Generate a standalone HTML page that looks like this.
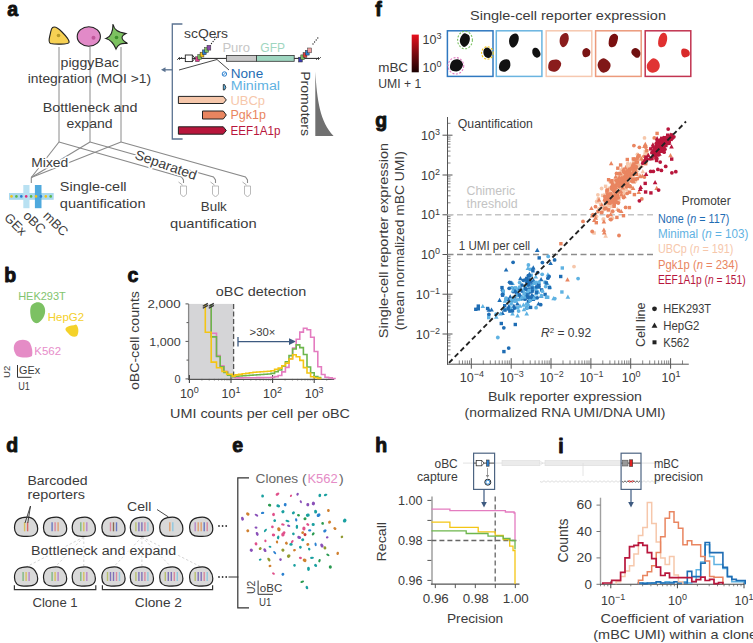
<!DOCTYPE html>
<html><head><meta charset="utf-8"><style>
html,body{margin:0;padding:0;background:#fff;width:753px;height:643px;overflow:hidden}
svg{display:block}
text{font-family:"Liberation Sans", sans-serif}
</style></head><body>
<svg width="753" height="643" viewBox="0 0 753 643">
<rect width="753" height="643" fill="#fff"/>
<text x="7.3" y="16.0" font-size="19.5" font-weight="bold" fill="#111" stroke="#111" stroke-width="0.9" stroke-linejoin="round">a</text>
<line x1="59.0" y1="47.0" x2="59.0" y2="142.0" stroke="#8a8a8a" stroke-width="1.0" stroke-linecap="butt"/>
<line x1="90.0" y1="47.0" x2="90.0" y2="142.0" stroke="#8a8a8a" stroke-width="1.0" stroke-linecap="butt"/>
<line x1="121.0" y1="47.0" x2="121.0" y2="142.0" stroke="#8a8a8a" stroke-width="1.0" stroke-linecap="butt"/>
<line x1="59.0" y1="142.0" x2="31.3" y2="177.5" stroke="#8a8a8a" stroke-width="1.1" stroke-linecap="butt"/>
<line x1="90.0" y1="142.0" x2="31.3" y2="177.5" stroke="#8a8a8a" stroke-width="1.1" stroke-linecap="butt"/>
<line x1="121.0" y1="142.0" x2="31.3" y2="177.5" stroke="#8a8a8a" stroke-width="1.1" stroke-linecap="butt"/>
<line x1="31.3" y1="177.5" x2="31.3" y2="183.0" stroke="#8a8a8a" stroke-width="1.1" stroke-linecap="butt"/>
<path d="M59,142 L181.5,177 L183.5,180 L183.5,183" fill="none" stroke="#8a8a8a" stroke-width="1.1" />
<path d="M90,142 L213.5,177 L215.5,180 L215.5,183" fill="none" stroke="#8a8a8a" stroke-width="1.1" />
<path d="M121,142 L245.5,177 L247.5,180 L247.5,183" fill="none" stroke="#8a8a8a" stroke-width="1.1" />
<path d="M180.5,186 L186.5,186 L186.5,194 Q183.5,199 180.5,194 Z" fill="#fff" stroke="#aaa" stroke-width="0.8" />
<line x1="178.5" y1="182.0" x2="182.5" y2="185.0" stroke="#999" stroke-width="0.8" stroke-linecap="butt"/>
<path d="M212.5,186 L218.5,186 L218.5,194 Q215.5,199 212.5,194 Z" fill="#fff" stroke="#aaa" stroke-width="0.8" />
<line x1="210.5" y1="182.0" x2="214.5" y2="185.0" stroke="#999" stroke-width="0.8" stroke-linecap="butt"/>
<path d="M244.5,186 L250.5,186 L250.5,194 Q247.5,199 244.5,194 Z" fill="#fff" stroke="#aaa" stroke-width="0.8" />
<line x1="242.5" y1="182.0" x2="246.5" y2="185.0" stroke="#999" stroke-width="0.8" stroke-linecap="butt"/>
<path d="M52.6,27.5 C55,26 58,28 62,32 C66,36 70,40 69,42.5 C68,44.5 55,44.5 50.5,43.5 C48,42.5 49,39 50,35 C51,31 51,28.5 52.6,27.5 Z" fill="#f7d154" stroke="#222" stroke-width="1.1" />
<circle cx="58.5" cy="35.5" r="1.80" fill="#b89a2a" stroke="none" stroke-width="1" />
<ellipse cx="88.8" cy="36.5" rx="11.60" ry="9.80" fill="#e28ac8" stroke="#222" stroke-width="1.1" />
<circle cx="93.5" cy="37.8" r="2.00" fill="#c0569a" stroke="none" stroke-width="1" />
<path d="M113,24 C114,30 118,32 126,33.5 C121,36 120,39 127.5,43.5 C121,43 118,44 116,49 C114,44 111,40 106,38.5 C111,37 113,33 113,24 Z" fill="#7cc160" stroke="#222" stroke-width="1.1" />
<circle cx="116.5" cy="37.5" r="1.80" fill="#3f8f2c" stroke="none" stroke-width="1" />
<text x="60.5" y="67.1" font-size="13" fill="#3b3b3b" textLength="58.4" lengthAdjust="spacingAndGlyphs">piggyBac</text>
<text x="27.8" y="82.5" font-size="13" fill="#3b3b3b" textLength="123.2" lengthAdjust="spacingAndGlyphs">integration (MOI &gt;1)</text>
<text x="42.7" y="112.0" font-size="13" fill="#3b3b3b" textLength="94.8" lengthAdjust="spacingAndGlyphs">Bottleneck and</text>
<text x="66.5" y="128.0" font-size="13" fill="#3b3b3b" textLength="46.1" lengthAdjust="spacingAndGlyphs">expand</text>
<text x="31.3" y="167.2" font-size="13" fill="#3b3b3b" textLength="37.0" lengthAdjust="spacingAndGlyphs" stroke="#fff" stroke-width="3" paint-order="stroke" stroke-linejoin="round">Mixed</text>
<text x="59.8" y="191.4" font-size="13" fill="#3b3b3b" textLength="66.8" lengthAdjust="spacingAndGlyphs">Single-cell</text>
<text x="59.8" y="207.6" font-size="13" fill="#3b3b3b" textLength="85.7" lengthAdjust="spacingAndGlyphs">quantification</text>
<text x="200.8" y="211.4" font-size="13" fill="#3b3b3b" textLength="26.0" lengthAdjust="spacingAndGlyphs">Bulk</text>
<text x="170.0" y="227.6" font-size="13" fill="#3b3b3b" textLength="86.6" lengthAdjust="spacingAndGlyphs">quantification</text>
<text x="134.0" y="158.5" font-size="13.5" fill="#3b3b3b" textLength="64.5" lengthAdjust="spacingAndGlyphs" transform="rotate(19.5 134.0 158.5)" stroke="#fff" stroke-width="3" paint-order="stroke" stroke-linejoin="round">Separated</text>
<rect x="9.0" y="193.0" width="44.7" height="6.8" fill="#a9d9ef" stroke="none" stroke-width="1" />
<rect x="23.3" y="185.0" width="6.2" height="23.2" fill="#b9e1f2" stroke="none" stroke-width="1" />
<rect x="34.9" y="185.0" width="6.6" height="23.2" fill="#4fa9dd" stroke="none" stroke-width="1" />
<circle cx="11.5" cy="196.4" r="1.30" fill="#f2c318" stroke="none" stroke-width="1" />
<circle cx="16.4" cy="196.4" r="1.30" fill="#5cb84a" stroke="none" stroke-width="1" />
<circle cx="21.3" cy="196.4" r="1.30" fill="#2a7fd0" stroke="none" stroke-width="1" />
<circle cx="26.2" cy="196.4" r="1.30" fill="#e0307a" stroke="none" stroke-width="1" />
<circle cx="31.1" cy="196.4" r="1.30" fill="#5cb84a" stroke="none" stroke-width="1" />
<circle cx="36.0" cy="196.4" r="1.30" fill="#f2c318" stroke="none" stroke-width="1" />
<circle cx="40.9" cy="196.4" r="1.30" fill="#2a7fd0" stroke="none" stroke-width="1" />
<circle cx="45.8" cy="196.4" r="1.30" fill="#f2c318" stroke="none" stroke-width="1" />
<circle cx="50.7" cy="196.4" r="1.30" fill="#5cb84a" stroke="none" stroke-width="1" />
<text x="3.5" y="218.5" font-size="13" fill="#3b3b3b" transform="rotate(45 3.5 218.5)">GEx</text>
<text x="22.5" y="216.5" font-size="13" fill="#3b3b3b" transform="rotate(45 22.5 216.5)">oBC</text>
<text x="42.5" y="216.5" font-size="13" fill="#3b3b3b" transform="rotate(45 42.5 216.5)">mBC</text>
<path d="M182.4,24 L172.3,24 L172.3,139 L182.6,139" fill="none" stroke="#5b7391" stroke-width="1.3" />
<line x1="172.3" y1="69.8" x2="163.0" y2="69.8" stroke="#5b7391" stroke-width="1.3" stroke-linecap="butt"/>
<path d="M161,69.8 L165.5,67.3 L165.5,72.3 Z" fill="#5b7391" stroke="none" stroke-width="1" />
<text x="184.0" y="38.3" font-size="12.5" fill="#3b3b3b" textLength="44.0" lengthAdjust="spacingAndGlyphs">scQers</text>
<line x1="178.0" y1="58.4" x2="319.0" y2="58.4" stroke="#222" stroke-width="1" stroke-linecap="butt"/>
<rect x="185.3" y="55.0" width="7.0" height="6.6" fill="#fff" stroke="#222" stroke-width="0.9" />
<path d="M192.3,55 L195,58.3 L192.3,61.6" fill="none" stroke="#222" stroke-width="0.9" />
<rect x="195.5" y="56.8" width="3.8" height="4.8" fill="#e03a8c" stroke="#333" stroke-width="0.5" />
<rect x="197.8" y="54.5" width="3.8" height="4.8" fill="#7cc160" stroke="#333" stroke-width="0.5" />
<rect x="200.1" y="52.2" width="3.8" height="4.8" fill="#f2c318" stroke="#333" stroke-width="0.5" />
<rect x="202.4" y="49.9" width="3.8" height="4.8" fill="#2a7fd0" stroke="#333" stroke-width="0.5" />
<rect x="204.7" y="47.6" width="3.8" height="4.8" fill="#7cc160" stroke="#333" stroke-width="0.5" />
<rect x="207.0" y="45.3" width="3.8" height="4.8" fill="#8a4aa8" stroke="#333" stroke-width="0.5" />
<circle cx="211.5" cy="43.5" r="0.65" fill="#222" stroke="none" stroke-width="1" />
<circle cx="213.1" cy="41.5" r="0.65" fill="#222" stroke="none" stroke-width="1" />
<circle cx="214.7" cy="39.5" r="0.65" fill="#222" stroke="none" stroke-width="1" />
<circle cx="216.3" cy="37.5" r="0.65" fill="#222" stroke="none" stroke-width="1" />
<rect x="298.5" y="57.2" width="3.8" height="4.8" fill="#3a3ab0" stroke="#333" stroke-width="0.5" />
<rect x="300.8" y="54.9" width="3.8" height="4.8" fill="#7cc160" stroke="#333" stroke-width="0.5" />
<rect x="303.1" y="52.6" width="3.8" height="4.8" fill="#e03a3a" stroke="#333" stroke-width="0.5" />
<rect x="305.4" y="50.3" width="3.8" height="4.8" fill="#2a7fd0" stroke="#333" stroke-width="0.5" />
<rect x="307.7" y="48.0" width="3.8" height="4.8" fill="#f0a0a0" stroke="#333" stroke-width="0.5" />
<circle cx="313.0" cy="44.0" r="0.65" fill="#222" stroke="none" stroke-width="1" />
<circle cx="314.6" cy="42.0" r="0.65" fill="#222" stroke="none" stroke-width="1" />
<circle cx="316.2" cy="40.0" r="0.65" fill="#222" stroke="none" stroke-width="1" />
<circle cx="317.8" cy="38.0" r="0.65" fill="#222" stroke="none" stroke-width="1" />
<path d="M177,60 L180,57 M179,60 L182,57" fill="none" stroke="#222" stroke-width="0.7" />
<path d="M316,60 L319,57 M318,60 L321,57" fill="none" stroke="#222" stroke-width="0.7" />
<rect x="226.4" y="55.4" width="30.1" height="5.9" fill="#c9c9c9" stroke="#333" stroke-width="0.8" />
<rect x="256.5" y="55.4" width="37.7" height="5.9" fill="#9ed6c0" stroke="#333" stroke-width="0.8" />
<text x="222.4" y="52.2" font-size="12.5" fill="#c6c6c6" textLength="27.6" lengthAdjust="spacingAndGlyphs">Puro</text>
<text x="260.3" y="52.2" font-size="12.5" fill="#9fd6c0" textLength="24.7" lengthAdjust="spacingAndGlyphs">GFP</text>
<line x1="179.0" y1="70.0" x2="217.0" y2="59.5" stroke="#333" stroke-width="0.9" stroke-linecap="butt"/>
<line x1="217.0" y1="59.5" x2="229.0" y2="70.0" stroke="#333" stroke-width="0.9" stroke-linecap="butt"/>
<circle cx="224.4" cy="74.0" r="2.20" fill="#fff" stroke="#2a7fd0" stroke-width="1" />
<line x1="222.9" y1="75.5" x2="225.9" y2="72.5" stroke="#2a7fd0" stroke-width="0.9" stroke-linecap="butt"/>
<path d="M223.3,84.5 L224.5,84.5 Q227.3,87.3 224.5,90 L223.3,90 Z" fill="#5fb2e2" stroke="#222" stroke-width="0.8" />
<path d="M178.4,96.4 L223.3,96.4 L226.3,99.95 L223.3,103.5 L178.4,103.5 Z" fill="#f6c7ab" stroke="#222" stroke-width="1" />
<path d="M202.5,111 L223.3,111 L226.3,115.0 L223.3,119 L202.5,119 Z" fill="#e98560" stroke="#222" stroke-width="1" />
<path d="M178.4,126.8 L223.3,126.8 L226.3,130.5 L223.3,134.2 L178.4,134.2 Z" fill="#b8163c" stroke="#222" stroke-width="1" />
<text x="230.8" y="78.4" font-size="12.5" fill="#1f6db4" textLength="32.4" lengthAdjust="spacingAndGlyphs">None</text>
<text x="230.8" y="90.0" font-size="12.5" fill="#5fb2e2" textLength="49.2" lengthAdjust="spacingAndGlyphs">Minimal</text>
<text x="230.5" y="104.5" font-size="12.5" fill="#f6c7ab" textLength="34.5" lengthAdjust="spacingAndGlyphs">UBCp</text>
<text x="230.5" y="119.0" font-size="12.5" fill="#e98560" textLength="35.5" lengthAdjust="spacingAndGlyphs">Pgk1p</text>
<text x="230.5" y="134.6" font-size="12.5" fill="#b8163c" textLength="49.9" lengthAdjust="spacingAndGlyphs">EEF1A1p</text>
<text x="300.5" y="71.2" font-size="13" fill="#3b3b3b" textLength="64.9" lengthAdjust="spacingAndGlyphs" transform="rotate(90 300.5 71.2)">Promoters</text>
<path d="M315.3,71.8 C317,100 320,122 333.6,136 L315.3,136 Z" fill="#707070" stroke="none" stroke-width="1" />
<text x="4.3" y="282.0" font-size="19.5" font-weight="bold" fill="#111" stroke="#111" stroke-width="0.9" stroke-linejoin="round">b</text>
<path d="M33,304 C38,300 44,303 45,309 C46,315 42,321 38,323 C34,324 31,320 30.5,315 C30,310 30,306 33,304 Z" fill="#7cc163" stroke="none" stroke-width="1" />
<path d="M67,327 C70,325 73,326 76,324.5 C79,327 79,333 77,336 C74,338 70,336 68,333 C66,331 64,329 67,327 Z" fill="#f4d22a" stroke="none" stroke-width="1" />
<path d="M16,342 C20,339 27,339 30,343 C32,347 33,352 32,356 C28,358 22,358 17,356 C14,353 12,346 16,342 Z" fill="#e58cc6" stroke="none" stroke-width="1" />
<text x="18.2" y="299.5" font-size="11" fill="#82c46e" textLength="47.6" lengthAdjust="spacingAndGlyphs">HEK293T</text>
<text x="47.8" y="321.2" font-size="11" fill="#f4cf2a" textLength="36.2" lengthAdjust="spacingAndGlyphs">HepG2</text>
<text x="34.3" y="354.5" font-size="11" fill="#e78dca" textLength="26.8" lengthAdjust="spacingAndGlyphs">K562</text>
<text x="10.3" y="378.0" font-size="9.5" fill="#3b3b3b" textLength="12.2" lengthAdjust="spacingAndGlyphs" transform="rotate(-90 10.3 378.0)">U2</text>
<line x1="17.5" y1="365.0" x2="17.5" y2="377.3" stroke="#333" stroke-width="1" stroke-linecap="butt"/>
<line x1="17.5" y1="377.3" x2="31.5" y2="377.3" stroke="#333" stroke-width="1" stroke-linecap="butt"/>
<text x="19.1" y="374.0" font-size="10.5" fill="#3b3b3b" textLength="21.0" lengthAdjust="spacingAndGlyphs">GEx</text>
<text x="18.2" y="390.0" font-size="10.5" fill="#3b3b3b" textLength="11.7" lengthAdjust="spacingAndGlyphs">U1</text>
<text x="127.6" y="282.0" font-size="19.5" font-weight="bold" fill="#111" stroke="#111" stroke-width="0.9" stroke-linejoin="round">c</text>
<rect x="188.5" y="303.9" width="45.0" height="75.0" fill="#d5d5d7" stroke="none" stroke-width="1" />
<line x1="233.6" y1="303.9" x2="233.6" y2="379.0" stroke="#555" stroke-width="1.3" stroke-dasharray="5,2.5" stroke-linecap="butt"/>
<line x1="188.6" y1="303.9" x2="188.6" y2="379.8" stroke="#888" stroke-width="1.3" stroke-linecap="butt"/>
<line x1="188.0" y1="379.4" x2="334.2" y2="379.4" stroke="#555" stroke-width="1.1" stroke-linecap="butt"/>
<line x1="185.5" y1="378.9" x2="188.5" y2="378.9" stroke="#555" stroke-width="1" stroke-linecap="butt"/>
<line x1="186.5" y1="360.1" x2="188.5" y2="360.1" stroke="#555" stroke-width="1" stroke-linecap="butt"/>
<line x1="185.5" y1="341.4" x2="188.5" y2="341.4" stroke="#555" stroke-width="1" stroke-linecap="butt"/>
<line x1="186.5" y1="322.6" x2="188.5" y2="322.6" stroke="#555" stroke-width="1" stroke-linecap="butt"/>
<line x1="185.5" y1="303.9" x2="188.5" y2="303.9" stroke="#555" stroke-width="1" stroke-linecap="butt"/>
<line x1="189.4" y1="375.0" x2="189.4" y2="383.0" stroke="#444" stroke-width="1.1" stroke-linecap="butt"/>
<line x1="201.9" y1="378.9" x2="201.9" y2="380.5" stroke="#555" stroke-width="0.7" stroke-linecap="butt"/>
<line x1="209.2" y1="378.9" x2="209.2" y2="380.5" stroke="#555" stroke-width="0.7" stroke-linecap="butt"/>
<line x1="214.4" y1="378.9" x2="214.4" y2="380.5" stroke="#555" stroke-width="0.7" stroke-linecap="butt"/>
<line x1="218.5" y1="378.9" x2="218.5" y2="380.5" stroke="#555" stroke-width="0.7" stroke-linecap="butt"/>
<line x1="221.8" y1="378.9" x2="221.8" y2="380.5" stroke="#555" stroke-width="0.7" stroke-linecap="butt"/>
<line x1="224.6" y1="378.9" x2="224.6" y2="380.5" stroke="#555" stroke-width="0.7" stroke-linecap="butt"/>
<line x1="227.0" y1="378.9" x2="227.0" y2="380.5" stroke="#555" stroke-width="0.7" stroke-linecap="butt"/>
<line x1="229.1" y1="378.9" x2="229.1" y2="380.5" stroke="#555" stroke-width="0.7" stroke-linecap="butt"/>
<line x1="231.0" y1="375.0" x2="231.0" y2="383.0" stroke="#444" stroke-width="1.1" stroke-linecap="butt"/>
<line x1="243.5" y1="378.9" x2="243.5" y2="380.5" stroke="#555" stroke-width="0.7" stroke-linecap="butt"/>
<line x1="250.8" y1="378.9" x2="250.8" y2="380.5" stroke="#555" stroke-width="0.7" stroke-linecap="butt"/>
<line x1="256.0" y1="378.9" x2="256.0" y2="380.5" stroke="#555" stroke-width="0.7" stroke-linecap="butt"/>
<line x1="260.1" y1="378.9" x2="260.1" y2="380.5" stroke="#555" stroke-width="0.7" stroke-linecap="butt"/>
<line x1="263.4" y1="378.9" x2="263.4" y2="380.5" stroke="#555" stroke-width="0.7" stroke-linecap="butt"/>
<line x1="266.2" y1="378.9" x2="266.2" y2="380.5" stroke="#555" stroke-width="0.7" stroke-linecap="butt"/>
<line x1="268.6" y1="378.9" x2="268.6" y2="380.5" stroke="#555" stroke-width="0.7" stroke-linecap="butt"/>
<line x1="270.7" y1="378.9" x2="270.7" y2="380.5" stroke="#555" stroke-width="0.7" stroke-linecap="butt"/>
<line x1="272.6" y1="375.0" x2="272.6" y2="383.0" stroke="#444" stroke-width="1.1" stroke-linecap="butt"/>
<line x1="285.1" y1="378.9" x2="285.1" y2="380.5" stroke="#555" stroke-width="0.7" stroke-linecap="butt"/>
<line x1="292.4" y1="378.9" x2="292.4" y2="380.5" stroke="#555" stroke-width="0.7" stroke-linecap="butt"/>
<line x1="297.6" y1="378.9" x2="297.6" y2="380.5" stroke="#555" stroke-width="0.7" stroke-linecap="butt"/>
<line x1="301.7" y1="378.9" x2="301.7" y2="380.5" stroke="#555" stroke-width="0.7" stroke-linecap="butt"/>
<line x1="305.0" y1="378.9" x2="305.0" y2="380.5" stroke="#555" stroke-width="0.7" stroke-linecap="butt"/>
<line x1="307.8" y1="378.9" x2="307.8" y2="380.5" stroke="#555" stroke-width="0.7" stroke-linecap="butt"/>
<line x1="310.2" y1="378.9" x2="310.2" y2="380.5" stroke="#555" stroke-width="0.7" stroke-linecap="butt"/>
<line x1="312.3" y1="378.9" x2="312.3" y2="380.5" stroke="#555" stroke-width="0.7" stroke-linecap="butt"/>
<line x1="314.2" y1="375.0" x2="314.2" y2="383.0" stroke="#444" stroke-width="1.1" stroke-linecap="butt"/>
<line x1="326.7" y1="378.9" x2="326.7" y2="380.5" stroke="#555" stroke-width="0.7" stroke-linecap="butt"/>
<text x="147.4" y="308.4" font-size="11" fill="#3b3b3b" textLength="33.2" lengthAdjust="spacingAndGlyphs">2,000</text>
<text x="149.3" y="346.0" font-size="11" fill="#3b3b3b" textLength="31.3" lengthAdjust="spacingAndGlyphs">1,000</text>
<text x="174.5" y="383.2" font-size="11" fill="#3b3b3b" textLength="6.1" lengthAdjust="spacingAndGlyphs">0</text>
<text x="179.9" y="398.0" font-size="12.5" fill="#3b3b3b">10<tspan font-size="9" dy="-4.8">0</tspan></text>
<text x="221.5" y="398.0" font-size="12.5" fill="#3b3b3b">10<tspan font-size="9" dy="-4.8">1</tspan></text>
<text x="263.1" y="398.0" font-size="12.5" fill="#3b3b3b">10<tspan font-size="9" dy="-4.8">2</tspan></text>
<text x="304.7" y="398.0" font-size="12.5" fill="#3b3b3b">10<tspan font-size="9" dy="-4.8">3</tspan></text>
<text x="170.0" y="418.0" font-size="13" fill="#3b3b3b" textLength="180.0" lengthAdjust="spacingAndGlyphs">UMI counts per cell per oBC</text>
<text x="139.0" y="390.1" font-size="13" fill="#3b3b3b" textLength="99.0" lengthAdjust="spacingAndGlyphs" transform="rotate(-90 139.0 390.1)">oBC-cell counts</text>
<text x="215.8" y="295.9" font-size="12.5" fill="#3b3b3b" textLength="90.4" lengthAdjust="spacingAndGlyphs">oBC detection</text>
<text x="249.6" y="336.0" font-size="11.5" fill="#3b3b3b" textLength="25.8" lengthAdjust="spacingAndGlyphs">&gt;30×</text>
<line x1="238.0" y1="341.6" x2="292.0" y2="341.6" stroke="#3d5a80" stroke-width="1.3" stroke-linecap="butt"/>
<line x1="238.0" y1="337.0" x2="238.0" y2="346.5" stroke="#3d5a80" stroke-width="1.3" stroke-linecap="butt"/>
<path d="M296,341.6 L289,338.3 L289,344.9 Z" fill="#3d5a80" stroke="none" stroke-width="1" />
<path d="M211.2,303.9 L211.2,333.2 L216.5,333.2 L216.5,355.6 L220.2,355.6 L220.2,365.9 L223.9,365.9 L223.9,371.5 L227.6,371.5 L227.6,374.8 L231.5,374.8 L231.5,376.6 L235.0,376.6 L235.0,377.9 L238.6,377.9 L238.6,377.9 L242.2,377.9 L242.2,377.8 L245.8,377.8 L245.8,377.8 L249.4,377.8 L249.4,377.7 L253.0,377.7 L253.0,377.7 L256.6,377.7 L256.6,377.6 L260.2,377.6 L260.2,377.6 L263.8,377.6 L263.8,377.5 L267.4,377.5 L267.4,377.5 L271.0,377.5 L271.0,377.4 L274.6,377.4 L274.6,376.6 L278.2,376.6 L278.2,375.5 L281.8,375.5 L281.8,371.9 L285.4,371.9 L285.4,367.4 L289.0,367.4 L289.0,358.8 L292.6,358.8 L292.6,348.0 L296.2,348.0 L296.2,339.3 L299.8,339.3 L299.8,332.1 L303.4,332.1 L303.4,328.2 L307.0,328.2 L307.0,329.8 L310.6,329.8 L310.6,337.2 L314.2,337.2 L314.2,351.5 L317.8,351.5 L317.8,366.8 L321.4,366.8 L321.4,374.5 L325.0,374.5 L325.0,377.2 L328.6,377.2 L328.6,377.9 L332.2,377.9 L332.2,378.5 L335.8,378.5" fill="none" stroke="#e47cc0" stroke-width="1.6" />
<path d="M211.2,303.9 L211.2,336.9 L216.5,336.9 L216.5,356.5 L220.2,356.5 L220.2,366.8 L223.9,366.8 L223.9,372.4 L227.6,372.4 L227.6,375.2 L231.5,375.2 L231.5,376.6 L235.0,376.6 L235.0,376.3 L238.6,376.3 L238.6,376.0 L242.2,376.0 L242.2,375.7 L245.8,375.7 L245.8,375.5 L249.4,375.5 L249.4,375.2 L253.0,375.2 L253.0,375.0 L256.6,375.0 L256.6,374.8 L260.2,374.8 L260.2,374.5 L263.8,374.5 L263.8,374.3 L267.4,374.3 L267.4,374.0 L271.0,374.0 L271.0,373.4 L274.6,373.4 L274.6,371.7 L278.2,371.7 L278.2,370.0 L281.8,370.0 L281.8,366.3 L285.4,366.3 L285.4,361.8 L289.0,361.8 L289.0,355.6 L292.6,355.6 L292.6,349.0 L296.2,349.0 L296.2,344.9 L299.8,344.9 L299.8,347.6 L303.4,347.6 L303.4,354.5 L307.0,354.5 L307.0,367.0 L310.6,367.0 L310.6,372.8 L314.2,372.8 L314.2,376.6 L317.8,376.6 L317.8,377.6 L321.4,377.6" fill="none" stroke="#6db64c" stroke-width="1.6" />
<path d="M205.3,303.9 L205.3,332.3 L211.2,332.3 L211.2,362.1 L216.5,362.1 L216.5,367.7 L222.0,367.7 L222.0,371.5 L226.7,371.5 L226.7,374.3 L232.3,374.3 L232.3,376.1 L235.0,376.1 L235.0,374.9 L238.6,374.9 L238.6,374.4 L242.2,374.4 L242.2,373.8 L245.8,373.8 L245.8,373.2 L249.4,373.2 L249.4,372.7 L253.0,372.7 L253.0,372.3 L256.6,372.3 L256.6,372.0 L260.2,372.0 L260.2,371.8 L263.8,371.8 L263.8,371.5 L267.4,371.5 L267.4,371.3 L271.0,371.3 L271.0,370.7 L274.6,370.7 L274.6,369.4 L278.2,369.4 L278.2,368.1 L281.8,368.1 L281.8,365.8 L285.4,365.8 L285.4,363.1 L289.0,363.1 L289.0,359.0 L292.6,359.0 L292.6,354.8 L296.2,354.8 L296.2,356.7 L299.8,356.7 L299.8,360.4 L303.4,360.4 L303.4,367.6 L307.0,367.6 L307.0,373.0 L310.6,373.0 L310.6,376.7 L314.2,376.7 L314.2,377.8 L317.8,377.8 L317.8,378.4 L321.4,378.4" fill="none" stroke="#f4c514" stroke-width="1.6" />
<line x1="202.8" y1="306.2" x2="207.8" y2="303.4" stroke="#333" stroke-width="1.3" stroke-linecap="butt"/>
<line x1="202.8" y1="308.2" x2="207.8" y2="305.4" stroke="#333" stroke-width="1.3" stroke-linecap="butt"/>
<line x1="208.8" y1="306.2" x2="213.8" y2="303.4" stroke="#333" stroke-width="1.3" stroke-linecap="butt"/>
<line x1="208.8" y1="308.2" x2="213.8" y2="305.4" stroke="#333" stroke-width="1.3" stroke-linecap="butt"/>
<text x="6.3" y="452.0" font-size="19.5" font-weight="bold" fill="#111" stroke="#111" stroke-width="0.9" stroke-linejoin="round">d</text>
<line x1="83.8" y1="537.0" x2="26.1" y2="567.0" stroke="#d0d0d0" stroke-width="0.9" stroke-dasharray="2.5,2" stroke-linecap="butt"/>
<line x1="83.8" y1="537.0" x2="55.1" y2="567.0" stroke="#d0d0d0" stroke-width="0.9" stroke-dasharray="2.5,2" stroke-linecap="butt"/>
<line x1="83.8" y1="537.0" x2="83.8" y2="567.0" stroke="#d0d0d0" stroke-width="0.9" stroke-dasharray="2.5,2" stroke-linecap="butt"/>
<line x1="141.9" y1="537.0" x2="113.5" y2="567.0" stroke="#d0d0d0" stroke-width="0.9" stroke-dasharray="2.5,2" stroke-linecap="butt"/>
<line x1="141.9" y1="537.0" x2="141.9" y2="567.0" stroke="#d0d0d0" stroke-width="0.9" stroke-dasharray="2.5,2" stroke-linecap="butt"/>
<line x1="141.9" y1="537.0" x2="171.3" y2="567.0" stroke="#d0d0d0" stroke-width="0.9" stroke-dasharray="2.5,2" stroke-linecap="butt"/>
<line x1="141.9" y1="537.0" x2="201.2" y2="567.0" stroke="#d0d0d0" stroke-width="0.9" stroke-dasharray="2.5,2" stroke-linecap="butt"/>
<path d="M14.500000000000002,527.8 C14.500000000000002,518.1999999999999 21.46,517.1999999999999 27.26,517.1999999999999 C34.22,517.1999999999999 37.7,523.92 37.7,528.8 C37.7,536.4 30.740000000000002,536.4 23.78,536.4 C16.82,536.4 14.500000000000002,532.56 14.500000000000002,527.8 Z" fill="#d9d9d9" stroke="#222" stroke-width="1.2" />
<line x1="24.6" y1="522.3" x2="24.6" y2="531.3" stroke="#d8c060" stroke-width="1.4" stroke-linecap="butt"/>
<line x1="27.6" y1="522.3" x2="27.6" y2="531.3" stroke="#d86868" stroke-width="1.4" stroke-linecap="butt"/>
<path d="M43.5,527.8 C43.5,518.1999999999999 50.46,517.1999999999999 56.26,517.1999999999999 C63.22,517.1999999999999 66.7,523.92 66.7,528.8 C66.7,536.4 59.74,536.4 52.78,536.4 C45.82,536.4 43.5,532.56 43.5,527.8 Z" fill="#d9d9d9" stroke="#222" stroke-width="1.2" />
<line x1="52.1" y1="522.3" x2="52.1" y2="531.3" stroke="#6878c0" stroke-width="1.4" stroke-linecap="butt"/>
<line x1="55.1" y1="522.3" x2="55.1" y2="531.3" stroke="#d888a0" stroke-width="1.4" stroke-linecap="butt"/>
<line x1="58.1" y1="522.3" x2="58.1" y2="531.3" stroke="#e0a070" stroke-width="1.4" stroke-linecap="butt"/>
<path d="M72.2,527.8 C72.2,518.1999999999999 79.16,517.1999999999999 84.96,517.1999999999999 C91.92,517.1999999999999 95.39999999999999,523.92 95.39999999999999,528.8 C95.39999999999999,536.4 88.44,536.4 81.48,536.4 C74.52,536.4 72.2,532.56 72.2,527.8 Z" fill="#d9d9d9" stroke="#222" stroke-width="1.2" />
<line x1="80.8" y1="522.3" x2="80.8" y2="531.3" stroke="#80b880" stroke-width="1.4" stroke-linecap="butt"/>
<line x1="83.8" y1="522.3" x2="83.8" y2="531.3" stroke="#d8c060" stroke-width="1.4" stroke-linecap="butt"/>
<line x1="86.8" y1="522.3" x2="86.8" y2="531.3" stroke="#b888c8" stroke-width="1.4" stroke-linecap="butt"/>
<path d="M101.9,527.8 C101.9,518.1999999999999 108.86,517.1999999999999 114.66,517.1999999999999 C121.62,517.1999999999999 125.1,523.92 125.1,528.8 C125.1,536.4 118.14,536.4 111.18,536.4 C104.22,536.4 101.9,532.56 101.9,527.8 Z" fill="#d9d9d9" stroke="#222" stroke-width="1.2" />
<line x1="110.5" y1="522.3" x2="110.5" y2="531.3" stroke="#d888a0" stroke-width="1.4" stroke-linecap="butt"/>
<line x1="113.5" y1="522.3" x2="113.5" y2="531.3" stroke="#8a6a50" stroke-width="1.4" stroke-linecap="butt"/>
<line x1="116.5" y1="522.3" x2="116.5" y2="531.3" stroke="#6878c0" stroke-width="1.4" stroke-linecap="butt"/>
<path d="M130.3,527.8 C130.3,518.1999999999999 137.26000000000002,517.1999999999999 143.06,517.1999999999999 C150.02,517.1999999999999 153.5,523.92 153.5,528.8 C153.5,536.4 146.54,536.4 139.58,536.4 C132.62,536.4 130.3,532.56 130.3,527.8 Z" fill="#d9d9d9" stroke="#222" stroke-width="1.2" />
<line x1="135.9" y1="522.3" x2="135.9" y2="531.3" stroke="#b8c070" stroke-width="1.4" stroke-linecap="butt"/>
<line x1="138.9" y1="522.3" x2="138.9" y2="531.3" stroke="#8070b8" stroke-width="1.4" stroke-linecap="butt"/>
<line x1="141.9" y1="522.3" x2="141.9" y2="531.3" stroke="#8070b8" stroke-width="1.4" stroke-linecap="butt"/>
<line x1="144.9" y1="522.3" x2="144.9" y2="531.3" stroke="#d888a0" stroke-width="1.4" stroke-linecap="butt"/>
<line x1="147.9" y1="522.3" x2="147.9" y2="531.3" stroke="#90c8e0" stroke-width="1.4" stroke-linecap="butt"/>
<path d="M159.70000000000002,527.8 C159.70000000000002,518.1999999999999 166.66000000000003,517.1999999999999 172.46,517.1999999999999 C179.42000000000002,517.1999999999999 182.9,523.92 182.9,528.8 C182.9,536.4 175.94,536.4 168.98000000000002,536.4 C162.02,536.4 159.70000000000002,532.56 159.70000000000002,527.8 Z" fill="#d9d9d9" stroke="#222" stroke-width="1.2" />
<line x1="169.8" y1="522.3" x2="169.8" y2="531.3" stroke="#e0a070" stroke-width="1.4" stroke-linecap="butt"/>
<line x1="172.8" y1="522.3" x2="172.8" y2="531.3" stroke="#90c8e0" stroke-width="1.4" stroke-linecap="butt"/>
<path d="M189.6,527.8 C189.6,518.1999999999999 196.56,517.1999999999999 202.35999999999999,517.1999999999999 C209.32,517.1999999999999 212.79999999999998,523.92 212.79999999999998,528.8 C212.79999999999998,536.4 205.83999999999997,536.4 198.88,536.4 C191.92,536.4 189.6,532.56 189.6,527.8 Z" fill="#d9d9d9" stroke="#222" stroke-width="1.2" />
<line x1="195.2" y1="522.3" x2="195.2" y2="531.3" stroke="#b888c8" stroke-width="1.4" stroke-linecap="butt"/>
<line x1="198.2" y1="522.3" x2="198.2" y2="531.3" stroke="#e0a070" stroke-width="1.4" stroke-linecap="butt"/>
<line x1="201.2" y1="522.3" x2="201.2" y2="531.3" stroke="#e0a070" stroke-width="1.4" stroke-linecap="butt"/>
<line x1="204.2" y1="522.3" x2="204.2" y2="531.3" stroke="#6878c0" stroke-width="1.4" stroke-linecap="butt"/>
<line x1="207.2" y1="522.3" x2="207.2" y2="531.3" stroke="#d888a0" stroke-width="1.4" stroke-linecap="butt"/>
<path d="M14.500000000000002,577.5 C14.500000000000002,567.9 21.46,566.9 27.26,566.9 C34.22,566.9 37.7,573.62 37.7,578.5 C37.7,586.1 30.740000000000002,586.1 23.78,586.1 C16.82,586.1 14.500000000000002,582.26 14.500000000000002,577.5 Z" fill="#d9d9d9" stroke="#222" stroke-width="1.2" />
<line x1="23.1" y1="572.0" x2="23.1" y2="581.0" stroke="#80b880" stroke-width="1.4" stroke-linecap="butt"/>
<line x1="26.1" y1="572.0" x2="26.1" y2="581.0" stroke="#d8c060" stroke-width="1.4" stroke-linecap="butt"/>
<line x1="29.1" y1="572.0" x2="29.1" y2="581.0" stroke="#b888c8" stroke-width="1.4" stroke-linecap="butt"/>
<path d="M43.5,577.5 C43.5,567.9 50.46,566.9 56.26,566.9 C63.22,566.9 66.7,573.62 66.7,578.5 C66.7,586.1 59.74,586.1 52.78,586.1 C45.82,586.1 43.5,582.26 43.5,577.5 Z" fill="#d9d9d9" stroke="#222" stroke-width="1.2" />
<line x1="52.1" y1="572.0" x2="52.1" y2="581.0" stroke="#80b880" stroke-width="1.4" stroke-linecap="butt"/>
<line x1="55.1" y1="572.0" x2="55.1" y2="581.0" stroke="#d8c060" stroke-width="1.4" stroke-linecap="butt"/>
<line x1="58.1" y1="572.0" x2="58.1" y2="581.0" stroke="#b888c8" stroke-width="1.4" stroke-linecap="butt"/>
<path d="M72.2,577.5 C72.2,567.9 79.16,566.9 84.96,566.9 C91.92,566.9 95.39999999999999,573.62 95.39999999999999,578.5 C95.39999999999999,586.1 88.44,586.1 81.48,586.1 C74.52,586.1 72.2,582.26 72.2,577.5 Z" fill="#d9d9d9" stroke="#222" stroke-width="1.2" />
<line x1="80.8" y1="572.0" x2="80.8" y2="581.0" stroke="#80b880" stroke-width="1.4" stroke-linecap="butt"/>
<line x1="83.8" y1="572.0" x2="83.8" y2="581.0" stroke="#d8c060" stroke-width="1.4" stroke-linecap="butt"/>
<line x1="86.8" y1="572.0" x2="86.8" y2="581.0" stroke="#b888c8" stroke-width="1.4" stroke-linecap="butt"/>
<path d="M101.9,577.5 C101.9,567.9 108.86,566.9 114.66,566.9 C121.62,566.9 125.1,573.62 125.1,578.5 C125.1,586.1 118.14,586.1 111.18,586.1 C104.22,586.1 101.9,582.26 101.9,577.5 Z" fill="#d9d9d9" stroke="#222" stroke-width="1.2" />
<line x1="107.5" y1="572.0" x2="107.5" y2="581.0" stroke="#b8c070" stroke-width="1.4" stroke-linecap="butt"/>
<line x1="110.5" y1="572.0" x2="110.5" y2="581.0" stroke="#8070b8" stroke-width="1.4" stroke-linecap="butt"/>
<line x1="113.5" y1="572.0" x2="113.5" y2="581.0" stroke="#8070b8" stroke-width="1.4" stroke-linecap="butt"/>
<line x1="116.5" y1="572.0" x2="116.5" y2="581.0" stroke="#d888a0" stroke-width="1.4" stroke-linecap="butt"/>
<line x1="119.5" y1="572.0" x2="119.5" y2="581.0" stroke="#90c8e0" stroke-width="1.4" stroke-linecap="butt"/>
<path d="M130.3,577.5 C130.3,567.9 137.26000000000002,566.9 143.06,566.9 C150.02,566.9 153.5,573.62 153.5,578.5 C153.5,586.1 146.54,586.1 139.58,586.1 C132.62,586.1 130.3,582.26 130.3,577.5 Z" fill="#d9d9d9" stroke="#222" stroke-width="1.2" />
<line x1="135.9" y1="572.0" x2="135.9" y2="581.0" stroke="#b8c070" stroke-width="1.4" stroke-linecap="butt"/>
<line x1="138.9" y1="572.0" x2="138.9" y2="581.0" stroke="#8070b8" stroke-width="1.4" stroke-linecap="butt"/>
<line x1="141.9" y1="572.0" x2="141.9" y2="581.0" stroke="#8070b8" stroke-width="1.4" stroke-linecap="butt"/>
<line x1="144.9" y1="572.0" x2="144.9" y2="581.0" stroke="#d888a0" stroke-width="1.4" stroke-linecap="butt"/>
<line x1="147.9" y1="572.0" x2="147.9" y2="581.0" stroke="#90c8e0" stroke-width="1.4" stroke-linecap="butt"/>
<path d="M159.70000000000002,577.5 C159.70000000000002,567.9 166.66000000000003,566.9 172.46,566.9 C179.42000000000002,566.9 182.9,573.62 182.9,578.5 C182.9,586.1 175.94,586.1 168.98000000000002,586.1 C162.02,586.1 159.70000000000002,582.26 159.70000000000002,577.5 Z" fill="#d9d9d9" stroke="#222" stroke-width="1.2" />
<line x1="165.3" y1="572.0" x2="165.3" y2="581.0" stroke="#b8c070" stroke-width="1.4" stroke-linecap="butt"/>
<line x1="168.3" y1="572.0" x2="168.3" y2="581.0" stroke="#8070b8" stroke-width="1.4" stroke-linecap="butt"/>
<line x1="171.3" y1="572.0" x2="171.3" y2="581.0" stroke="#8070b8" stroke-width="1.4" stroke-linecap="butt"/>
<line x1="174.3" y1="572.0" x2="174.3" y2="581.0" stroke="#d888a0" stroke-width="1.4" stroke-linecap="butt"/>
<line x1="177.3" y1="572.0" x2="177.3" y2="581.0" stroke="#90c8e0" stroke-width="1.4" stroke-linecap="butt"/>
<path d="M189.6,577.5 C189.6,567.9 196.56,566.9 202.35999999999999,566.9 C209.32,566.9 212.79999999999998,573.62 212.79999999999998,578.5 C212.79999999999998,586.1 205.83999999999997,586.1 198.88,586.1 C191.92,586.1 189.6,582.26 189.6,577.5 Z" fill="#d9d9d9" stroke="#222" stroke-width="1.2" />
<line x1="195.2" y1="572.0" x2="195.2" y2="581.0" stroke="#b8c070" stroke-width="1.4" stroke-linecap="butt"/>
<line x1="198.2" y1="572.0" x2="198.2" y2="581.0" stroke="#8070b8" stroke-width="1.4" stroke-linecap="butt"/>
<line x1="201.2" y1="572.0" x2="201.2" y2="581.0" stroke="#8070b8" stroke-width="1.4" stroke-linecap="butt"/>
<line x1="204.2" y1="572.0" x2="204.2" y2="581.0" stroke="#d888a0" stroke-width="1.4" stroke-linecap="butt"/>
<line x1="207.2" y1="572.0" x2="207.2" y2="581.0" stroke="#90c8e0" stroke-width="1.4" stroke-linecap="butt"/>
<circle cx="219.0" cy="526.0" r="0.90" fill="#333" stroke="none" stroke-width="1" />
<circle cx="222.6" cy="526.0" r="0.90" fill="#333" stroke="none" stroke-width="1" />
<circle cx="226.2" cy="526.0" r="0.90" fill="#333" stroke="none" stroke-width="1" />
<circle cx="219.0" cy="577.0" r="0.90" fill="#333" stroke="none" stroke-width="1" />
<circle cx="222.6" cy="577.0" r="0.90" fill="#333" stroke="none" stroke-width="1" />
<circle cx="226.2" cy="577.0" r="0.90" fill="#333" stroke="none" stroke-width="1" />
<line x1="228.5" y1="577.0" x2="238.4" y2="577.0" stroke="#333" stroke-width="1" stroke-linecap="butt"/>
<text x="27.4" y="485.4" font-size="12.5" fill="#3b3b3b" textLength="60.2" lengthAdjust="spacingAndGlyphs">Barcoded</text>
<text x="27.4" y="498.6" font-size="12.5" fill="#3b3b3b" textLength="57.7" lengthAdjust="spacingAndGlyphs">reporters</text>
<line x1="30.5" y1="506.0" x2="25.0" y2="523.0" stroke="#333" stroke-width="0.9" stroke-linecap="butt"/>
<line x1="30.5" y1="506.0" x2="27.8" y2="523.0" stroke="#333" stroke-width="0.9" stroke-linecap="butt"/>
<text x="127.1" y="511.0" font-size="12.5" fill="#3b3b3b" textLength="24.3" lengthAdjust="spacingAndGlyphs">Cell</text>
<line x1="157.0" y1="509.5" x2="168.5" y2="517.0" stroke="#333" stroke-width="0.9" stroke-linecap="butt"/>
<text x="31.1" y="555.3" font-size="12.5" fill="#3b3b3b" textLength="145.1" lengthAdjust="spacingAndGlyphs" stroke="#fff" stroke-width="3" paint-order="stroke" stroke-linejoin="round">Bottleneck and expand</text>
<path d="M14.4,585.2 L14.4,589.6 L95.8,589.6 L95.8,585.2" fill="none" stroke="#333" stroke-width="1.2" />
<path d="M102.4,585.2 L102.4,589.6 L212.6,589.6 L212.6,585.2" fill="none" stroke="#333" stroke-width="1.2" />
<text x="32.4" y="606.9" font-size="12.5" fill="#3b3b3b" textLength="45.3" lengthAdjust="spacingAndGlyphs">Clone 1</text>
<text x="134.8" y="606.6" font-size="12.5" fill="#3b3b3b" textLength="47.2" lengthAdjust="spacingAndGlyphs">Clone 2</text>
<text x="232.3" y="452.0" font-size="19.5" font-weight="bold" fill="#111" stroke="#111" stroke-width="0.9" stroke-linejoin="round">e</text>
<path d="M249,477.8 L237.8,477.8 L237.8,607.9 L249,607.9" fill="none" stroke="#333" stroke-width="1.2" />
<text x="255.5" y="483.2" font-size="12.5" fill="#666" textLength="51.0" lengthAdjust="spacingAndGlyphs">Clones (</text>
<text x="307.4" y="483.2" font-size="12.5" fill="#e58cc6" textLength="30.3" lengthAdjust="spacingAndGlyphs">K562</text>
<text x="338.9" y="483.2" font-size="12.5" fill="#666" textLength="4.7" lengthAdjust="spacingAndGlyphs">)</text>
<ellipse cx="262.6" cy="496.1" rx="1.49" ry="1.38" fill="#1aa0a0" stroke="none" stroke-width="1" transform="rotate(94 262.6 496.1)"/>
<ellipse cx="277.5" cy="494.2" rx="2.03" ry="1.33" fill="#e0508a" stroke="none" stroke-width="1" transform="rotate(148 277.5 494.2)"/>
<ellipse cx="291.0" cy="495.8" rx="1.35" ry="1.01" fill="#e0508a" stroke="none" stroke-width="1" transform="rotate(120 291.0 495.8)"/>
<ellipse cx="297.6" cy="494.2" rx="1.51" ry="1.16" fill="#8a50b8" stroke="none" stroke-width="1" transform="rotate(120 297.6 494.2)"/>
<ellipse cx="319.8" cy="495.4" rx="1.73" ry="1.38" fill="#1aa0a0" stroke="none" stroke-width="1" transform="rotate(101 319.8 495.4)"/>
<ellipse cx="325.6" cy="494.9" rx="1.81" ry="1.11" fill="#1aa0a0" stroke="none" stroke-width="1" transform="rotate(162 325.6 494.9)"/>
<ellipse cx="269.6" cy="505.2" rx="1.42" ry="1.65" fill="#2a9a50" stroke="none" stroke-width="1" transform="rotate(99 269.6 505.2)"/>
<ellipse cx="278.2" cy="505.9" rx="1.89" ry="1.47" fill="#1aa0a0" stroke="none" stroke-width="1" transform="rotate(16 278.2 505.9)"/>
<ellipse cx="285.2" cy="504.7" rx="1.43" ry="1.67" fill="#2a80d0" stroke="none" stroke-width="1" transform="rotate(10 285.2 504.7)"/>
<ellipse cx="300.8" cy="501.7" rx="1.54" ry="1.02" fill="#8a50b8" stroke="none" stroke-width="1" transform="rotate(68 300.8 501.7)"/>
<ellipse cx="307.8" cy="504.7" rx="1.68" ry="1.50" fill="#8a50b8" stroke="none" stroke-width="1" transform="rotate(99 307.8 504.7)"/>
<ellipse cx="313.4" cy="503.5" rx="1.87" ry="1.64" fill="#8a50b8" stroke="none" stroke-width="1" transform="rotate(101 313.4 503.5)"/>
<ellipse cx="247.8" cy="514.0" rx="1.88" ry="1.40" fill="#d08030" stroke="none" stroke-width="1" transform="rotate(34 247.8 514.0)"/>
<ellipse cx="256.5" cy="515.2" rx="2.00" ry="1.07" fill="#8a50b8" stroke="none" stroke-width="1" transform="rotate(34 256.5 515.2)"/>
<ellipse cx="262.6" cy="512.9" rx="1.70" ry="1.18" fill="#2a80d0" stroke="none" stroke-width="1" transform="rotate(172 262.6 512.9)"/>
<ellipse cx="273.5" cy="514.5" rx="1.65" ry="1.44" fill="#e0508a" stroke="none" stroke-width="1" transform="rotate(77 273.5 514.5)"/>
<ellipse cx="282.9" cy="511.7" rx="1.64" ry="1.58" fill="#1aa0a0" stroke="none" stroke-width="1" transform="rotate(146 282.9 511.7)"/>
<ellipse cx="293.4" cy="512.9" rx="1.58" ry="1.41" fill="#1aa0a0" stroke="none" stroke-width="1" transform="rotate(149 293.4 512.9)"/>
<ellipse cx="298.5" cy="515.2" rx="1.49" ry="1.24" fill="#2a9a50" stroke="none" stroke-width="1" transform="rotate(7 298.5 515.2)"/>
<ellipse cx="307.8" cy="515.2" rx="1.99" ry="1.69" fill="#1aa0a0" stroke="none" stroke-width="1" transform="rotate(171 307.8 515.2)"/>
<ellipse cx="315.6" cy="511.7" rx="1.86" ry="1.49" fill="#1aa0a0" stroke="none" stroke-width="1" transform="rotate(83 315.6 511.7)"/>
<ellipse cx="318.6" cy="515.2" rx="2.07" ry="1.63" fill="#2a80d0" stroke="none" stroke-width="1" transform="rotate(145 318.6 515.2)"/>
<ellipse cx="328.4" cy="510.5" rx="1.38" ry="1.46" fill="#d08030" stroke="none" stroke-width="1" transform="rotate(162 328.4 510.5)"/>
<ellipse cx="242.5" cy="518.7" rx="1.97" ry="1.40" fill="#8a50b8" stroke="none" stroke-width="1" transform="rotate(72 242.5 518.7)"/>
<ellipse cx="274.7" cy="520.6" rx="1.40" ry="1.34" fill="#1aa0a0" stroke="none" stroke-width="1" transform="rotate(163 274.7 520.6)"/>
<ellipse cx="287.5" cy="521.0" rx="2.09" ry="1.06" fill="#1aa0a0" stroke="none" stroke-width="1" transform="rotate(17 287.5 521.0)"/>
<ellipse cx="296.2" cy="519.9" rx="1.63" ry="1.11" fill="#2a80d0" stroke="none" stroke-width="1" transform="rotate(75 296.2 519.9)"/>
<ellipse cx="307.8" cy="524.5" rx="1.64" ry="1.29" fill="#e0508a" stroke="none" stroke-width="1" transform="rotate(30 307.8 524.5)"/>
<ellipse cx="322.6" cy="523.4" rx="1.34" ry="1.43" fill="#2a9a50" stroke="none" stroke-width="1" transform="rotate(11 322.6 523.4)"/>
<ellipse cx="329.6" cy="522.2" rx="1.60" ry="1.41" fill="#d08030" stroke="none" stroke-width="1" transform="rotate(141 329.6 522.2)"/>
<ellipse cx="344.7" cy="520.6" rx="2.00" ry="1.69" fill="#1aa0a0" stroke="none" stroke-width="1" transform="rotate(129 344.7 520.6)"/>
<ellipse cx="256.0" cy="527.6" rx="1.49" ry="1.03" fill="#8a50b8" stroke="none" stroke-width="1" transform="rotate(1 256.0 527.6)"/>
<ellipse cx="272.4" cy="526.9" rx="1.36" ry="1.42" fill="#e0508a" stroke="none" stroke-width="1" transform="rotate(8 272.4 526.9)"/>
<ellipse cx="278.9" cy="529.2" rx="2.06" ry="1.68" fill="#d08030" stroke="none" stroke-width="1" transform="rotate(74 278.9 529.2)"/>
<ellipse cx="282.9" cy="524.5" rx="1.79" ry="1.11" fill="#e0508a" stroke="none" stroke-width="1" transform="rotate(10 282.9 524.5)"/>
<ellipse cx="296.9" cy="526.9" rx="2.08" ry="1.24" fill="#1aa0a0" stroke="none" stroke-width="1" transform="rotate(92 296.9 526.9)"/>
<ellipse cx="303.9" cy="528.5" rx="2.07" ry="1.63" fill="#e0508a" stroke="none" stroke-width="1" transform="rotate(96 303.9 528.5)"/>
<ellipse cx="313.2" cy="524.5" rx="1.60" ry="1.61" fill="#1aa0a0" stroke="none" stroke-width="1" transform="rotate(98 313.2 524.5)"/>
<ellipse cx="324.9" cy="530.8" rx="1.82" ry="1.42" fill="#2a80d0" stroke="none" stroke-width="1" transform="rotate(143 324.9 530.8)"/>
<ellipse cx="334.9" cy="528.5" rx="1.38" ry="1.68" fill="#d08030" stroke="none" stroke-width="1" transform="rotate(129 334.9 528.5)"/>
<ellipse cx="247.8" cy="530.8" rx="1.52" ry="1.44" fill="#d08030" stroke="none" stroke-width="1" transform="rotate(60 247.8 530.8)"/>
<ellipse cx="257.2" cy="533.9" rx="2.05" ry="1.31" fill="#8a50b8" stroke="none" stroke-width="1" transform="rotate(66 257.2 533.9)"/>
<ellipse cx="273.5" cy="535.0" rx="1.72" ry="1.38" fill="#e0508a" stroke="none" stroke-width="1" transform="rotate(2 273.5 535.0)"/>
<ellipse cx="282.9" cy="534.6" rx="1.93" ry="1.69" fill="#e0508a" stroke="none" stroke-width="1" transform="rotate(80 282.9 534.6)"/>
<ellipse cx="293.4" cy="533.9" rx="1.32" ry="1.43" fill="#1aa0a0" stroke="none" stroke-width="1" transform="rotate(161 293.4 533.9)"/>
<ellipse cx="302.7" cy="532.7" rx="1.41" ry="1.44" fill="#d08030" stroke="none" stroke-width="1" transform="rotate(85 302.7 532.7)"/>
<ellipse cx="305.0" cy="534.6" rx="1.67" ry="1.48" fill="#d03a3a" stroke="none" stroke-width="1" transform="rotate(90 305.0 534.6)"/>
<ellipse cx="313.2" cy="533.9" rx="1.79" ry="1.20" fill="#2a9a50" stroke="none" stroke-width="1" transform="rotate(125 313.2 533.9)"/>
<ellipse cx="327.2" cy="537.4" rx="1.32" ry="1.04" fill="#8a50b8" stroke="none" stroke-width="1" transform="rotate(173 327.2 537.4)"/>
<ellipse cx="341.9" cy="536.9" rx="1.32" ry="1.26" fill="#909a30" stroke="none" stroke-width="1" transform="rotate(160 341.9 536.9)"/>
<ellipse cx="256.0" cy="543.9" rx="1.67" ry="1.41" fill="#e0508a" stroke="none" stroke-width="1" transform="rotate(81 256.0 543.9)"/>
<ellipse cx="265.4" cy="540.9" rx="1.44" ry="1.13" fill="#e0508a" stroke="none" stroke-width="1" transform="rotate(94 265.4 540.9)"/>
<ellipse cx="278.2" cy="537.4" rx="1.98" ry="1.18" fill="#1aa0a0" stroke="none" stroke-width="1" transform="rotate(96 278.2 537.4)"/>
<ellipse cx="286.4" cy="543.2" rx="1.38" ry="1.57" fill="#d08030" stroke="none" stroke-width="1" transform="rotate(145 286.4 543.2)"/>
<ellipse cx="292.2" cy="541.6" rx="1.85" ry="1.09" fill="#e0508a" stroke="none" stroke-width="1" transform="rotate(128 292.2 541.6)"/>
<ellipse cx="302.7" cy="539.7" rx="1.48" ry="1.56" fill="#1aa0a0" stroke="none" stroke-width="1" transform="rotate(61 302.7 539.7)"/>
<ellipse cx="307.8" cy="544.4" rx="1.56" ry="1.47" fill="#d08030" stroke="none" stroke-width="1" transform="rotate(166 307.8 544.4)"/>
<ellipse cx="315.6" cy="544.4" rx="1.86" ry="1.07" fill="#2a80d0" stroke="none" stroke-width="1" transform="rotate(82 315.6 544.4)"/>
<ellipse cx="321.9" cy="545.6" rx="2.06" ry="1.47" fill="#8a50b8" stroke="none" stroke-width="1" transform="rotate(57 321.9 545.6)"/>
<ellipse cx="251.3" cy="550.2" rx="1.65" ry="1.60" fill="#8a50b8" stroke="none" stroke-width="1" transform="rotate(43 251.3 550.2)"/>
<ellipse cx="260.2" cy="548.6" rx="1.36" ry="1.52" fill="#909a30" stroke="none" stroke-width="1" transform="rotate(55 260.2 548.6)"/>
<ellipse cx="264.9" cy="550.2" rx="2.01" ry="1.32" fill="#8a50b8" stroke="none" stroke-width="1" transform="rotate(57 264.9 550.2)"/>
<ellipse cx="274.7" cy="552.6" rx="1.93" ry="1.02" fill="#2a80d0" stroke="none" stroke-width="1" transform="rotate(48 274.7 552.6)"/>
<ellipse cx="282.9" cy="550.2" rx="1.55" ry="1.59" fill="#909a30" stroke="none" stroke-width="1" transform="rotate(147 282.9 550.2)"/>
<ellipse cx="294.5" cy="550.2" rx="1.45" ry="1.20" fill="#d08030" stroke="none" stroke-width="1" transform="rotate(164 294.5 550.2)"/>
<ellipse cx="300.4" cy="547.2" rx="1.37" ry="1.43" fill="#1aa0a0" stroke="none" stroke-width="1" transform="rotate(150 300.4 547.2)"/>
<ellipse cx="309.2" cy="549.1" rx="1.40" ry="1.20" fill="#1aa0a0" stroke="none" stroke-width="1" transform="rotate(69 309.2 549.1)"/>
<ellipse cx="324.9" cy="547.9" rx="1.67" ry="1.44" fill="#909a30" stroke="none" stroke-width="1" transform="rotate(74 324.9 547.9)"/>
<ellipse cx="337.7" cy="553.3" rx="1.64" ry="1.29" fill="#d08030" stroke="none" stroke-width="1" transform="rotate(105 337.7 553.3)"/>
<ellipse cx="260.2" cy="559.6" rx="1.42" ry="1.00" fill="#1aa0a0" stroke="none" stroke-width="1" transform="rotate(159 260.2 559.6)"/>
<ellipse cx="268.9" cy="559.6" rx="2.09" ry="1.30" fill="#909a30" stroke="none" stroke-width="1" transform="rotate(56 268.9 559.6)"/>
<ellipse cx="280.5" cy="559.6" rx="1.33" ry="1.32" fill="#8a50b8" stroke="none" stroke-width="1" transform="rotate(169 280.5 559.6)"/>
<ellipse cx="288.7" cy="556.1" rx="1.90" ry="1.67" fill="#909a30" stroke="none" stroke-width="1" transform="rotate(139 288.7 556.1)"/>
<ellipse cx="300.4" cy="557.9" rx="1.57" ry="1.16" fill="#e0508a" stroke="none" stroke-width="1" transform="rotate(17 300.4 557.9)"/>
<ellipse cx="304.6" cy="560.3" rx="1.99" ry="1.68" fill="#d08030" stroke="none" stroke-width="1" transform="rotate(30 304.6 560.3)"/>
<ellipse cx="312.0" cy="557.9" rx="1.95" ry="1.03" fill="#1aa0a0" stroke="none" stroke-width="1" transform="rotate(177 312.0 557.9)"/>
<ellipse cx="319.5" cy="560.7" rx="1.71" ry="1.14" fill="#2a9a50" stroke="none" stroke-width="1" transform="rotate(110 319.5 560.7)"/>
<ellipse cx="327.9" cy="554.9" rx="1.76" ry="1.01" fill="#2a9a50" stroke="none" stroke-width="1" transform="rotate(30 327.9 554.9)"/>
<ellipse cx="270.0" cy="565.9" rx="1.44" ry="1.21" fill="#d08030" stroke="none" stroke-width="1" transform="rotate(169 270.0 565.9)"/>
<ellipse cx="294.5" cy="565.4" rx="1.32" ry="1.38" fill="#1aa0a0" stroke="none" stroke-width="1" transform="rotate(13 294.5 565.4)"/>
<ellipse cx="308.5" cy="568.9" rx="2.05" ry="1.43" fill="#1aa0a0" stroke="none" stroke-width="1" transform="rotate(87 308.5 568.9)"/>
<ellipse cx="315.6" cy="565.4" rx="1.40" ry="1.68" fill="#1aa0a0" stroke="none" stroke-width="1" transform="rotate(138 315.6 565.4)"/>
<ellipse cx="330.3" cy="567.0" rx="1.68" ry="1.55" fill="#2a9a50" stroke="none" stroke-width="1" transform="rotate(90 330.3 567.0)"/>
<ellipse cx="273.5" cy="573.6" rx="1.48" ry="1.09" fill="#e0508a" stroke="none" stroke-width="1" transform="rotate(30 273.5 573.6)"/>
<ellipse cx="282.9" cy="574.3" rx="1.44" ry="1.55" fill="#2a80d0" stroke="none" stroke-width="1" transform="rotate(32 282.9 574.3)"/>
<ellipse cx="302.2" cy="581.7" rx="1.96" ry="1.01" fill="#2a9a50" stroke="none" stroke-width="1" transform="rotate(160 302.2 581.7)"/>
<ellipse cx="306.9" cy="587.6" rx="1.76" ry="1.28" fill="#1aa0a0" stroke="none" stroke-width="1" transform="rotate(69 306.9 587.6)"/>
<ellipse cx="284.0" cy="532.7" rx="1.50" ry="1.43" fill="#e0508a" stroke="none" stroke-width="1" transform="rotate(133 284.0 532.7)"/>
<ellipse cx="291.0" cy="544.4" rx="1.64" ry="1.33" fill="#1aa0a0" stroke="none" stroke-width="1" transform="rotate(0 291.0 544.4)"/>
<ellipse cx="299.2" cy="537.4" rx="1.99" ry="1.54" fill="#8a50b8" stroke="none" stroke-width="1" transform="rotate(11 299.2 537.4)"/>
<ellipse cx="270.0" cy="546.7" rx="1.40" ry="1.05" fill="#1aa0a0" stroke="none" stroke-width="1" transform="rotate(8 270.0 546.7)"/>
<ellipse cx="265.4" cy="530.4" rx="1.98" ry="1.06" fill="#1aa0a0" stroke="none" stroke-width="1" transform="rotate(128 265.4 530.4)"/>
<ellipse cx="288.7" cy="525.7" rx="1.69" ry="1.11" fill="#8a50b8" stroke="none" stroke-width="1" transform="rotate(18 288.7 525.7)"/>
<ellipse cx="305.0" cy="518.7" rx="1.58" ry="1.45" fill="#2a9a50" stroke="none" stroke-width="1" transform="rotate(150 305.0 518.7)"/>
<ellipse cx="277.0" cy="542.0" rx="1.54" ry="1.19" fill="#d08030" stroke="none" stroke-width="1" transform="rotate(84 277.0 542.0)"/>
<ellipse cx="309.7" cy="530.4" rx="1.64" ry="1.09" fill="#2a80d0" stroke="none" stroke-width="1" transform="rotate(0 309.7 530.4)"/>
<text x="254.8" y="594.0" font-size="10" fill="#3b3b3b" textLength="13.2" lengthAdjust="spacingAndGlyphs" transform="rotate(-90 254.8 594.0)">U2</text>
<line x1="258.1" y1="580.5" x2="258.1" y2="594.3" stroke="#333" stroke-width="1" stroke-linecap="butt"/>
<line x1="258.1" y1="594.3" x2="273.0" y2="594.3" stroke="#333" stroke-width="1" stroke-linecap="butt"/>
<text x="259.8" y="592.4" font-size="10.5" fill="#3b3b3b" textLength="22.5" lengthAdjust="spacingAndGlyphs">oBC</text>
<text x="259.0" y="606.3" font-size="10.5" fill="#3b3b3b" textLength="12.4" lengthAdjust="spacingAndGlyphs">U1</text>
<text x="375.3" y="16.0" font-size="19.5" font-weight="bold" fill="#111" stroke="#111" stroke-width="0.9" stroke-linejoin="round">f</text>
<text x="470.0" y="19.5" font-size="13" fill="#3b3b3b" textLength="196.0" lengthAdjust="spacingAndGlyphs">Single-cell reporter expression</text>
<defs><linearGradient id="cb" x1="0" y1="1" x2="0" y2="0"><stop offset="0" stop-color="#1a0000"/><stop offset="0.5" stop-color="#7a0a10"/><stop offset="1" stop-color="#e8101e"/></linearGradient></defs>
<rect x="411.7" y="34.6" width="7.1" height="37.7" fill="url(#cb)" stroke="none" stroke-width="1" />
<text x="422.5" y="43.8" font-size="12.5" fill="#3b3b3b">10<tspan font-size="9" dy="-4.8">3</tspan></text>
<text x="422.5" y="71.6" font-size="12.5" fill="#3b3b3b">10<tspan font-size="9" dy="-4.8">0</tspan></text>
<text x="378.2" y="72.3" font-size="12.5" fill="#3b3b3b" textLength="29.9" lengthAdjust="spacingAndGlyphs">mBC</text>
<text x="378.2" y="88.1" font-size="12.5" fill="#3b3b3b" textLength="43.0" lengthAdjust="spacingAndGlyphs">UMI + 1</text>
<rect x="447.4" y="30.8" width="45.6" height="45.6" fill="#fff" stroke="#2e78c0" stroke-width="1.5" />
<path d="M469.9,38.8 Q469.9,41.3 468.6,43.4 Q467.4,45.5 465.6,46.5 Q463.9,47.5 462.6,46.3 Q461.3,45.1 460.3,43.2 Q459.3,41.4 460.1,38.7 Q460.8,36.0 462.5,34.4 Q464.2,32.8 465.8,33.4 Q467.4,33.9 468.7,35.1 Q469.9,36.3 469.9,38.8 Z" fill="#111" stroke="none" stroke-width="1" />
<path d="M489.8,48.7 Q491.8,50.3 492.0,52.7 Q492.2,55.2 490.8,56.7 Q489.3,58.3 487.0,57.8 Q484.8,57.4 483.9,55.1 Q483.1,52.8 483.4,50.7 Q483.8,48.6 485.8,47.8 Q487.8,47.1 489.8,48.7 Z" fill="#111" stroke="none" stroke-width="1" />
<path d="M462.7,65.9 Q462.0,68.4 460.2,70.0 Q458.4,71.5 456.3,71.4 Q454.3,71.4 452.2,70.7 Q450.0,70.0 449.9,67.6 Q449.8,65.2 450.7,63.2 Q451.6,61.1 453.6,60.0 Q455.5,58.9 457.8,59.2 Q460.1,59.5 461.7,61.4 Q463.4,63.3 462.7,65.9 Z" fill="#111" stroke="none" stroke-width="1" />
<ellipse cx="465.0" cy="40.0" rx="7.40" ry="8.80" fill="none" stroke="#7cc163" stroke-width="1.1" stroke-dasharray="2,1.5"/>
<ellipse cx="487.4" cy="53.0" rx="5.80" ry="6.20" fill="none" stroke="#f4c514" stroke-width="1.1" stroke-dasharray="2,1.5"/>
<ellipse cx="455.9" cy="65.8" rx="7.80" ry="8.20" fill="none" stroke="#e07cc0" stroke-width="1.1" stroke-dasharray="2,1.5"/>
<rect x="496.3" y="30.8" width="45.6" height="45.6" fill="#fff" stroke="#6ab4e0" stroke-width="1.5" />
<path d="M518.8,38.7 Q518.6,41.3 517.5,43.5 Q516.4,45.7 514.5,47.0 Q512.7,48.2 511.3,46.9 Q509.9,45.5 509.3,43.4 Q508.7,41.3 509.3,38.7 Q510.0,36.2 511.6,35.0 Q513.2,33.8 514.9,33.5 Q516.6,33.1 517.8,34.7 Q519.0,36.2 518.8,38.7 Z" fill="#111" stroke="none" stroke-width="1" />
<path d="M538.2,49.0 Q539.8,50.8 540.4,53.0 Q541.1,55.2 539.6,56.6 Q538.1,58.1 536.1,57.5 Q534.0,56.8 533.0,54.8 Q532.0,52.8 532.3,50.6 Q532.5,48.4 534.6,47.8 Q536.6,47.3 538.2,49.0 Z" fill="#111" stroke="none" stroke-width="1" />
<path d="M510.3,65.9 Q509.9,68.0 508.5,69.6 Q507.2,71.1 505.1,71.7 Q503.0,72.2 500.9,71.1 Q498.9,70.0 498.9,67.6 Q498.9,65.2 499.8,63.3 Q500.7,61.3 502.6,60.3 Q504.4,59.2 506.8,59.3 Q509.1,59.3 509.9,61.6 Q510.6,63.8 510.3,65.9 Z" fill="#111" stroke="none" stroke-width="1" />
<rect x="546.2" y="30.8" width="45.6" height="45.6" fill="#fff" stroke="#f6c8b0" stroke-width="1.5" />
<path d="M568.8,38.7 Q568.5,41.3 567.4,43.6 Q566.3,45.9 564.5,46.8 Q562.7,47.7 561.4,46.3 Q560.2,45.0 559.8,43.0 Q559.4,41.1 559.8,38.8 Q560.1,36.5 561.6,35.1 Q563.1,33.6 565.0,33.1 Q566.8,32.5 567.9,34.3 Q569.0,36.2 568.8,38.7 Z" fill="#8a1c1c" stroke="none" stroke-width="1" />
<path d="M588.6,48.9 Q590.7,50.2 590.4,52.5 Q590.2,54.8 589.0,56.0 Q587.7,57.1 585.6,57.3 Q583.5,57.5 582.7,55.1 Q582.0,52.8 582.5,51.0 Q583.1,49.2 584.8,48.4 Q586.5,47.5 588.6,48.9 Z" fill="#7a1414" stroke="none" stroke-width="1" />
<path d="M560.9,65.7 Q559.9,68.0 558.5,69.7 Q557.1,71.3 555.0,71.7 Q552.9,72.0 550.7,71.1 Q548.4,70.3 548.2,67.7 Q548.0,65.2 548.9,62.8 Q549.8,60.4 552.0,60.0 Q554.3,59.5 556.5,59.6 Q558.7,59.7 560.3,61.6 Q561.9,63.4 560.9,65.7 Z" fill="#8a1c1c" stroke="none" stroke-width="1" />
<rect x="595.6" y="30.8" width="45.6" height="45.6" fill="#fff" stroke="#ec9a7c" stroke-width="1.5" />
<path d="M618.0,38.6 Q617.6,41.2 616.7,43.5 Q615.8,45.9 613.9,46.8 Q612.1,47.7 610.4,46.9 Q608.7,46.2 608.6,43.7 Q608.6,41.1 609.1,38.9 Q609.7,36.6 611.1,35.3 Q612.6,33.9 614.1,33.8 Q615.7,33.7 617.1,34.9 Q618.5,36.1 618.0,38.6 Z" fill="#7a1010" stroke="none" stroke-width="1" />
<path d="M638.0,49.0 Q640.0,50.3 640.4,52.8 Q640.8,55.4 639.2,56.9 Q637.6,58.5 635.6,57.4 Q633.6,56.3 632.2,54.6 Q630.8,52.8 631.5,50.8 Q632.2,48.8 634.1,48.3 Q635.9,47.7 638.0,49.0 Z" fill="#701010" stroke="none" stroke-width="1" />
<path d="M610.6,66.0 Q610.2,68.5 608.6,70.3 Q606.9,72.1 604.5,72.6 Q602.0,73.1 600.4,71.3 Q598.9,69.5 598.0,67.3 Q597.1,65.1 598.0,62.7 Q598.9,60.2 601.3,59.0 Q603.6,57.7 605.7,59.0 Q607.7,60.3 609.3,61.9 Q610.9,63.5 610.6,66.0 Z" fill="#801818" stroke="none" stroke-width="1" />
<rect x="645.2" y="30.8" width="45.6" height="45.6" fill="#fff" stroke="#c23450" stroke-width="1.5" />
<path d="M667.2,38.9 Q667.0,41.1 666.2,43.5 Q665.4,45.9 663.5,46.8 Q661.7,47.6 659.9,47.0 Q658.2,46.3 658.1,43.7 Q658.0,41.2 658.6,38.9 Q659.3,36.6 660.6,34.6 Q662.0,32.6 663.8,32.7 Q665.7,32.8 666.5,34.7 Q667.4,36.6 667.2,38.9 Z" fill="#e03030" stroke="none" stroke-width="1" />
<path d="M687.4,49.4 Q689.4,50.4 689.8,52.8 Q690.2,55.3 688.5,56.3 Q686.8,57.4 684.6,57.4 Q682.5,57.5 681.7,55.1 Q681.0,52.8 681.2,50.7 Q681.5,48.5 683.5,48.5 Q685.5,48.4 687.4,49.4 Z" fill="#d82a2a" stroke="none" stroke-width="1" />
<path d="M659.8,66.1 Q659.8,68.4 658.1,70.2 Q656.5,72.0 654.0,72.6 Q651.6,73.1 649.5,71.7 Q647.4,70.3 646.8,67.7 Q646.2,65.1 647.7,63.0 Q649.3,61.0 651.2,59.3 Q653.2,57.7 655.4,58.8 Q657.6,59.9 658.7,61.8 Q659.8,63.7 659.8,66.1 Z" fill="#e03434" stroke="none" stroke-width="1" />
<text x="375.3" y="127.0" font-size="19.5" font-weight="bold" fill="#111" stroke="#111" stroke-width="0.9" stroke-linejoin="round">g</text>
<line x1="447.5" y1="117.0" x2="447.5" y2="364.7" stroke="#555" stroke-width="1" stroke-linecap="butt"/>
<line x1="447.0" y1="364.2" x2="688.8" y2="364.2" stroke="#555" stroke-width="1" stroke-linecap="butt"/>
<line x1="442.5" y1="334.0" x2="452.5" y2="334.0" stroke="#555" stroke-width="1" stroke-linecap="butt"/>
<line x1="447.5" y1="322.0" x2="450.5" y2="322.0" stroke="#555" stroke-width="0.7" stroke-linecap="butt"/>
<line x1="447.5" y1="315.0" x2="450.5" y2="315.0" stroke="#555" stroke-width="0.7" stroke-linecap="butt"/>
<line x1="447.5" y1="310.1" x2="450.5" y2="310.1" stroke="#555" stroke-width="0.7" stroke-linecap="butt"/>
<line x1="447.5" y1="306.2" x2="450.5" y2="306.2" stroke="#555" stroke-width="0.7" stroke-linecap="butt"/>
<line x1="447.5" y1="303.1" x2="450.5" y2="303.1" stroke="#555" stroke-width="0.7" stroke-linecap="butt"/>
<line x1="447.5" y1="300.4" x2="450.5" y2="300.4" stroke="#555" stroke-width="0.7" stroke-linecap="butt"/>
<line x1="447.5" y1="298.1" x2="450.5" y2="298.1" stroke="#555" stroke-width="0.7" stroke-linecap="butt"/>
<line x1="447.5" y1="296.1" x2="450.5" y2="296.1" stroke="#555" stroke-width="0.7" stroke-linecap="butt"/>
<line x1="442.5" y1="294.2" x2="452.5" y2="294.2" stroke="#555" stroke-width="1" stroke-linecap="butt"/>
<line x1="447.5" y1="282.3" x2="450.5" y2="282.3" stroke="#555" stroke-width="0.7" stroke-linecap="butt"/>
<line x1="447.5" y1="275.3" x2="450.5" y2="275.3" stroke="#555" stroke-width="0.7" stroke-linecap="butt"/>
<line x1="447.5" y1="270.3" x2="450.5" y2="270.3" stroke="#555" stroke-width="0.7" stroke-linecap="butt"/>
<line x1="447.5" y1="266.5" x2="450.5" y2="266.5" stroke="#555" stroke-width="0.7" stroke-linecap="butt"/>
<line x1="447.5" y1="263.3" x2="450.5" y2="263.3" stroke="#555" stroke-width="0.7" stroke-linecap="butt"/>
<line x1="447.5" y1="260.7" x2="450.5" y2="260.7" stroke="#555" stroke-width="0.7" stroke-linecap="butt"/>
<line x1="447.5" y1="258.4" x2="450.5" y2="258.4" stroke="#555" stroke-width="0.7" stroke-linecap="butt"/>
<line x1="447.5" y1="256.3" x2="450.5" y2="256.3" stroke="#555" stroke-width="0.7" stroke-linecap="butt"/>
<line x1="442.5" y1="254.5" x2="452.5" y2="254.5" stroke="#555" stroke-width="1" stroke-linecap="butt"/>
<line x1="447.5" y1="242.5" x2="450.5" y2="242.5" stroke="#555" stroke-width="0.7" stroke-linecap="butt"/>
<line x1="447.5" y1="235.5" x2="450.5" y2="235.5" stroke="#555" stroke-width="0.7" stroke-linecap="butt"/>
<line x1="447.5" y1="230.6" x2="450.5" y2="230.6" stroke="#555" stroke-width="0.7" stroke-linecap="butt"/>
<line x1="447.5" y1="226.7" x2="450.5" y2="226.7" stroke="#555" stroke-width="0.7" stroke-linecap="butt"/>
<line x1="447.5" y1="223.6" x2="450.5" y2="223.6" stroke="#555" stroke-width="0.7" stroke-linecap="butt"/>
<line x1="447.5" y1="220.9" x2="450.5" y2="220.9" stroke="#555" stroke-width="0.7" stroke-linecap="butt"/>
<line x1="447.5" y1="218.6" x2="450.5" y2="218.6" stroke="#555" stroke-width="0.7" stroke-linecap="butt"/>
<line x1="447.5" y1="216.6" x2="450.5" y2="216.6" stroke="#555" stroke-width="0.7" stroke-linecap="butt"/>
<line x1="442.5" y1="214.8" x2="452.5" y2="214.8" stroke="#555" stroke-width="1" stroke-linecap="butt"/>
<line x1="447.5" y1="202.8" x2="450.5" y2="202.8" stroke="#555" stroke-width="0.7" stroke-linecap="butt"/>
<line x1="447.5" y1="195.8" x2="450.5" y2="195.8" stroke="#555" stroke-width="0.7" stroke-linecap="butt"/>
<line x1="447.5" y1="190.8" x2="450.5" y2="190.8" stroke="#555" stroke-width="0.7" stroke-linecap="butt"/>
<line x1="447.5" y1="187.0" x2="450.5" y2="187.0" stroke="#555" stroke-width="0.7" stroke-linecap="butt"/>
<line x1="447.5" y1="183.8" x2="450.5" y2="183.8" stroke="#555" stroke-width="0.7" stroke-linecap="butt"/>
<line x1="447.5" y1="181.2" x2="450.5" y2="181.2" stroke="#555" stroke-width="0.7" stroke-linecap="butt"/>
<line x1="447.5" y1="178.9" x2="450.5" y2="178.9" stroke="#555" stroke-width="0.7" stroke-linecap="butt"/>
<line x1="447.5" y1="176.8" x2="450.5" y2="176.8" stroke="#555" stroke-width="0.7" stroke-linecap="butt"/>
<line x1="442.5" y1="175.0" x2="452.5" y2="175.0" stroke="#555" stroke-width="1" stroke-linecap="butt"/>
<line x1="447.5" y1="163.0" x2="450.5" y2="163.0" stroke="#555" stroke-width="0.7" stroke-linecap="butt"/>
<line x1="447.5" y1="156.0" x2="450.5" y2="156.0" stroke="#555" stroke-width="0.7" stroke-linecap="butt"/>
<line x1="447.5" y1="151.1" x2="450.5" y2="151.1" stroke="#555" stroke-width="0.7" stroke-linecap="butt"/>
<line x1="447.5" y1="147.2" x2="450.5" y2="147.2" stroke="#555" stroke-width="0.7" stroke-linecap="butt"/>
<line x1="447.5" y1="144.1" x2="450.5" y2="144.1" stroke="#555" stroke-width="0.7" stroke-linecap="butt"/>
<line x1="447.5" y1="141.4" x2="450.5" y2="141.4" stroke="#555" stroke-width="0.7" stroke-linecap="butt"/>
<line x1="447.5" y1="139.1" x2="450.5" y2="139.1" stroke="#555" stroke-width="0.7" stroke-linecap="butt"/>
<line x1="447.5" y1="137.1" x2="450.5" y2="137.1" stroke="#555" stroke-width="0.7" stroke-linecap="butt"/>
<line x1="442.5" y1="135.2" x2="452.5" y2="135.2" stroke="#555" stroke-width="1" stroke-linecap="butt"/>
<line x1="447.5" y1="123.3" x2="450.5" y2="123.3" stroke="#555" stroke-width="0.7" stroke-linecap="butt"/>
<line x1="447.5" y1="354.8" x2="450.5" y2="354.8" stroke="#555" stroke-width="0.7" stroke-linecap="butt"/>
<line x1="447.5" y1="349.8" x2="450.5" y2="349.8" stroke="#555" stroke-width="0.7" stroke-linecap="butt"/>
<line x1="447.5" y1="346.0" x2="450.5" y2="346.0" stroke="#555" stroke-width="0.7" stroke-linecap="butt"/>
<line x1="447.5" y1="342.8" x2="450.5" y2="342.8" stroke="#555" stroke-width="0.7" stroke-linecap="butt"/>
<line x1="447.5" y1="340.2" x2="450.5" y2="340.2" stroke="#555" stroke-width="0.7" stroke-linecap="butt"/>
<line x1="447.5" y1="337.9" x2="450.5" y2="337.9" stroke="#555" stroke-width="0.7" stroke-linecap="butt"/>
<line x1="447.5" y1="335.8" x2="450.5" y2="335.8" stroke="#555" stroke-width="0.7" stroke-linecap="butt"/>
<line x1="471.3" y1="358.2" x2="471.3" y2="368.7" stroke="#555" stroke-width="1" stroke-linecap="butt"/>
<line x1="483.3" y1="360.4" x2="483.3" y2="364.2" stroke="#555" stroke-width="0.7" stroke-linecap="butt"/>
<line x1="490.3" y1="360.4" x2="490.3" y2="364.2" stroke="#555" stroke-width="0.7" stroke-linecap="butt"/>
<line x1="495.3" y1="360.4" x2="495.3" y2="364.2" stroke="#555" stroke-width="0.7" stroke-linecap="butt"/>
<line x1="499.2" y1="360.4" x2="499.2" y2="364.2" stroke="#555" stroke-width="0.7" stroke-linecap="butt"/>
<line x1="502.3" y1="360.4" x2="502.3" y2="364.2" stroke="#555" stroke-width="0.7" stroke-linecap="butt"/>
<line x1="505.0" y1="360.4" x2="505.0" y2="364.2" stroke="#555" stroke-width="0.7" stroke-linecap="butt"/>
<line x1="507.3" y1="360.4" x2="507.3" y2="364.2" stroke="#555" stroke-width="0.7" stroke-linecap="butt"/>
<line x1="509.3" y1="360.4" x2="509.3" y2="364.2" stroke="#555" stroke-width="0.7" stroke-linecap="butt"/>
<line x1="511.2" y1="358.2" x2="511.2" y2="368.7" stroke="#555" stroke-width="1" stroke-linecap="butt"/>
<line x1="523.1" y1="360.4" x2="523.1" y2="364.2" stroke="#555" stroke-width="0.7" stroke-linecap="butt"/>
<line x1="530.2" y1="360.4" x2="530.2" y2="364.2" stroke="#555" stroke-width="0.7" stroke-linecap="butt"/>
<line x1="535.1" y1="360.4" x2="535.1" y2="364.2" stroke="#555" stroke-width="0.7" stroke-linecap="butt"/>
<line x1="539.0" y1="360.4" x2="539.0" y2="364.2" stroke="#555" stroke-width="0.7" stroke-linecap="butt"/>
<line x1="542.2" y1="360.4" x2="542.2" y2="364.2" stroke="#555" stroke-width="0.7" stroke-linecap="butt"/>
<line x1="544.8" y1="360.4" x2="544.8" y2="364.2" stroke="#555" stroke-width="0.7" stroke-linecap="butt"/>
<line x1="547.1" y1="360.4" x2="547.1" y2="364.2" stroke="#555" stroke-width="0.7" stroke-linecap="butt"/>
<line x1="549.2" y1="360.4" x2="549.2" y2="364.2" stroke="#555" stroke-width="0.7" stroke-linecap="butt"/>
<line x1="551.0" y1="358.2" x2="551.0" y2="368.7" stroke="#555" stroke-width="1" stroke-linecap="butt"/>
<line x1="563.0" y1="360.4" x2="563.0" y2="364.2" stroke="#555" stroke-width="0.7" stroke-linecap="butt"/>
<line x1="570.0" y1="360.4" x2="570.0" y2="364.2" stroke="#555" stroke-width="0.7" stroke-linecap="butt"/>
<line x1="575.0" y1="360.4" x2="575.0" y2="364.2" stroke="#555" stroke-width="0.7" stroke-linecap="butt"/>
<line x1="578.9" y1="360.4" x2="578.9" y2="364.2" stroke="#555" stroke-width="0.7" stroke-linecap="butt"/>
<line x1="582.0" y1="360.4" x2="582.0" y2="364.2" stroke="#555" stroke-width="0.7" stroke-linecap="butt"/>
<line x1="584.7" y1="360.4" x2="584.7" y2="364.2" stroke="#555" stroke-width="0.7" stroke-linecap="butt"/>
<line x1="587.0" y1="360.4" x2="587.0" y2="364.2" stroke="#555" stroke-width="0.7" stroke-linecap="butt"/>
<line x1="589.0" y1="360.4" x2="589.0" y2="364.2" stroke="#555" stroke-width="0.7" stroke-linecap="butt"/>
<line x1="590.9" y1="358.2" x2="590.9" y2="368.7" stroke="#555" stroke-width="1" stroke-linecap="butt"/>
<line x1="602.8" y1="360.4" x2="602.8" y2="364.2" stroke="#555" stroke-width="0.7" stroke-linecap="butt"/>
<line x1="609.9" y1="360.4" x2="609.9" y2="364.2" stroke="#555" stroke-width="0.7" stroke-linecap="butt"/>
<line x1="614.8" y1="360.4" x2="614.8" y2="364.2" stroke="#555" stroke-width="0.7" stroke-linecap="butt"/>
<line x1="618.7" y1="360.4" x2="618.7" y2="364.2" stroke="#555" stroke-width="0.7" stroke-linecap="butt"/>
<line x1="621.9" y1="360.4" x2="621.9" y2="364.2" stroke="#555" stroke-width="0.7" stroke-linecap="butt"/>
<line x1="624.5" y1="360.4" x2="624.5" y2="364.2" stroke="#555" stroke-width="0.7" stroke-linecap="butt"/>
<line x1="626.8" y1="360.4" x2="626.8" y2="364.2" stroke="#555" stroke-width="0.7" stroke-linecap="butt"/>
<line x1="628.9" y1="360.4" x2="628.9" y2="364.2" stroke="#555" stroke-width="0.7" stroke-linecap="butt"/>
<line x1="630.7" y1="358.2" x2="630.7" y2="368.7" stroke="#555" stroke-width="1" stroke-linecap="butt"/>
<line x1="642.7" y1="360.4" x2="642.7" y2="364.2" stroke="#555" stroke-width="0.7" stroke-linecap="butt"/>
<line x1="649.7" y1="360.4" x2="649.7" y2="364.2" stroke="#555" stroke-width="0.7" stroke-linecap="butt"/>
<line x1="654.7" y1="360.4" x2="654.7" y2="364.2" stroke="#555" stroke-width="0.7" stroke-linecap="butt"/>
<line x1="658.6" y1="360.4" x2="658.6" y2="364.2" stroke="#555" stroke-width="0.7" stroke-linecap="butt"/>
<line x1="661.7" y1="360.4" x2="661.7" y2="364.2" stroke="#555" stroke-width="0.7" stroke-linecap="butt"/>
<line x1="664.4" y1="360.4" x2="664.4" y2="364.2" stroke="#555" stroke-width="0.7" stroke-linecap="butt"/>
<line x1="666.7" y1="360.4" x2="666.7" y2="364.2" stroke="#555" stroke-width="0.7" stroke-linecap="butt"/>
<line x1="668.7" y1="360.4" x2="668.7" y2="364.2" stroke="#555" stroke-width="0.7" stroke-linecap="butt"/>
<line x1="670.6" y1="358.2" x2="670.6" y2="368.7" stroke="#555" stroke-width="1" stroke-linecap="butt"/>
<line x1="682.5" y1="360.4" x2="682.5" y2="364.2" stroke="#555" stroke-width="0.7" stroke-linecap="butt"/>
<line x1="459.3" y1="360.4" x2="459.3" y2="364.2" stroke="#555" stroke-width="0.7" stroke-linecap="butt"/>
<line x1="462.5" y1="360.4" x2="462.5" y2="364.2" stroke="#555" stroke-width="0.7" stroke-linecap="butt"/>
<line x1="465.1" y1="360.4" x2="465.1" y2="364.2" stroke="#555" stroke-width="0.7" stroke-linecap="butt"/>
<line x1="467.4" y1="360.4" x2="467.4" y2="364.2" stroke="#555" stroke-width="0.7" stroke-linecap="butt"/>
<line x1="469.5" y1="360.4" x2="469.5" y2="364.2" stroke="#555" stroke-width="0.7" stroke-linecap="butt"/>
<text x="440.0" y="338.6" font-size="12.5" fill="#3b3b3b" text-anchor="end">10<tspan font-size="9" dy="-4.8">−2</tspan></text>
<text x="440.0" y="298.9" font-size="12.5" fill="#3b3b3b" text-anchor="end">10<tspan font-size="9" dy="-4.8">−1</tspan></text>
<text x="440.0" y="259.1" font-size="12.5" fill="#3b3b3b" text-anchor="end">10<tspan font-size="9" dy="-4.8">0</tspan></text>
<text x="440.0" y="219.3" font-size="12.5" fill="#3b3b3b" text-anchor="end">10<tspan font-size="9" dy="-4.8">1</tspan></text>
<text x="440.0" y="179.6" font-size="12.5" fill="#3b3b3b" text-anchor="end">10<tspan font-size="9" dy="-4.8">2</tspan></text>
<text x="440.0" y="139.8" font-size="12.5" fill="#3b3b3b" text-anchor="end">10<tspan font-size="9" dy="-4.8">3</tspan></text>
<text x="459.8" y="382.2" font-size="12.5" fill="#3b3b3b">10<tspan font-size="9" dy="-4.8">−4</tspan></text>
<text x="499.7" y="382.2" font-size="12.5" fill="#3b3b3b">10<tspan font-size="9" dy="-4.8">−3</tspan></text>
<text x="539.5" y="382.2" font-size="12.5" fill="#3b3b3b">10<tspan font-size="9" dy="-4.8">−2</tspan></text>
<text x="579.4" y="382.2" font-size="12.5" fill="#3b3b3b">10<tspan font-size="9" dy="-4.8">−1</tspan></text>
<text x="621.7" y="382.2" font-size="12.5" fill="#3b3b3b">10<tspan font-size="9" dy="-4.8">0</tspan></text>
<text x="661.6" y="382.2" font-size="12.5" fill="#3b3b3b">10<tspan font-size="9" dy="-4.8">1</tspan></text>
<text x="487.9" y="401.3" font-size="13.5" fill="#3b3b3b" textLength="154.1" lengthAdjust="spacingAndGlyphs">Bulk reporter expression</text>
<text x="464.6" y="417.2" font-size="13.5" fill="#3b3b3b" textLength="200.9" lengthAdjust="spacingAndGlyphs">(normalized RNA UMI/DNA UMI)</text>
<text x="388.5" y="338.2" font-size="13" fill="#3b3b3b" textLength="195.2" lengthAdjust="spacingAndGlyphs" transform="rotate(-90 388.5 338.2)">Single-cell reporter expression</text>
<text x="404.0" y="330.3" font-size="13" fill="#3b3b3b" textLength="179.1" lengthAdjust="spacingAndGlyphs" transform="rotate(-90 404.0 330.3)">(mean normalized mBC UMI)</text>
<line x1="447.5" y1="214.8" x2="656.0" y2="214.8" stroke="#c4c4c4" stroke-width="1.5" stroke-dasharray="6,3.5" stroke-linecap="butt"/>
<line x1="447.5" y1="254.6" x2="656.0" y2="254.6" stroke="#8c8c8c" stroke-width="1.5" stroke-dasharray="6,3.5" stroke-linecap="butt"/>
<text x="466.6" y="194.6" font-size="12" fill="#c3c3c3" textLength="48.5" lengthAdjust="spacingAndGlyphs">Chimeric</text>
<text x="466.6" y="208.0" font-size="12" fill="#c3c3c3" textLength="51.0" lengthAdjust="spacingAndGlyphs">threshold</text>
<text x="458.8" y="249.7" font-size="12" fill="#3b3b3b" textLength="71.3" lengthAdjust="spacingAndGlyphs">1 UMI per cell</text>
<text x="457.8" y="128.0" font-size="12.5" fill="#3b3b3b" textLength="75.0" lengthAdjust="spacingAndGlyphs">Quantification</text>
<rect x="476.6" y="304.4" width="3.4" height="3.4" fill="#1f6db4" stroke="none" stroke-width="1" />
<circle cx="538.5" cy="283.4" r="1.90" fill="#5fb2e2" stroke="none" stroke-width="1" />
<circle cx="518.6" cy="311.1" r="1.90" fill="#5fb2e2" stroke="none" stroke-width="1" />
<path d="M520.0,296.6 L522.3,300.8 L517.7,300.8 Z" fill="#5fb2e2" stroke="none" stroke-width="1" />
<path d="M526.1,301.5 L528.4,305.7 L523.8,305.7 Z" fill="#5fb2e2" stroke="none" stroke-width="1" />
<circle cx="520.5" cy="298.2" r="1.90" fill="#1f6db4" stroke="none" stroke-width="1" />
<rect x="508.2" y="299.2" width="3.4" height="3.4" fill="#5fb2e2" stroke="none" stroke-width="1" />
<circle cx="526.8" cy="282.3" r="1.90" fill="#1f6db4" stroke="none" stroke-width="1" />
<circle cx="536.1" cy="307.7" r="1.90" fill="#5fb2e2" stroke="none" stroke-width="1" />
<path d="M541.2,293.5 L543.5,297.7 L538.9,297.7 Z" fill="#1f6db4" stroke="none" stroke-width="1" />
<path d="M512.5,311.3 L514.8,315.5 L510.2,315.5 Z" fill="#5fb2e2" stroke="none" stroke-width="1" />
<path d="M520.5,296.1 L522.8,300.3 L518.2,300.3 Z" fill="#5fb2e2" stroke="none" stroke-width="1" />
<path d="M529.1,287.9 L531.4,292.1 L526.8,292.1 Z" fill="#5fb2e2" stroke="none" stroke-width="1" />
<path d="M512.6,280.9 L514.9,285.1 L510.3,285.1 Z" fill="#5fb2e2" stroke="none" stroke-width="1" />
<circle cx="512.1" cy="301.1" r="1.90" fill="#5fb2e2" stroke="none" stroke-width="1" />
<path d="M514.6,287.6 L516.9,291.8 L512.3,291.8 Z" fill="#5fb2e2" stroke="none" stroke-width="1" />
<path d="M528.6,288.6 L530.9,292.8 L526.3,292.8 Z" fill="#1f6db4" stroke="none" stroke-width="1" />
<circle cx="521.0" cy="296.8" r="1.90" fill="#1f6db4" stroke="none" stroke-width="1" />
<rect x="521.2" y="296.9" width="3.4" height="3.4" fill="#1f6db4" stroke="none" stroke-width="1" />
<circle cx="523.4" cy="280.3" r="1.90" fill="#1f6db4" stroke="none" stroke-width="1" />
<rect x="485.9" y="306.8" width="3.4" height="3.4" fill="#1f6db4" stroke="none" stroke-width="1" />
<rect x="543.4" y="292.7" width="3.4" height="3.4" fill="#1f6db4" stroke="none" stroke-width="1" />
<path d="M553.6,296.0 L555.9,300.2 L551.3,300.2 Z" fill="#5fb2e2" stroke="none" stroke-width="1" />
<circle cx="522.6" cy="291.3" r="1.90" fill="#5fb2e2" stroke="none" stroke-width="1" />
<circle cx="513.7" cy="288.7" r="1.90" fill="#1f6db4" stroke="none" stroke-width="1" />
<rect x="524.4" y="292.3" width="3.4" height="3.4" fill="#1f6db4" stroke="none" stroke-width="1" />
<path d="M538.6,284.7 L540.9,288.9 L536.3,288.9 Z" fill="#5fb2e2" stroke="none" stroke-width="1" />
<rect x="500.3" y="285.9" width="3.4" height="3.4" fill="#1f6db4" stroke="none" stroke-width="1" />
<path d="M502.5,310.7 L504.8,314.9 L500.2,314.9 Z" fill="#1f6db4" stroke="none" stroke-width="1" />
<rect x="476.6" y="307.1" width="3.4" height="3.4" fill="#1f6db4" stroke="none" stroke-width="1" />
<path d="M482.8,303.9 L485.1,308.1 L480.5,308.1 Z" fill="#5fb2e2" stroke="none" stroke-width="1" />
<path d="M529.5,287.6 L531.8,291.8 L527.2,291.8 Z" fill="#5fb2e2" stroke="none" stroke-width="1" />
<rect x="503.3" y="307.9" width="3.4" height="3.4" fill="#5fb2e2" stroke="none" stroke-width="1" />
<path d="M531.9,282.6 L534.2,286.8 L529.6,286.8 Z" fill="#5fb2e2" stroke="none" stroke-width="1" />
<circle cx="502.6" cy="290.3" r="1.90" fill="#1f6db4" stroke="none" stroke-width="1" />
<path d="M527.3,301.0 L529.6,305.2 L525.0,305.2 Z" fill="#5fb2e2" stroke="none" stroke-width="1" />
<circle cx="529.7" cy="298.0" r="1.90" fill="#1f6db4" stroke="none" stroke-width="1" />
<circle cx="547.9" cy="278.2" r="1.90" fill="#1f6db4" stroke="none" stroke-width="1" />
<rect x="528.6" y="267.6" width="3.4" height="3.4" fill="#5fb2e2" stroke="none" stroke-width="1" />
<path d="M550.6,260.9 L552.9,265.1 L548.3,265.1 Z" fill="#1f6db4" stroke="none" stroke-width="1" />
<circle cx="508.7" cy="348.1" r="1.90" fill="#1f6db4" stroke="none" stroke-width="1" />
<rect x="516.0" y="306.1" width="3.4" height="3.4" fill="#5fb2e2" stroke="none" stroke-width="1" />
<path d="M526.7,311.2 L529.0,315.4 L524.4,315.4 Z" fill="#5fb2e2" stroke="none" stroke-width="1" />
<circle cx="496.0" cy="314.2" r="1.90" fill="#5fb2e2" stroke="none" stroke-width="1" />
<circle cx="507.8" cy="299.5" r="1.90" fill="#1f6db4" stroke="none" stroke-width="1" />
<circle cx="535.0" cy="298.1" r="1.90" fill="#5fb2e2" stroke="none" stroke-width="1" />
<rect x="500.9" y="293.5" width="3.4" height="3.4" fill="#1f6db4" stroke="none" stroke-width="1" />
<rect x="560.6" y="266.3" width="3.4" height="3.4" fill="#5fb2e2" stroke="none" stroke-width="1" />
<rect x="527.5" y="290.3" width="3.4" height="3.4" fill="#1f6db4" stroke="none" stroke-width="1" />
<rect x="526.6" y="289.7" width="3.4" height="3.4" fill="#1f6db4" stroke="none" stroke-width="1" />
<rect x="520.3" y="295.6" width="3.4" height="3.4" fill="#5fb2e2" stroke="none" stroke-width="1" />
<circle cx="514.5" cy="308.1" r="1.90" fill="#1f6db4" stroke="none" stroke-width="1" />
<path d="M533.0,296.9 L535.4,301.1 L530.7,301.1 Z" fill="#1f6db4" stroke="none" stroke-width="1" />
<circle cx="528.4" cy="265.0" r="1.90" fill="#5fb2e2" stroke="none" stroke-width="1" />
<path d="M517.6,313.2 L519.9,317.4 L515.3,317.4 Z" fill="#5fb2e2" stroke="none" stroke-width="1" />
<path d="M523.4,302.5 L525.7,306.7 L521.1,306.7 Z" fill="#5fb2e2" stroke="none" stroke-width="1" />
<path d="M508.9,303.8 L511.2,308.0 L506.6,308.0 Z" fill="#1f6db4" stroke="none" stroke-width="1" />
<rect x="502.2" y="349.9" width="3.4" height="3.4" fill="#1f6db4" stroke="none" stroke-width="1" />
<circle cx="513.1" cy="262.3" r="1.90" fill="#1f6db4" stroke="none" stroke-width="1" />
<circle cx="503.8" cy="327.8" r="1.90" fill="#1f6db4" stroke="none" stroke-width="1" />
<path d="M529.8,297.6 L532.1,301.8 L527.5,301.8 Z" fill="#5fb2e2" stroke="none" stroke-width="1" />
<rect x="560.2" y="290.3" width="3.4" height="3.4" fill="#5fb2e2" stroke="none" stroke-width="1" />
<circle cx="526.9" cy="307.9" r="1.90" fill="#1f6db4" stroke="none" stroke-width="1" />
<rect x="512.2" y="290.0" width="3.4" height="3.4" fill="#1f6db4" stroke="none" stroke-width="1" />
<path d="M531.3,295.5 L533.6,299.7 L529.0,299.7 Z" fill="#1f6db4" stroke="none" stroke-width="1" />
<circle cx="519.6" cy="282.6" r="1.90" fill="#5fb2e2" stroke="none" stroke-width="1" />
<rect x="525.1" y="276.7" width="3.4" height="3.4" fill="#1f6db4" stroke="none" stroke-width="1" />
<circle cx="537.2" cy="297.8" r="1.90" fill="#1f6db4" stroke="none" stroke-width="1" />
<path d="M517.5,287.3 L519.9,291.5 L515.2,291.5 Z" fill="#5fb2e2" stroke="none" stroke-width="1" />
<circle cx="528.7" cy="280.5" r="1.90" fill="#1f6db4" stroke="none" stroke-width="1" />
<rect x="520.6" y="289.2" width="3.4" height="3.4" fill="#1f6db4" stroke="none" stroke-width="1" />
<circle cx="528.9" cy="301.2" r="1.90" fill="#5fb2e2" stroke="none" stroke-width="1" />
<path d="M537.3,247.8 L539.6,252.0 L534.9,252.0 Z" fill="#1f6db4" stroke="none" stroke-width="1" />
<path d="M524.0,307.0 L526.3,311.2 L521.7,311.2 Z" fill="#5fb2e2" stroke="none" stroke-width="1" />
<circle cx="488.9" cy="314.4" r="1.90" fill="#1f6db4" stroke="none" stroke-width="1" />
<circle cx="578.1" cy="278.6" r="1.90" fill="#5fb2e2" stroke="none" stroke-width="1" />
<rect x="526.2" y="291.8" width="3.4" height="3.4" fill="#1f6db4" stroke="none" stroke-width="1" />
<rect x="531.2" y="269.1" width="3.4" height="3.4" fill="#1f6db4" stroke="none" stroke-width="1" />
<path d="M533.4,277.9 L535.8,282.1 L531.1,282.1 Z" fill="#1f6db4" stroke="none" stroke-width="1" />
<circle cx="509.6" cy="282.3" r="1.90" fill="#1f6db4" stroke="none" stroke-width="1" />
<path d="M528.3,279.6 L530.6,283.8 L526.0,283.8 Z" fill="#1f6db4" stroke="none" stroke-width="1" />
<path d="M541.1,277.0 L543.4,281.2 L538.8,281.2 Z" fill="#1f6db4" stroke="none" stroke-width="1" />
<rect x="526.1" y="294.3" width="3.4" height="3.4" fill="#5fb2e2" stroke="none" stroke-width="1" />
<rect x="546.0" y="295.6" width="3.4" height="3.4" fill="#5fb2e2" stroke="none" stroke-width="1" />
<rect x="543.3" y="280.4" width="3.4" height="3.4" fill="#5fb2e2" stroke="none" stroke-width="1" />
<circle cx="532.4" cy="290.3" r="1.90" fill="#1f6db4" stroke="none" stroke-width="1" />
<path d="M526.1,294.8 L528.5,299.0 L523.8,299.0 Z" fill="#5fb2e2" stroke="none" stroke-width="1" />
<circle cx="539.0" cy="286.6" r="1.90" fill="#1f6db4" stroke="none" stroke-width="1" />
<circle cx="497.8" cy="337.5" r="1.90" fill="#5fb2e2" stroke="none" stroke-width="1" />
<circle cx="542.2" cy="274.3" r="1.90" fill="#5fb2e2" stroke="none" stroke-width="1" />
<rect x="499.6" y="321.8" width="3.4" height="3.4" fill="#1f6db4" stroke="none" stroke-width="1" />
<path d="M547.9,272.3 L550.3,276.5 L545.6,276.5 Z" fill="#5fb2e2" stroke="none" stroke-width="1" />
<path d="M513.9,303.6 L516.2,307.8 L511.6,307.8 Z" fill="#1f6db4" stroke="none" stroke-width="1" />
<rect x="529.5" y="273.6" width="3.4" height="3.4" fill="#5fb2e2" stroke="none" stroke-width="1" />
<path d="M491.5,307.4 L493.9,311.6 L489.2,311.6 Z" fill="#1f6db4" stroke="none" stroke-width="1" />
<path d="M517.8,297.1 L520.1,301.3 L515.5,301.3 Z" fill="#5fb2e2" stroke="none" stroke-width="1" />
<circle cx="545.7" cy="286.6" r="1.90" fill="#5fb2e2" stroke="none" stroke-width="1" />
<path d="M510.9,305.6 L513.3,309.8 L508.6,309.8 Z" fill="#5fb2e2" stroke="none" stroke-width="1" />
<path d="M524.8,283.5 L527.1,287.7 L522.5,287.7 Z" fill="#5fb2e2" stroke="none" stroke-width="1" />
<rect x="503.0" y="304.0" width="3.4" height="3.4" fill="#1f6db4" stroke="none" stroke-width="1" />
<path d="M525.9,294.7 L528.2,298.9 L523.6,298.9 Z" fill="#1f6db4" stroke="none" stroke-width="1" />
<path d="M513.6,288.6 L515.9,292.8 L511.2,292.8 Z" fill="#1f6db4" stroke="none" stroke-width="1" />
<circle cx="511.9" cy="287.7" r="1.90" fill="#5fb2e2" stroke="none" stroke-width="1" />
<rect x="534.8" y="290.0" width="3.4" height="3.4" fill="#5fb2e2" stroke="none" stroke-width="1" />
<rect x="533.6" y="280.7" width="3.4" height="3.4" fill="#5fb2e2" stroke="none" stroke-width="1" />
<rect x="521.6" y="288.5" width="3.4" height="3.4" fill="#5fb2e2" stroke="none" stroke-width="1" />
<rect x="527.8" y="274.1" width="3.4" height="3.4" fill="#1f6db4" stroke="none" stroke-width="1" />
<path d="M547.3,281.1 L549.6,285.3 L545.0,285.3 Z" fill="#5fb2e2" stroke="none" stroke-width="1" />
<circle cx="520.0" cy="288.9" r="1.90" fill="#1f6db4" stroke="none" stroke-width="1" />
<path d="M505.0,298.6 L507.3,302.8 L502.7,302.8 Z" fill="#5fb2e2" stroke="none" stroke-width="1" />
<circle cx="537.4" cy="283.4" r="1.90" fill="#5fb2e2" stroke="none" stroke-width="1" />
<circle cx="527.4" cy="285.3" r="1.90" fill="#5fb2e2" stroke="none" stroke-width="1" />
<circle cx="528.7" cy="284.4" r="1.90" fill="#1f6db4" stroke="none" stroke-width="1" />
<path d="M531.9,288.5 L534.2,292.7 L529.6,292.7 Z" fill="#1f6db4" stroke="none" stroke-width="1" />
<path d="M535.8,274.4 L538.1,278.6 L533.5,278.6 Z" fill="#5fb2e2" stroke="none" stroke-width="1" />
<path d="M533.8,285.3 L536.1,289.5 L531.5,289.5 Z" fill="#5fb2e2" stroke="none" stroke-width="1" />
<circle cx="516.9" cy="293.3" r="1.90" fill="#1f6db4" stroke="none" stroke-width="1" />
<rect x="526.7" y="278.9" width="3.4" height="3.4" fill="#1f6db4" stroke="none" stroke-width="1" />
<path d="M538.1,289.5 L540.4,293.7 L535.8,293.7 Z" fill="#5fb2e2" stroke="none" stroke-width="1" />
<circle cx="506.1" cy="298.2" r="1.90" fill="#5fb2e2" stroke="none" stroke-width="1" />
<rect x="544.5" y="281.2" width="3.4" height="3.4" fill="#1f6db4" stroke="none" stroke-width="1" />
<path d="M531.9,292.5 L534.2,296.7 L529.6,296.7 Z" fill="#1f6db4" stroke="none" stroke-width="1" />
<path d="M520.9,287.6 L523.2,291.8 L518.6,291.8 Z" fill="#1f6db4" stroke="none" stroke-width="1" />
<circle cx="548.2" cy="256.4" r="1.90" fill="#5fb2e2" stroke="none" stroke-width="1" />
<path d="M530.2,276.7 L532.5,280.9 L527.9,280.9 Z" fill="#5fb2e2" stroke="none" stroke-width="1" />
<rect x="513.1" y="297.1" width="3.4" height="3.4" fill="#1f6db4" stroke="none" stroke-width="1" />
<circle cx="538.8" cy="284.5" r="1.90" fill="#1f6db4" stroke="none" stroke-width="1" />
<path d="M529.2,277.1 L531.5,281.3 L526.9,281.3 Z" fill="#1f6db4" stroke="none" stroke-width="1" />
<circle cx="528.5" cy="301.1" r="1.90" fill="#1f6db4" stroke="none" stroke-width="1" />
<path d="M549.9,284.6 L552.2,288.8 L547.6,288.8 Z" fill="#5fb2e2" stroke="none" stroke-width="1" />
<rect x="525.6" y="289.8" width="3.4" height="3.4" fill="#5fb2e2" stroke="none" stroke-width="1" />
<circle cx="525.0" cy="299.2" r="1.90" fill="#1f6db4" stroke="none" stroke-width="1" />
<path d="M538.6,301.4 L540.9,305.6 L536.2,305.6 Z" fill="#1f6db4" stroke="none" stroke-width="1" />
<rect x="525.2" y="306.1" width="3.4" height="3.4" fill="#5fb2e2" stroke="none" stroke-width="1" />
<rect x="534.2" y="286.7" width="3.4" height="3.4" fill="#5fb2e2" stroke="none" stroke-width="1" />
<rect x="525.2" y="294.1" width="3.4" height="3.4" fill="#1f6db4" stroke="none" stroke-width="1" />
<path d="M510.2,294.3 L512.6,298.5 L507.9,298.5 Z" fill="#1f6db4" stroke="none" stroke-width="1" />
<circle cx="528.3" cy="275.7" r="1.90" fill="#1f6db4" stroke="none" stroke-width="1" />
<rect x="511.0" y="297.8" width="3.4" height="3.4" fill="#1f6db4" stroke="none" stroke-width="1" />
<path d="M533.4,294.3 L535.7,298.5 L531.1,298.5 Z" fill="#1f6db4" stroke="none" stroke-width="1" />
<circle cx="509.9" cy="310.1" r="1.90" fill="#5fb2e2" stroke="none" stroke-width="1" />
<rect x="544.8" y="295.6" width="3.4" height="3.4" fill="#5fb2e2" stroke="none" stroke-width="1" />
<rect x="528.9" y="305.7" width="3.4" height="3.4" fill="#1f6db4" stroke="none" stroke-width="1" />
<rect x="539.8" y="294.2" width="3.4" height="3.4" fill="#5fb2e2" stroke="none" stroke-width="1" />
<rect x="518.1" y="286.5" width="3.4" height="3.4" fill="#1f6db4" stroke="none" stroke-width="1" />
<path d="M500.4,311.4 L502.7,315.6 L498.1,315.6 Z" fill="#5fb2e2" stroke="none" stroke-width="1" />
<path d="M496.3,314.5 L498.6,318.7 L494.0,318.7 Z" fill="#5fb2e2" stroke="none" stroke-width="1" />
<rect x="510.9" y="297.5" width="3.4" height="3.4" fill="#5fb2e2" stroke="none" stroke-width="1" />
<path d="M527.1,286.9 L529.4,291.1 L524.8,291.1 Z" fill="#1f6db4" stroke="none" stroke-width="1" />
<rect x="513.6" y="322.8" width="3.4" height="3.4" fill="#1f6db4" stroke="none" stroke-width="1" />
<path d="M503.7,306.5 L506.0,310.7 L501.4,310.7 Z" fill="#5fb2e2" stroke="none" stroke-width="1" />
<path d="M499.6,297.8 L501.9,302.0 L497.3,302.0 Z" fill="#1f6db4" stroke="none" stroke-width="1" />
<path d="M529.4,271.7 L531.7,275.9 L527.1,275.9 Z" fill="#1f6db4" stroke="none" stroke-width="1" />
<path d="M511.3,280.6 L513.6,284.8 L509.0,284.8 Z" fill="#1f6db4" stroke="none" stroke-width="1" />
<path d="M536.2,291.2 L538.5,295.4 L533.9,295.4 Z" fill="#5fb2e2" stroke="none" stroke-width="1" />
<path d="M533.9,295.8 L536.2,300.0 L531.6,300.0 Z" fill="#5fb2e2" stroke="none" stroke-width="1" />
<circle cx="525.9" cy="279.5" r="1.90" fill="#1f6db4" stroke="none" stroke-width="1" />
<rect x="547.8" y="285.9" width="3.4" height="3.4" fill="#1f6db4" stroke="none" stroke-width="1" />
<path d="M567.9,294.5 L570.2,298.7 L565.5,298.7 Z" fill="#5fb2e2" stroke="none" stroke-width="1" />
<path d="M506.1,267.4 L508.4,271.6 L503.8,271.6 Z" fill="#1f6db4" stroke="none" stroke-width="1" />
<rect x="509.5" y="302.2" width="3.4" height="3.4" fill="#5fb2e2" stroke="none" stroke-width="1" />
<circle cx="505.9" cy="299.1" r="1.90" fill="#5fb2e2" stroke="none" stroke-width="1" />
<circle cx="554.6" cy="259.9" r="1.90" fill="#1f6db4" stroke="none" stroke-width="1" />
<circle cx="540.7" cy="304.7" r="1.90" fill="#1f6db4" stroke="none" stroke-width="1" />
<circle cx="542.4" cy="262.6" r="1.90" fill="#1f6db4" stroke="none" stroke-width="1" />
<circle cx="539.0" cy="282.1" r="1.90" fill="#5fb2e2" stroke="none" stroke-width="1" />
<circle cx="529.9" cy="290.1" r="1.90" fill="#1f6db4" stroke="none" stroke-width="1" />
<path d="M528.2,288.3 L530.5,292.5 L525.9,292.5 Z" fill="#5fb2e2" stroke="none" stroke-width="1" />
<path d="M517.4,301.2 L519.8,305.4 L515.1,305.4 Z" fill="#1f6db4" stroke="none" stroke-width="1" />
<rect x="534.8" y="290.7" width="3.4" height="3.4" fill="#1f6db4" stroke="none" stroke-width="1" />
<path d="M527.9,265.9 L530.2,270.1 L525.6,270.1 Z" fill="#5fb2e2" stroke="none" stroke-width="1" />
<circle cx="503.3" cy="291.1" r="1.90" fill="#5fb2e2" stroke="none" stroke-width="1" />
<path d="M524.7,294.5 L527.0,298.7 L522.3,298.7 Z" fill="#5fb2e2" stroke="none" stroke-width="1" />
<path d="M515.6,298.7 L517.9,302.9 L513.3,302.9 Z" fill="#5fb2e2" stroke="none" stroke-width="1" />
<path d="M530.8,279.5 L533.1,283.7 L528.5,283.7 Z" fill="#1f6db4" stroke="none" stroke-width="1" />
<path d="M512.9,288.1 L515.2,292.3 L510.6,292.3 Z" fill="#5fb2e2" stroke="none" stroke-width="1" />
<rect x="503.2" y="308.4" width="3.4" height="3.4" fill="#1f6db4" stroke="none" stroke-width="1" />
<circle cx="537.7" cy="272.6" r="1.90" fill="#1f6db4" stroke="none" stroke-width="1" />
<path d="M521.5,295.4 L523.8,299.6 L519.2,299.6 Z" fill="#5fb2e2" stroke="none" stroke-width="1" />
<path d="M515.4,288.6 L517.7,292.8 L513.1,292.8 Z" fill="#1f6db4" stroke="none" stroke-width="1" />
<path d="M533.5,280.6 L535.8,284.8 L531.2,284.8 Z" fill="#1f6db4" stroke="none" stroke-width="1" />
<circle cx="528.6" cy="284.9" r="1.90" fill="#1f6db4" stroke="none" stroke-width="1" />
<rect x="501.5" y="291.9" width="3.4" height="3.4" fill="#5fb2e2" stroke="none" stroke-width="1" />
<path d="M533.9,280.8 L536.2,285.0 L531.6,285.0 Z" fill="#5fb2e2" stroke="none" stroke-width="1" />
<circle cx="549.1" cy="276.5" r="1.90" fill="#1f6db4" stroke="none" stroke-width="1" />
<path d="M528.3,301.8 L530.6,306.0 L526.0,306.0 Z" fill="#5fb2e2" stroke="none" stroke-width="1" />
<circle cx="530.0" cy="300.6" r="1.90" fill="#5fb2e2" stroke="none" stroke-width="1" />
<rect x="539.9" y="288.2" width="3.4" height="3.4" fill="#1f6db4" stroke="none" stroke-width="1" />
<circle cx="525.4" cy="288.6" r="1.90" fill="#1f6db4" stroke="none" stroke-width="1" />
<path d="M516.9,292.8 L519.2,297.0 L514.6,297.0 Z" fill="#5fb2e2" stroke="none" stroke-width="1" />
<rect x="510.8" y="309.1" width="3.4" height="3.4" fill="#1f6db4" stroke="none" stroke-width="1" />
<rect x="526.5" y="295.4" width="3.4" height="3.4" fill="#1f6db4" stroke="none" stroke-width="1" />
<path d="M513.1,294.9 L515.5,299.1 L510.8,299.1 Z" fill="#5fb2e2" stroke="none" stroke-width="1" />
<rect x="487.0" y="315.9" width="3.4" height="3.4" fill="#5fb2e2" stroke="none" stroke-width="1" />
<path d="M533.3,265.3 L535.6,269.5 L531.0,269.5 Z" fill="#1f6db4" stroke="none" stroke-width="1" />
<circle cx="532.1" cy="288.0" r="1.90" fill="#5fb2e2" stroke="none" stroke-width="1" />
<circle cx="522.0" cy="285.1" r="1.90" fill="#1f6db4" stroke="none" stroke-width="1" />
<path d="M520.0,303.5 L522.3,307.7 L517.7,307.7 Z" fill="#5fb2e2" stroke="none" stroke-width="1" />
<rect x="530.4" y="286.3" width="3.4" height="3.4" fill="#1f6db4" stroke="none" stroke-width="1" />
<path d="M529.0,286.2 L531.3,290.4 L526.7,290.4 Z" fill="#1f6db4" stroke="none" stroke-width="1" />
<rect x="529.2" y="289.7" width="3.4" height="3.4" fill="#1f6db4" stroke="none" stroke-width="1" />
<rect x="527.6" y="288.8" width="3.4" height="3.4" fill="#5fb2e2" stroke="none" stroke-width="1" />
<rect x="537.5" y="256.2" width="3.4" height="3.4" fill="#1f6db4" stroke="none" stroke-width="1" />
<rect x="513.8" y="286.1" width="3.4" height="3.4" fill="#5fb2e2" stroke="none" stroke-width="1" />
<circle cx="536.5" cy="286.9" r="1.90" fill="#1f6db4" stroke="none" stroke-width="1" />
<path d="M520.4,276.0 L522.7,280.2 L518.1,280.2 Z" fill="#1f6db4" stroke="none" stroke-width="1" />
<path d="M519.1,284.6 L521.4,288.8 L516.8,288.8 Z" fill="#5fb2e2" stroke="none" stroke-width="1" />
<circle cx="524.1" cy="293.9" r="1.90" fill="#5fb2e2" stroke="none" stroke-width="1" />
<rect x="508.2" y="309.4" width="3.4" height="3.4" fill="#1f6db4" stroke="none" stroke-width="1" />
<path d="M488.9,307.5 L491.2,311.7 L486.6,311.7 Z" fill="#1f6db4" stroke="none" stroke-width="1" />
<circle cx="509.2" cy="288.3" r="1.90" fill="#1f6db4" stroke="none" stroke-width="1" />
<path d="M515.3,297.5 L517.6,301.7 L513.0,301.7 Z" fill="#5fb2e2" stroke="none" stroke-width="1" />
<circle cx="519.5" cy="295.0" r="1.90" fill="#1f6db4" stroke="none" stroke-width="1" />
<rect x="506.5" y="307.2" width="3.4" height="3.4" fill="#1f6db4" stroke="none" stroke-width="1" />
<circle cx="542.4" cy="291.2" r="1.90" fill="#5fb2e2" stroke="none" stroke-width="1" />
<rect x="559.0" y="274.8" width="3.4" height="3.4" fill="#1f6db4" stroke="none" stroke-width="1" />
<circle cx="502.5" cy="294.5" r="1.90" fill="#1f6db4" stroke="none" stroke-width="1" />
<circle cx="554.8" cy="298.6" r="1.90" fill="#5fb2e2" stroke="none" stroke-width="1" />
<rect x="474.1" y="307.6" width="3.4" height="3.4" fill="#1f6db4" stroke="none" stroke-width="1" />
<path d="M614.5,192.8 L616.8,197.0 L612.2,197.0 Z" fill="#f6c7ab" stroke="none" stroke-width="1" />
<circle cx="637.5" cy="154.3" r="1.90" fill="#f6c7ab" stroke="none" stroke-width="1" />
<rect x="592.4" y="231.3" width="3.4" height="3.4" fill="#f6c7ab" stroke="none" stroke-width="1" />
<circle cx="636.0" cy="165.7" r="1.90" fill="#f6c7ab" stroke="none" stroke-width="1" />
<circle cx="631.0" cy="187.6" r="1.90" fill="#f6c7ab" stroke="none" stroke-width="1" />
<path d="M609.8,186.8 L612.1,191.0 L607.5,191.0 Z" fill="#f6c7ab" stroke="none" stroke-width="1" />
<rect x="616.8" y="189.4" width="3.4" height="3.4" fill="#f6c7ab" stroke="none" stroke-width="1" />
<path d="M627.1,181.2 L629.4,185.4 L624.8,185.4 Z" fill="#f6c7ab" stroke="none" stroke-width="1" />
<path d="M627.1,165.5 L629.4,169.7 L624.8,169.7 Z" fill="#f6c7ab" stroke="none" stroke-width="1" />
<circle cx="624.5" cy="172.5" r="1.90" fill="#f6c7ab" stroke="none" stroke-width="1" />
<path d="M651.4,156.0 L653.7,160.2 L649.1,160.2 Z" fill="#f6c7ab" stroke="none" stroke-width="1" />
<rect x="628.3" y="170.8" width="3.4" height="3.4" fill="#f6c7ab" stroke="none" stroke-width="1" />
<rect x="623.2" y="178.2" width="3.4" height="3.4" fill="#f6c7ab" stroke="none" stroke-width="1" />
<circle cx="609.2" cy="193.2" r="1.90" fill="#f6c7ab" stroke="none" stroke-width="1" />
<rect x="617.5" y="186.7" width="3.4" height="3.4" fill="#f6c7ab" stroke="none" stroke-width="1" />
<circle cx="603.3" cy="219.1" r="1.90" fill="#f6c7ab" stroke="none" stroke-width="1" />
<rect x="633.8" y="179.2" width="3.4" height="3.4" fill="#f6c7ab" stroke="none" stroke-width="1" />
<rect x="629.0" y="164.4" width="3.4" height="3.4" fill="#f6c7ab" stroke="none" stroke-width="1" />
<rect x="615.2" y="181.7" width="3.4" height="3.4" fill="#f6c7ab" stroke="none" stroke-width="1" />
<circle cx="627.4" cy="175.9" r="1.90" fill="#f6c7ab" stroke="none" stroke-width="1" />
<rect x="603.9" y="184.6" width="3.4" height="3.4" fill="#f6c7ab" stroke="none" stroke-width="1" />
<circle cx="611.5" cy="202.2" r="1.90" fill="#f6c7ab" stroke="none" stroke-width="1" />
<rect x="622.2" y="177.9" width="3.4" height="3.4" fill="#f6c7ab" stroke="none" stroke-width="1" />
<path d="M631.5,178.7 L633.8,182.9 L629.2,182.9 Z" fill="#f6c7ab" stroke="none" stroke-width="1" />
<circle cx="615.7" cy="193.0" r="1.90" fill="#f6c7ab" stroke="none" stroke-width="1" />
<path d="M633.9,169.4 L636.2,173.6 L631.6,173.6 Z" fill="#f6c7ab" stroke="none" stroke-width="1" />
<rect x="630.5" y="175.3" width="3.4" height="3.4" fill="#f6c7ab" stroke="none" stroke-width="1" />
<path d="M622.3,177.3 L624.6,181.5 L620.0,181.5 Z" fill="#f6c7ab" stroke="none" stroke-width="1" />
<path d="M611.5,196.1 L613.8,200.3 L609.1,200.3 Z" fill="#f6c7ab" stroke="none" stroke-width="1" />
<circle cx="611.9" cy="199.7" r="1.90" fill="#f6c7ab" stroke="none" stroke-width="1" />
<path d="M605.6,233.5 L608.0,237.7 L603.3,237.7 Z" fill="#f6c7ab" stroke="none" stroke-width="1" />
<rect x="622.7" y="173.9" width="3.4" height="3.4" fill="#f6c7ab" stroke="none" stroke-width="1" />
<circle cx="609.4" cy="191.9" r="1.90" fill="#f6c7ab" stroke="none" stroke-width="1" />
<path d="M614.6,192.7 L616.9,196.9 L612.3,196.9 Z" fill="#f6c7ab" stroke="none" stroke-width="1" />
<circle cx="609.0" cy="200.7" r="1.90" fill="#f6c7ab" stroke="none" stroke-width="1" />
<rect x="611.1" y="195.0" width="3.4" height="3.4" fill="#f6c7ab" stroke="none" stroke-width="1" />
<circle cx="612.3" cy="212.0" r="1.90" fill="#f6c7ab" stroke="none" stroke-width="1" />
<circle cx="612.5" cy="218.2" r="1.90" fill="#f6c7ab" stroke="none" stroke-width="1" />
<circle cx="607.2" cy="199.4" r="1.90" fill="#f6c7ab" stroke="none" stroke-width="1" />
<circle cx="631.2" cy="177.3" r="1.90" fill="#f6c7ab" stroke="none" stroke-width="1" />
<rect x="598.9" y="202.4" width="3.4" height="3.4" fill="#f6c7ab" stroke="none" stroke-width="1" />
<path d="M604.6,203.5 L606.9,207.7 L602.3,207.7 Z" fill="#f6c7ab" stroke="none" stroke-width="1" />
<path d="M630.7,161.4 L633.0,165.6 L628.4,165.6 Z" fill="#f6c7ab" stroke="none" stroke-width="1" />
<path d="M615.1,191.7 L617.4,195.9 L612.8,195.9 Z" fill="#f6c7ab" stroke="none" stroke-width="1" />
<path d="M615.5,195.5 L617.8,199.7 L613.2,199.7 Z" fill="#f6c7ab" stroke="none" stroke-width="1" />
<circle cx="624.3" cy="186.0" r="1.90" fill="#f6c7ab" stroke="none" stroke-width="1" />
<rect x="606.2" y="195.9" width="3.4" height="3.4" fill="#f6c7ab" stroke="none" stroke-width="1" />
<path d="M634.2,158.7 L636.5,162.9 L631.9,162.9 Z" fill="#f6c7ab" stroke="none" stroke-width="1" />
<circle cx="606.7" cy="208.3" r="1.90" fill="#f6c7ab" stroke="none" stroke-width="1" />
<path d="M624.8,170.6 L627.1,174.8 L622.5,174.8 Z" fill="#f6c7ab" stroke="none" stroke-width="1" />
<circle cx="629.9" cy="170.4" r="1.90" fill="#f6c7ab" stroke="none" stroke-width="1" />
<rect x="617.2" y="176.2" width="3.4" height="3.4" fill="#f6c7ab" stroke="none" stroke-width="1" />
<path d="M624.7,190.7 L627.0,194.9 L622.3,194.9 Z" fill="#f6c7ab" stroke="none" stroke-width="1" />
<path d="M637.0,167.9 L639.4,172.1 L634.7,172.1 Z" fill="#f6c7ab" stroke="none" stroke-width="1" />
<path d="M642.8,169.1 L645.1,173.3 L640.5,173.3 Z" fill="#f6c7ab" stroke="none" stroke-width="1" />
<rect x="618.8" y="193.0" width="3.4" height="3.4" fill="#f6c7ab" stroke="none" stroke-width="1" />
<rect x="607.2" y="192.6" width="3.4" height="3.4" fill="#f6c7ab" stroke="none" stroke-width="1" />
<circle cx="612.9" cy="186.3" r="1.90" fill="#f6c7ab" stroke="none" stroke-width="1" />
<path d="M618.5,183.3 L620.8,187.5 L616.2,187.5 Z" fill="#f6c7ab" stroke="none" stroke-width="1" />
<path d="M618.4,195.9 L620.7,200.1 L616.1,200.1 Z" fill="#f6c7ab" stroke="none" stroke-width="1" />
<path d="M639.7,172.8 L642.0,177.0 L637.4,177.0 Z" fill="#f6c7ab" stroke="none" stroke-width="1" />
<path d="M621.6,166.9 L623.9,171.1 L619.3,171.1 Z" fill="#f6c7ab" stroke="none" stroke-width="1" />
<path d="M615.1,198.1 L617.4,202.3 L612.7,202.3 Z" fill="#f6c7ab" stroke="none" stroke-width="1" />
<rect x="601.9" y="217.7" width="3.4" height="3.4" fill="#f6c7ab" stroke="none" stroke-width="1" />
<path d="M638.8,165.7 L641.1,169.9 L636.5,169.9 Z" fill="#f6c7ab" stroke="none" stroke-width="1" />
<path d="M613.3,193.1 L615.6,197.3 L611.0,197.3 Z" fill="#f6c7ab" stroke="none" stroke-width="1" />
<circle cx="574.0" cy="266.6" r="1.90" fill="#f6c7ab" stroke="none" stroke-width="1" />
<circle cx="631.6" cy="167.2" r="1.90" fill="#f6c7ab" stroke="none" stroke-width="1" />
<circle cx="612.6" cy="187.6" r="1.90" fill="#f6c7ab" stroke="none" stroke-width="1" />
<path d="M645.3,150.0 L647.7,154.2 L643.0,154.2 Z" fill="#f6c7ab" stroke="none" stroke-width="1" />
<path d="M632.7,161.1 L635.0,165.3 L630.4,165.3 Z" fill="#f6c7ab" stroke="none" stroke-width="1" />
<path d="M647.1,151.1 L649.4,155.3 L644.8,155.3 Z" fill="#f6c7ab" stroke="none" stroke-width="1" />
<circle cx="634.1" cy="160.8" r="1.90" fill="#f6c7ab" stroke="none" stroke-width="1" />
<circle cx="627.7" cy="163.7" r="1.90" fill="#f6c7ab" stroke="none" stroke-width="1" />
<path d="M628.5,161.1 L630.8,165.3 L626.2,165.3 Z" fill="#f6c7ab" stroke="none" stroke-width="1" />
<rect x="636.7" y="163.6" width="3.4" height="3.4" fill="#f6c7ab" stroke="none" stroke-width="1" />
<circle cx="625.7" cy="170.0" r="1.90" fill="#f6c7ab" stroke="none" stroke-width="1" />
<path d="M613.9,195.9 L616.2,200.1 L611.6,200.1 Z" fill="#f6c7ab" stroke="none" stroke-width="1" />
<rect x="632.4" y="178.1" width="3.4" height="3.4" fill="#f6c7ab" stroke="none" stroke-width="1" />
<circle cx="641.7" cy="166.2" r="1.90" fill="#f6c7ab" stroke="none" stroke-width="1" />
<circle cx="622.2" cy="177.7" r="1.90" fill="#f6c7ab" stroke="none" stroke-width="1" />
<path d="M617.9,174.3 L620.2,178.5 L615.6,178.5 Z" fill="#f6c7ab" stroke="none" stroke-width="1" />
<circle cx="623.4" cy="189.8" r="1.90" fill="#f6c7ab" stroke="none" stroke-width="1" />
<circle cx="612.6" cy="197.6" r="1.90" fill="#f6c7ab" stroke="none" stroke-width="1" />
<circle cx="615.2" cy="197.0" r="1.90" fill="#f6c7ab" stroke="none" stroke-width="1" />
<circle cx="615.4" cy="190.9" r="1.90" fill="#f6c7ab" stroke="none" stroke-width="1" />
<path d="M616.5,188.2 L618.8,192.4 L614.2,192.4 Z" fill="#f6c7ab" stroke="none" stroke-width="1" />
<circle cx="607.3" cy="202.3" r="1.90" fill="#f6c7ab" stroke="none" stroke-width="1" />
<path d="M615.6,176.4 L618.0,180.6 L613.3,180.6 Z" fill="#f6c7ab" stroke="none" stroke-width="1" />
<circle cx="620.0" cy="188.3" r="1.90" fill="#f6c7ab" stroke="none" stroke-width="1" />
<rect x="622.0" y="180.9" width="3.4" height="3.4" fill="#f6c7ab" stroke="none" stroke-width="1" />
<circle cx="598.4" cy="198.7" r="1.90" fill="#f6c7ab" stroke="none" stroke-width="1" />
<path d="M640.7,156.2 L643.0,160.4 L638.3,160.4 Z" fill="#f6c7ab" stroke="none" stroke-width="1" />
<rect x="606.5" y="208.8" width="3.4" height="3.4" fill="#f6c7ab" stroke="none" stroke-width="1" />
<rect x="627.1" y="184.7" width="3.4" height="3.4" fill="#f6c7ab" stroke="none" stroke-width="1" />
<circle cx="627.9" cy="179.3" r="1.90" fill="#f6c7ab" stroke="none" stroke-width="1" />
<rect x="629.0" y="167.8" width="3.4" height="3.4" fill="#f6c7ab" stroke="none" stroke-width="1" />
<circle cx="623.6" cy="195.7" r="1.90" fill="#f6c7ab" stroke="none" stroke-width="1" />
<rect x="617.7" y="176.0" width="3.4" height="3.4" fill="#f6c7ab" stroke="none" stroke-width="1" />
<rect x="615.2" y="188.2" width="3.4" height="3.4" fill="#f6c7ab" stroke="none" stroke-width="1" />
<path d="M633.5,166.5 L635.8,170.7 L631.2,170.7 Z" fill="#f6c7ab" stroke="none" stroke-width="1" />
<path d="M621.7,180.9 L624.0,185.1 L619.4,185.1 Z" fill="#f6c7ab" stroke="none" stroke-width="1" />
<circle cx="599.9" cy="208.8" r="1.90" fill="#f6c7ab" stroke="none" stroke-width="1" />
<rect x="643.6" y="149.8" width="3.4" height="3.4" fill="#f6c7ab" stroke="none" stroke-width="1" />
<circle cx="602.4" cy="211.6" r="1.90" fill="#f6c7ab" stroke="none" stroke-width="1" />
<rect x="617.2" y="183.9" width="3.4" height="3.4" fill="#f6c7ab" stroke="none" stroke-width="1" />
<path d="M618.7,198.5 L621.0,202.7 L616.4,202.7 Z" fill="#f6c7ab" stroke="none" stroke-width="1" />
<path d="M640.4,154.2 L642.7,158.4 L638.1,158.4 Z" fill="#f6c7ab" stroke="none" stroke-width="1" />
<rect x="618.8" y="175.4" width="3.4" height="3.4" fill="#f6c7ab" stroke="none" stroke-width="1" />
<path d="M621.4,185.1 L623.7,189.3 L619.1,189.3 Z" fill="#f6c7ab" stroke="none" stroke-width="1" />
<circle cx="614.0" cy="204.2" r="1.90" fill="#f6c7ab" stroke="none" stroke-width="1" />
<circle cx="598.8" cy="208.9" r="1.90" fill="#f6c7ab" stroke="none" stroke-width="1" />
<circle cx="619.8" cy="195.9" r="1.90" fill="#f6c7ab" stroke="none" stroke-width="1" />
<path d="M621.9,166.0 L624.2,170.2 L619.6,170.2 Z" fill="#f6c7ab" stroke="none" stroke-width="1" />
<circle cx="606.8" cy="203.9" r="1.90" fill="#f6c7ab" stroke="none" stroke-width="1" />
<rect x="610.0" y="204.8" width="3.4" height="3.4" fill="#f6c7ab" stroke="none" stroke-width="1" />
<circle cx="621.6" cy="179.1" r="1.90" fill="#f6c7ab" stroke="none" stroke-width="1" />
<path d="M615.6,187.2 L617.9,191.4 L613.3,191.4 Z" fill="#f6c7ab" stroke="none" stroke-width="1" />
<circle cx="601.6" cy="188.5" r="1.90" fill="#f6c7ab" stroke="none" stroke-width="1" />
<rect x="627.7" y="166.1" width="3.4" height="3.4" fill="#f6c7ab" stroke="none" stroke-width="1" />
<rect x="607.8" y="186.6" width="3.4" height="3.4" fill="#f6c7ab" stroke="none" stroke-width="1" />
<circle cx="627.4" cy="180.5" r="1.90" fill="#f6c7ab" stroke="none" stroke-width="1" />
<path d="M604.0,192.6 L606.3,196.8 L601.7,196.8 Z" fill="#f6c7ab" stroke="none" stroke-width="1" />
<path d="M620.8,169.7 L623.1,173.9 L618.5,173.9 Z" fill="#f6c7ab" stroke="none" stroke-width="1" />
<path d="M622.9,175.8 L625.2,180.0 L620.6,180.0 Z" fill="#f6c7ab" stroke="none" stroke-width="1" />
<circle cx="605.8" cy="200.6" r="1.90" fill="#f6c7ab" stroke="none" stroke-width="1" />
<circle cx="626.0" cy="183.9" r="1.90" fill="#f6c7ab" stroke="none" stroke-width="1" />
<rect x="628.5" y="171.9" width="3.4" height="3.4" fill="#f6c7ab" stroke="none" stroke-width="1" />
<path d="M628.4,174.2 L630.7,178.4 L626.1,178.4 Z" fill="#f6c7ab" stroke="none" stroke-width="1" />
<circle cx="603.5" cy="209.1" r="1.90" fill="#f6c7ab" stroke="none" stroke-width="1" />
<path d="M615.6,185.5 L617.9,189.7 L613.3,189.7 Z" fill="#f6c7ab" stroke="none" stroke-width="1" />
<circle cx="626.5" cy="175.1" r="1.90" fill="#f6c7ab" stroke="none" stroke-width="1" />
<circle cx="631.5" cy="173.0" r="1.90" fill="#f6c7ab" stroke="none" stroke-width="1" />
<rect x="626.3" y="181.9" width="3.4" height="3.4" fill="#f6c7ab" stroke="none" stroke-width="1" />
<path d="M615.1,195.0 L617.4,199.2 L612.8,199.2 Z" fill="#f6c7ab" stroke="none" stroke-width="1" />
<circle cx="627.4" cy="177.3" r="1.90" fill="#f6c7ab" stroke="none" stroke-width="1" />
<rect x="622.0" y="173.2" width="3.4" height="3.4" fill="#f6c7ab" stroke="none" stroke-width="1" />
<rect x="631.8" y="161.1" width="3.4" height="3.4" fill="#f6c7ab" stroke="none" stroke-width="1" />
<path d="M608.5,194.4 L610.8,198.6 L606.2,198.6 Z" fill="#f6c7ab" stroke="none" stroke-width="1" />
<rect x="605.0" y="201.1" width="3.4" height="3.4" fill="#f6c7ab" stroke="none" stroke-width="1" />
<path d="M626.4,181.0 L628.7,185.2 L624.1,185.2 Z" fill="#f6c7ab" stroke="none" stroke-width="1" />
<rect x="613.3" y="193.0" width="3.4" height="3.4" fill="#f6c7ab" stroke="none" stroke-width="1" />
<rect x="607.4" y="203.9" width="3.4" height="3.4" fill="#f6c7ab" stroke="none" stroke-width="1" />
<circle cx="614.7" cy="181.6" r="1.90" fill="#f6c7ab" stroke="none" stroke-width="1" />
<path d="M609.2,198.3 L611.5,202.5 L606.9,202.5 Z" fill="#f6c7ab" stroke="none" stroke-width="1" />
<path d="M627.8,170.4 L630.1,174.6 L625.5,174.6 Z" fill="#f6c7ab" stroke="none" stroke-width="1" />
<path d="M631.2,165.7 L633.5,169.9 L628.9,169.9 Z" fill="#f6c7ab" stroke="none" stroke-width="1" />
<path d="M616.1,176.8 L618.4,181.0 L613.7,181.0 Z" fill="#f6c7ab" stroke="none" stroke-width="1" />
<rect x="625.1" y="165.0" width="3.4" height="3.4" fill="#f6c7ab" stroke="none" stroke-width="1" />
<path d="M620.7,179.9 L623.0,184.1 L618.4,184.1 Z" fill="#f6c7ab" stroke="none" stroke-width="1" />
<rect x="623.5" y="187.2" width="3.4" height="3.4" fill="#f6c7ab" stroke="none" stroke-width="1" />
<circle cx="610.2" cy="181.7" r="1.90" fill="#f6c7ab" stroke="none" stroke-width="1" />
<circle cx="617.3" cy="187.4" r="1.90" fill="#f6c7ab" stroke="none" stroke-width="1" />
<rect x="600.9" y="193.7" width="3.4" height="3.4" fill="#f6c7ab" stroke="none" stroke-width="1" />
<path d="M615.4,195.0 L617.7,199.2 L613.1,199.2 Z" fill="#f6c7ab" stroke="none" stroke-width="1" />
<rect x="613.1" y="183.9" width="3.4" height="3.4" fill="#f6c7ab" stroke="none" stroke-width="1" />
<path d="M634.2,175.4 L636.5,179.6 L631.9,179.6 Z" fill="#f6c7ab" stroke="none" stroke-width="1" />
<circle cx="632.0" cy="175.4" r="1.90" fill="#f6c7ab" stroke="none" stroke-width="1" />
<path d="M622.7,191.5 L625.1,195.7 L620.4,195.7 Z" fill="#f6c7ab" stroke="none" stroke-width="1" />
<path d="M617.3,206.8 L619.6,211.0 L615.0,211.0 Z" fill="#f6c7ab" stroke="none" stroke-width="1" />
<circle cx="629.4" cy="181.2" r="1.90" fill="#f6c7ab" stroke="none" stroke-width="1" />
<path d="M626.8,187.4 L629.1,191.6 L624.4,191.6 Z" fill="#f6c7ab" stroke="none" stroke-width="1" />
<circle cx="597.9" cy="194.8" r="1.90" fill="#f6c7ab" stroke="none" stroke-width="1" />
<rect x="617.4" y="180.0" width="3.4" height="3.4" fill="#f6c7ab" stroke="none" stroke-width="1" />
<circle cx="636.3" cy="168.5" r="1.90" fill="#f6c7ab" stroke="none" stroke-width="1" />
<circle cx="596.6" cy="216.4" r="1.90" fill="#f6c7ab" stroke="none" stroke-width="1" />
<path d="M608.7,203.2 L611.0,207.4 L606.4,207.4 Z" fill="#f6c7ab" stroke="none" stroke-width="1" />
<rect x="621.6" y="190.5" width="3.4" height="3.4" fill="#f6c7ab" stroke="none" stroke-width="1" />
<circle cx="623.7" cy="175.1" r="1.90" fill="#f6c7ab" stroke="none" stroke-width="1" />
<path d="M623.7,183.9 L626.0,188.1 L621.4,188.1 Z" fill="#f6c7ab" stroke="none" stroke-width="1" />
<path d="M623.9,185.6 L626.3,189.8 L621.6,189.8 Z" fill="#f6c7ab" stroke="none" stroke-width="1" />
<circle cx="620.2" cy="195.6" r="1.90" fill="#f6c7ab" stroke="none" stroke-width="1" />
<rect x="605.7" y="189.6" width="3.4" height="3.4" fill="#f6c7ab" stroke="none" stroke-width="1" />
<circle cx="630.8" cy="187.1" r="1.90" fill="#f6c7ab" stroke="none" stroke-width="1" />
<rect x="626.9" y="179.6" width="3.4" height="3.4" fill="#f6c7ab" stroke="none" stroke-width="1" />
<path d="M622.4,190.0 L624.7,194.2 L620.1,194.2 Z" fill="#f6c7ab" stroke="none" stroke-width="1" />
<rect x="621.5" y="183.1" width="3.4" height="3.4" fill="#f6c7ab" stroke="none" stroke-width="1" />
<rect x="617.3" y="197.4" width="3.4" height="3.4" fill="#f6c7ab" stroke="none" stroke-width="1" />
<path d="M620.1,171.9 L622.4,176.1 L617.8,176.1 Z" fill="#f6c7ab" stroke="none" stroke-width="1" />
<circle cx="625.7" cy="184.3" r="1.90" fill="#f6c7ab" stroke="none" stroke-width="1" />
<rect x="606.5" y="201.0" width="3.4" height="3.4" fill="#f6c7ab" stroke="none" stroke-width="1" />
<circle cx="619.7" cy="192.8" r="1.90" fill="#f6c7ab" stroke="none" stroke-width="1" />
<circle cx="606.8" cy="193.2" r="1.90" fill="#f6c7ab" stroke="none" stroke-width="1" />
<circle cx="634.6" cy="171.9" r="1.90" fill="#f6c7ab" stroke="none" stroke-width="1" />
<rect x="617.5" y="179.7" width="3.4" height="3.4" fill="#f6c7ab" stroke="none" stroke-width="1" />
<circle cx="596.7" cy="201.5" r="1.90" fill="#f6c7ab" stroke="none" stroke-width="1" />
<circle cx="644.5" cy="137.9" r="1.90" fill="#f6c7ab" stroke="none" stroke-width="1" />
<circle cx="615.7" cy="179.3" r="1.90" fill="#f6c7ab" stroke="none" stroke-width="1" />
<path d="M597.5,199.4 L599.8,203.6 L595.2,203.6 Z" fill="#f6c7ab" stroke="none" stroke-width="1" />
<rect x="620.9" y="179.5" width="3.4" height="3.4" fill="#f6c7ab" stroke="none" stroke-width="1" />
<circle cx="617.7" cy="181.7" r="1.90" fill="#f6c7ab" stroke="none" stroke-width="1" />
<rect x="633.2" y="167.7" width="3.4" height="3.4" fill="#e98560" stroke="none" stroke-width="1" />
<circle cx="616.5" cy="173.4" r="1.90" fill="#e98560" stroke="none" stroke-width="1" />
<path d="M595.6,215.6 L598.0,219.8 L593.3,219.8 Z" fill="#e98560" stroke="none" stroke-width="1" />
<rect x="633.2" y="172.6" width="3.4" height="3.4" fill="#e98560" stroke="none" stroke-width="1" />
<path d="M612.4,193.8 L614.7,198.0 L610.1,198.0 Z" fill="#e98560" stroke="none" stroke-width="1" />
<path d="M624.1,169.1 L626.4,173.3 L621.7,173.3 Z" fill="#e98560" stroke="none" stroke-width="1" />
<path d="M603.9,219.3 L606.2,223.5 L601.6,223.5 Z" fill="#e98560" stroke="none" stroke-width="1" />
<circle cx="621.4" cy="184.2" r="1.90" fill="#e98560" stroke="none" stroke-width="1" />
<path d="M630.8,170.7 L633.1,174.9 L628.5,174.9 Z" fill="#e98560" stroke="none" stroke-width="1" />
<rect x="632.2" y="166.4" width="3.4" height="3.4" fill="#e98560" stroke="none" stroke-width="1" />
<rect x="635.8" y="160.3" width="3.4" height="3.4" fill="#e98560" stroke="none" stroke-width="1" />
<circle cx="621.8" cy="178.0" r="1.90" fill="#e98560" stroke="none" stroke-width="1" />
<rect x="634.5" y="165.7" width="3.4" height="3.4" fill="#e98560" stroke="none" stroke-width="1" />
<rect x="645.1" y="149.0" width="3.4" height="3.4" fill="#e98560" stroke="none" stroke-width="1" />
<rect x="624.0" y="174.9" width="3.4" height="3.4" fill="#e98560" stroke="none" stroke-width="1" />
<circle cx="606.3" cy="198.1" r="1.90" fill="#e98560" stroke="none" stroke-width="1" />
<path d="M633.5,164.6 L635.8,168.8 L631.2,168.8 Z" fill="#e98560" stroke="none" stroke-width="1" />
<path d="M630.5,183.9 L632.8,188.1 L628.2,188.1 Z" fill="#e98560" stroke="none" stroke-width="1" />
<circle cx="616.2" cy="180.3" r="1.90" fill="#e98560" stroke="none" stroke-width="1" />
<path d="M635.8,168.5 L638.1,172.7 L633.5,172.7 Z" fill="#e98560" stroke="none" stroke-width="1" />
<rect x="616.1" y="166.5" width="3.4" height="3.4" fill="#e98560" stroke="none" stroke-width="1" />
<rect x="627.6" y="167.6" width="3.4" height="3.4" fill="#e98560" stroke="none" stroke-width="1" />
<rect x="607.0" y="208.1" width="3.4" height="3.4" fill="#e98560" stroke="none" stroke-width="1" />
<rect x="594.6" y="221.0" width="3.4" height="3.4" fill="#e98560" stroke="none" stroke-width="1" />
<rect x="617.7" y="180.9" width="3.4" height="3.4" fill="#e98560" stroke="none" stroke-width="1" />
<path d="M621.4,192.0 L623.7,196.2 L619.1,196.2 Z" fill="#e98560" stroke="none" stroke-width="1" />
<circle cx="611.0" cy="219.6" r="1.90" fill="#e98560" stroke="none" stroke-width="1" />
<path d="M606.3,206.1 L608.6,210.3 L604.0,210.3 Z" fill="#e98560" stroke="none" stroke-width="1" />
<rect x="606.9" y="196.3" width="3.4" height="3.4" fill="#e98560" stroke="none" stroke-width="1" />
<circle cx="641.8" cy="198.9" r="1.90" fill="#e98560" stroke="none" stroke-width="1" />
<path d="M599.0,197.5 L601.3,201.7 L596.7,201.7 Z" fill="#e98560" stroke="none" stroke-width="1" />
<path d="M591.4,205.9 L593.7,210.1 L589.1,210.1 Z" fill="#e98560" stroke="none" stroke-width="1" />
<circle cx="627.2" cy="193.4" r="1.90" fill="#e98560" stroke="none" stroke-width="1" />
<circle cx="607.8" cy="216.0" r="1.90" fill="#e98560" stroke="none" stroke-width="1" />
<rect x="621.8" y="214.0" width="3.4" height="3.4" fill="#e98560" stroke="none" stroke-width="1" />
<circle cx="613.4" cy="198.2" r="1.90" fill="#e98560" stroke="none" stroke-width="1" />
<rect x="611.2" y="196.2" width="3.4" height="3.4" fill="#e98560" stroke="none" stroke-width="1" />
<circle cx="611.2" cy="201.8" r="1.90" fill="#e98560" stroke="none" stroke-width="1" />
<path d="M637.5,154.1 L639.8,158.3 L635.2,158.3 Z" fill="#e98560" stroke="none" stroke-width="1" />
<circle cx="615.0" cy="197.8" r="1.90" fill="#e98560" stroke="none" stroke-width="1" />
<circle cx="594.7" cy="214.9" r="1.90" fill="#e98560" stroke="none" stroke-width="1" />
<circle cx="607.7" cy="200.3" r="1.90" fill="#e98560" stroke="none" stroke-width="1" />
<path d="M567.5,277.3 L569.8,281.5 L565.2,281.5 Z" fill="#e98560" stroke="none" stroke-width="1" />
<circle cx="617.2" cy="182.9" r="1.90" fill="#e98560" stroke="none" stroke-width="1" />
<circle cx="618.6" cy="210.5" r="1.90" fill="#e98560" stroke="none" stroke-width="1" />
<circle cx="619.0" cy="235.5" r="1.90" fill="#e98560" stroke="none" stroke-width="1" />
<circle cx="632.2" cy="181.2" r="1.90" fill="#e98560" stroke="none" stroke-width="1" />
<circle cx="626.6" cy="186.8" r="1.90" fill="#e98560" stroke="none" stroke-width="1" />
<rect x="621.7" y="177.6" width="3.4" height="3.4" fill="#e98560" stroke="none" stroke-width="1" />
<path d="M627.0,182.9 L629.3,187.1 L624.7,187.1 Z" fill="#e98560" stroke="none" stroke-width="1" />
<circle cx="625.5" cy="172.9" r="1.90" fill="#e98560" stroke="none" stroke-width="1" />
<circle cx="633.0" cy="165.2" r="1.90" fill="#e98560" stroke="none" stroke-width="1" />
<rect x="644.0" y="162.0" width="3.4" height="3.4" fill="#e98560" stroke="none" stroke-width="1" />
<path d="M626.7,175.6 L629.0,179.8 L624.4,179.8 Z" fill="#e98560" stroke="none" stroke-width="1" />
<circle cx="627.1" cy="170.8" r="1.90" fill="#e98560" stroke="none" stroke-width="1" />
<path d="M625.2,180.2 L627.5,184.4 L622.9,184.4 Z" fill="#e98560" stroke="none" stroke-width="1" />
<path d="M641.5,156.3 L643.8,160.5 L639.1,160.5 Z" fill="#e98560" stroke="none" stroke-width="1" />
<rect x="655.4" y="131.7" width="3.4" height="3.4" fill="#e98560" stroke="none" stroke-width="1" />
<rect x="606.9" y="178.0" width="3.4" height="3.4" fill="#e98560" stroke="none" stroke-width="1" />
<path d="M604.3,230.3 L606.6,234.5 L601.9,234.5 Z" fill="#e98560" stroke="none" stroke-width="1" />
<rect x="612.4" y="204.6" width="3.4" height="3.4" fill="#e98560" stroke="none" stroke-width="1" />
<circle cx="605.8" cy="208.4" r="1.90" fill="#e98560" stroke="none" stroke-width="1" />
<path d="M634.4,163.6 L636.7,167.8 L632.0,167.8 Z" fill="#e98560" stroke="none" stroke-width="1" />
<path d="M645.3,141.8 L647.6,146.0 L643.0,146.0 Z" fill="#e98560" stroke="none" stroke-width="1" />
<circle cx="616.8" cy="202.3" r="1.90" fill="#e98560" stroke="none" stroke-width="1" />
<path d="M620.9,189.1 L623.2,193.3 L618.6,193.3 Z" fill="#e98560" stroke="none" stroke-width="1" />
<path d="M623.5,175.8 L625.8,180.0 L621.2,180.0 Z" fill="#e98560" stroke="none" stroke-width="1" />
<rect x="626.0" y="182.2" width="3.4" height="3.4" fill="#e98560" stroke="none" stroke-width="1" />
<path d="M626.1,173.3 L628.4,177.5 L623.8,177.5 Z" fill="#e98560" stroke="none" stroke-width="1" />
<path d="M623.6,168.2 L625.9,172.4 L621.2,172.4 Z" fill="#e98560" stroke="none" stroke-width="1" />
<circle cx="627.0" cy="178.2" r="1.90" fill="#e98560" stroke="none" stroke-width="1" />
<rect x="632.1" y="171.1" width="3.4" height="3.4" fill="#e98560" stroke="none" stroke-width="1" />
<path d="M625.4,165.4 L627.7,169.6 L623.1,169.6 Z" fill="#e98560" stroke="none" stroke-width="1" />
<path d="M619.2,175.1 L621.5,179.3 L616.9,179.3 Z" fill="#e98560" stroke="none" stroke-width="1" />
<circle cx="620.8" cy="185.3" r="1.90" fill="#e98560" stroke="none" stroke-width="1" />
<path d="M616.0,184.8 L618.3,189.0 L613.7,189.0 Z" fill="#e98560" stroke="none" stroke-width="1" />
<rect x="600.0" y="210.9" width="3.4" height="3.4" fill="#e98560" stroke="none" stroke-width="1" />
<circle cx="637.2" cy="158.8" r="1.90" fill="#e98560" stroke="none" stroke-width="1" />
<rect x="630.9" y="165.4" width="3.4" height="3.4" fill="#e98560" stroke="none" stroke-width="1" />
<circle cx="604.8" cy="208.7" r="1.90" fill="#e98560" stroke="none" stroke-width="1" />
<circle cx="610.4" cy="219.3" r="1.90" fill="#e98560" stroke="none" stroke-width="1" />
<rect x="609.0" y="192.2" width="3.4" height="3.4" fill="#e98560" stroke="none" stroke-width="1" />
<path d="M635.2,176.8 L637.6,181.0 L632.9,181.0 Z" fill="#e98560" stroke="none" stroke-width="1" />
<circle cx="613.2" cy="190.3" r="1.90" fill="#e98560" stroke="none" stroke-width="1" />
<path d="M626.8,175.0 L629.1,179.2 L624.5,179.2 Z" fill="#e98560" stroke="none" stroke-width="1" />
<rect x="627.9" y="190.5" width="3.4" height="3.4" fill="#e98560" stroke="none" stroke-width="1" />
<path d="M624.3,178.4 L626.6,182.6 L622.0,182.6 Z" fill="#e98560" stroke="none" stroke-width="1" />
<rect x="654.8" y="142.1" width="3.4" height="3.4" fill="#e98560" stroke="none" stroke-width="1" />
<rect x="612.5" y="203.0" width="3.4" height="3.4" fill="#e98560" stroke="none" stroke-width="1" />
<circle cx="629.9" cy="185.9" r="1.90" fill="#e98560" stroke="none" stroke-width="1" />
<path d="M614.9,186.4 L617.3,190.6 L612.6,190.6 Z" fill="#e98560" stroke="none" stroke-width="1" />
<path d="M670.5,153.1 L672.8,157.3 L668.2,157.3 Z" fill="#e98560" stroke="none" stroke-width="1" />
<circle cx="607.5" cy="193.8" r="1.90" fill="#e98560" stroke="none" stroke-width="1" />
<rect x="606.3" y="194.4" width="3.4" height="3.4" fill="#e98560" stroke="none" stroke-width="1" />
<path d="M623.4,167.1 L625.7,171.3 L621.1,171.3 Z" fill="#e98560" stroke="none" stroke-width="1" />
<path d="M615.7,174.2 L618.0,178.4 L613.4,178.4 Z" fill="#e98560" stroke="none" stroke-width="1" />
<circle cx="583.0" cy="221.4" r="1.90" fill="#e98560" stroke="none" stroke-width="1" />
<circle cx="608.3" cy="201.3" r="1.90" fill="#e98560" stroke="none" stroke-width="1" />
<rect x="627.7" y="205.9" width="3.4" height="3.4" fill="#e98560" stroke="none" stroke-width="1" />
<rect x="607.0" y="197.3" width="3.4" height="3.4" fill="#e98560" stroke="none" stroke-width="1" />
<circle cx="644.4" cy="177.0" r="1.90" fill="#e98560" stroke="none" stroke-width="1" />
<path d="M623.8,182.0 L626.1,186.2 L621.5,186.2 Z" fill="#e98560" stroke="none" stroke-width="1" />
<circle cx="635.9" cy="166.5" r="1.90" fill="#e98560" stroke="none" stroke-width="1" />
<circle cx="593.0" cy="214.6" r="1.90" fill="#e98560" stroke="none" stroke-width="1" />
<rect x="611.7" y="186.5" width="3.4" height="3.4" fill="#e98560" stroke="none" stroke-width="1" />
<path d="M644.4,143.8 L646.7,148.0 L642.1,148.0 Z" fill="#e98560" stroke="none" stroke-width="1" />
<circle cx="633.9" cy="145.6" r="1.90" fill="#e98560" stroke="none" stroke-width="1" />
<path d="M607.8,200.1 L610.1,204.3 L605.5,204.3 Z" fill="#e98560" stroke="none" stroke-width="1" />
<circle cx="614.6" cy="195.6" r="1.90" fill="#e98560" stroke="none" stroke-width="1" />
<path d="M612.5,184.7 L614.8,188.9 L610.2,188.9 Z" fill="#e98560" stroke="none" stroke-width="1" />
<path d="M603.9,227.5 L606.2,231.7 L601.5,231.7 Z" fill="#e98560" stroke="none" stroke-width="1" />
<rect x="622.6" y="181.0" width="3.4" height="3.4" fill="#e98560" stroke="none" stroke-width="1" />
<rect x="609.5" y="180.1" width="3.4" height="3.4" fill="#e98560" stroke="none" stroke-width="1" />
<circle cx="614.0" cy="186.8" r="1.90" fill="#e98560" stroke="none" stroke-width="1" />
<path d="M606.0,199.5 L608.3,203.7 L603.7,203.7 Z" fill="#e98560" stroke="none" stroke-width="1" />
<rect x="559.2" y="242.0" width="3.4" height="3.4" fill="#e98560" stroke="none" stroke-width="1" />
<rect x="614.1" y="183.5" width="3.4" height="3.4" fill="#e98560" stroke="none" stroke-width="1" />
<rect x="612.7" y="184.8" width="3.4" height="3.4" fill="#e98560" stroke="none" stroke-width="1" />
<path d="M633.7,179.2 L636.0,183.4 L631.4,183.4 Z" fill="#e98560" stroke="none" stroke-width="1" />
<path d="M627.4,173.2 L629.7,177.4 L625.1,177.4 Z" fill="#e98560" stroke="none" stroke-width="1" />
<path d="M633.1,185.7 L635.4,189.9 L630.8,189.9 Z" fill="#e98560" stroke="none" stroke-width="1" />
<circle cx="613.1" cy="189.1" r="1.90" fill="#e98560" stroke="none" stroke-width="1" />
<circle cx="614.4" cy="187.9" r="1.90" fill="#e98560" stroke="none" stroke-width="1" />
<rect x="610.2" y="179.0" width="3.4" height="3.4" fill="#e98560" stroke="none" stroke-width="1" />
<path d="M611.2,161.0 L613.5,165.2 L608.9,165.2 Z" fill="#e98560" stroke="none" stroke-width="1" />
<rect x="608.4" y="201.5" width="3.4" height="3.4" fill="#e98560" stroke="none" stroke-width="1" />
<circle cx="618.3" cy="197.8" r="1.90" fill="#e98560" stroke="none" stroke-width="1" />
<path d="M620.7,182.2 L623.0,186.4 L618.4,186.4 Z" fill="#e98560" stroke="none" stroke-width="1" />
<circle cx="612.5" cy="183.9" r="1.90" fill="#e98560" stroke="none" stroke-width="1" />
<circle cx="624.5" cy="177.2" r="1.90" fill="#e98560" stroke="none" stroke-width="1" />
<circle cx="611.6" cy="188.5" r="1.90" fill="#e98560" stroke="none" stroke-width="1" />
<circle cx="595.5" cy="206.7" r="1.90" fill="#e98560" stroke="none" stroke-width="1" />
<rect x="632.1" y="170.0" width="3.4" height="3.4" fill="#e98560" stroke="none" stroke-width="1" />
<rect x="625.2" y="173.1" width="3.4" height="3.4" fill="#e98560" stroke="none" stroke-width="1" />
<path d="M594.3,217.9 L596.6,222.1 L592.0,222.1 Z" fill="#e98560" stroke="none" stroke-width="1" />
<circle cx="618.7" cy="182.7" r="1.90" fill="#e98560" stroke="none" stroke-width="1" />
<path d="M638.8,189.8 L641.1,194.0 L636.5,194.0 Z" fill="#e98560" stroke="none" stroke-width="1" />
<path d="M629.9,173.8 L632.2,178.0 L627.6,178.0 Z" fill="#e98560" stroke="none" stroke-width="1" />
<path d="M601.8,202.4 L604.1,206.6 L599.5,206.6 Z" fill="#e98560" stroke="none" stroke-width="1" />
<rect x="637.3" y="154.1" width="3.4" height="3.4" fill="#e98560" stroke="none" stroke-width="1" />
<rect x="619.2" y="181.2" width="3.4" height="3.4" fill="#e98560" stroke="none" stroke-width="1" />
<path d="M611.6,183.4 L613.9,187.6 L609.3,187.6 Z" fill="#e98560" stroke="none" stroke-width="1" />
<rect x="603.5" y="196.9" width="3.4" height="3.4" fill="#e98560" stroke="none" stroke-width="1" />
<circle cx="634.2" cy="159.3" r="1.90" fill="#e98560" stroke="none" stroke-width="1" />
<rect x="617.1" y="190.2" width="3.4" height="3.4" fill="#e98560" stroke="none" stroke-width="1" />
<path d="M618.5,182.9 L620.9,187.1 L616.2,187.1 Z" fill="#e98560" stroke="none" stroke-width="1" />
<rect x="605.2" y="189.3" width="3.4" height="3.4" fill="#e98560" stroke="none" stroke-width="1" />
<rect x="627.8" y="170.8" width="3.4" height="3.4" fill="#e98560" stroke="none" stroke-width="1" />
<rect x="605.6" y="195.1" width="3.4" height="3.4" fill="#e98560" stroke="none" stroke-width="1" />
<circle cx="630.9" cy="168.8" r="1.90" fill="#e98560" stroke="none" stroke-width="1" />
<path d="M642.4,173.6 L644.7,177.8 L640.1,177.8 Z" fill="#e98560" stroke="none" stroke-width="1" />
<path d="M618.2,180.7 L620.5,184.9 L615.9,184.9 Z" fill="#e98560" stroke="none" stroke-width="1" />
<circle cx="624.0" cy="184.0" r="1.90" fill="#e98560" stroke="none" stroke-width="1" />
<path d="M648.0,152.7 L650.3,156.9 L645.7,156.9 Z" fill="#e98560" stroke="none" stroke-width="1" />
<path d="M638.2,153.0 L640.5,157.2 L635.9,157.2 Z" fill="#e98560" stroke="none" stroke-width="1" />
<rect x="615.6" y="193.5" width="3.4" height="3.4" fill="#e98560" stroke="none" stroke-width="1" />
<path d="M628.2,183.6 L630.5,187.8 L625.9,187.8 Z" fill="#e98560" stroke="none" stroke-width="1" />
<path d="M631.5,165.0 L633.8,169.2 L629.1,169.2 Z" fill="#e98560" stroke="none" stroke-width="1" />
<path d="M616.6,192.1 L618.9,196.3 L614.3,196.3 Z" fill="#e98560" stroke="none" stroke-width="1" />
<path d="M611.5,191.5 L613.8,195.7 L609.2,195.7 Z" fill="#e98560" stroke="none" stroke-width="1" />
<rect x="627.3" y="174.9" width="3.4" height="3.4" fill="#e98560" stroke="none" stroke-width="1" />
<rect x="631.3" y="177.5" width="3.4" height="3.4" fill="#e98560" stroke="none" stroke-width="1" />
<rect x="631.6" y="157.2" width="3.4" height="3.4" fill="#e98560" stroke="none" stroke-width="1" />
<path d="M621.2,208.9 L623.5,213.1 L618.9,213.1 Z" fill="#e98560" stroke="none" stroke-width="1" />
<rect x="610.7" y="200.0" width="3.4" height="3.4" fill="#e98560" stroke="none" stroke-width="1" />
<rect x="605.6" y="188.2" width="3.4" height="3.4" fill="#e98560" stroke="none" stroke-width="1" />
<circle cx="619.2" cy="173.4" r="1.90" fill="#e98560" stroke="none" stroke-width="1" />
<rect x="626.3" y="175.7" width="3.4" height="3.4" fill="#e98560" stroke="none" stroke-width="1" />
<rect x="615.2" y="215.7" width="3.4" height="3.4" fill="#e98560" stroke="none" stroke-width="1" />
<path d="M630.3,172.3 L632.7,176.5 L628.0,176.5 Z" fill="#e98560" stroke="none" stroke-width="1" />
<circle cx="625.2" cy="181.4" r="1.90" fill="#e98560" stroke="none" stroke-width="1" />
<rect x="633.5" y="169.2" width="3.4" height="3.4" fill="#e98560" stroke="none" stroke-width="1" />
<rect x="655.4" y="145.4" width="3.4" height="3.4" fill="#e98560" stroke="none" stroke-width="1" />
<rect x="634.5" y="160.8" width="3.4" height="3.4" fill="#e98560" stroke="none" stroke-width="1" />
<rect x="614.1" y="198.4" width="3.4" height="3.4" fill="#e98560" stroke="none" stroke-width="1" />
<rect x="626.0" y="172.2" width="3.4" height="3.4" fill="#e98560" stroke="none" stroke-width="1" />
<rect x="603.5" y="199.1" width="3.4" height="3.4" fill="#e98560" stroke="none" stroke-width="1" />
<circle cx="645.8" cy="147.2" r="1.90" fill="#e98560" stroke="none" stroke-width="1" />
<circle cx="612.7" cy="211.2" r="1.90" fill="#e98560" stroke="none" stroke-width="1" />
<path d="M656.7,185.7 L659.0,189.9 L654.4,189.9 Z" fill="#e98560" stroke="none" stroke-width="1" />
<rect x="632.7" y="192.9" width="3.4" height="3.4" fill="#e98560" stroke="none" stroke-width="1" />
<circle cx="618.7" cy="182.1" r="1.90" fill="#e98560" stroke="none" stroke-width="1" />
<path d="M624.4,194.1 L626.7,198.3 L622.1,198.3 Z" fill="#e98560" stroke="none" stroke-width="1" />
<circle cx="623.5" cy="197.5" r="1.90" fill="#e98560" stroke="none" stroke-width="1" />
<rect x="614.2" y="196.9" width="3.4" height="3.4" fill="#e98560" stroke="none" stroke-width="1" />
<circle cx="618.3" cy="203.0" r="1.90" fill="#e98560" stroke="none" stroke-width="1" />
<path d="M646.5,155.3 L648.8,159.5 L644.2,159.5 Z" fill="#e98560" stroke="none" stroke-width="1" />
<circle cx="624.4" cy="172.4" r="1.90" fill="#e98560" stroke="none" stroke-width="1" />
<path d="M620.6,171.4 L622.9,175.6 L618.3,175.6 Z" fill="#e98560" stroke="none" stroke-width="1" />
<path d="M609.8,195.0 L612.1,199.2 L607.5,199.2 Z" fill="#e98560" stroke="none" stroke-width="1" />
<path d="M625.3,172.6 L627.6,176.8 L623.0,176.8 Z" fill="#e98560" stroke="none" stroke-width="1" />
<rect x="625.6" y="157.8" width="3.4" height="3.4" fill="#e98560" stroke="none" stroke-width="1" />
<path d="M616.2,192.0 L618.5,196.2 L613.8,196.2 Z" fill="#e98560" stroke="none" stroke-width="1" />
<circle cx="619.4" cy="186.5" r="1.90" fill="#e98560" stroke="none" stroke-width="1" />
<rect x="616.5" y="178.7" width="3.4" height="3.4" fill="#e98560" stroke="none" stroke-width="1" />
<rect x="635.6" y="176.9" width="3.4" height="3.4" fill="#e98560" stroke="none" stroke-width="1" />
<path d="M622.8,185.4 L625.1,189.6 L620.5,189.6 Z" fill="#e98560" stroke="none" stroke-width="1" />
<circle cx="615.2" cy="192.0" r="1.90" fill="#e98560" stroke="none" stroke-width="1" />
<circle cx="655.9" cy="157.8" r="1.90" fill="#e98560" stroke="none" stroke-width="1" />
<circle cx="604.8" cy="196.3" r="1.90" fill="#e98560" stroke="none" stroke-width="1" />
<rect x="612.4" y="185.6" width="3.4" height="3.4" fill="#e98560" stroke="none" stroke-width="1" />
<circle cx="654.3" cy="137.9" r="1.90" fill="#e98560" stroke="none" stroke-width="1" />
<circle cx="592.2" cy="231.5" r="1.90" fill="#e98560" stroke="none" stroke-width="1" />
<circle cx="627.5" cy="172.5" r="1.90" fill="#e98560" stroke="none" stroke-width="1" />
<circle cx="632.9" cy="173.8" r="1.90" fill="#e98560" stroke="none" stroke-width="1" />
<circle cx="625.6" cy="207.4" r="1.90" fill="#e98560" stroke="none" stroke-width="1" />
<rect x="633.3" y="157.7" width="3.4" height="3.4" fill="#e98560" stroke="none" stroke-width="1" />
<rect x="634.9" y="172.6" width="3.4" height="3.4" fill="#e98560" stroke="none" stroke-width="1" />
<circle cx="629.6" cy="170.1" r="1.90" fill="#e98560" stroke="none" stroke-width="1" />
<circle cx="643.0" cy="160.8" r="1.90" fill="#e98560" stroke="none" stroke-width="1" />
<rect x="610.4" y="198.2" width="3.4" height="3.4" fill="#e98560" stroke="none" stroke-width="1" />
<rect x="596.3" y="210.0" width="3.4" height="3.4" fill="#e98560" stroke="none" stroke-width="1" />
<circle cx="621.5" cy="180.0" r="1.90" fill="#e98560" stroke="none" stroke-width="1" />
<rect x="630.3" y="166.9" width="3.4" height="3.4" fill="#e98560" stroke="none" stroke-width="1" />
<rect x="612.5" y="190.0" width="3.4" height="3.4" fill="#e98560" stroke="none" stroke-width="1" />
<rect x="632.2" y="162.3" width="3.4" height="3.4" fill="#e98560" stroke="none" stroke-width="1" />
<path d="M604.6,197.1 L606.9,201.3 L602.3,201.3 Z" fill="#e98560" stroke="none" stroke-width="1" />
<rect x="627.4" y="172.1" width="3.4" height="3.4" fill="#e98560" stroke="none" stroke-width="1" />
<circle cx="644.0" cy="156.3" r="1.90" fill="#e98560" stroke="none" stroke-width="1" />
<circle cx="621.1" cy="181.5" r="1.90" fill="#e98560" stroke="none" stroke-width="1" />
<path d="M624.8,177.7 L627.1,181.9 L622.5,181.9 Z" fill="#e98560" stroke="none" stroke-width="1" />
<path d="M610.7,212.1 L613.0,216.3 L608.4,216.3 Z" fill="#e98560" stroke="none" stroke-width="1" />
<path d="M640.3,174.1 L642.6,178.3 L637.9,178.3 Z" fill="#e98560" stroke="none" stroke-width="1" />
<path d="M631.7,177.9 L634.0,182.1 L629.4,182.1 Z" fill="#e98560" stroke="none" stroke-width="1" />
<rect x="612.1" y="195.2" width="3.4" height="3.4" fill="#e98560" stroke="none" stroke-width="1" />
<path d="M610.0,197.8 L612.3,202.0 L607.7,202.0 Z" fill="#e98560" stroke="none" stroke-width="1" />
<rect x="618.9" y="163.3" width="3.4" height="3.4" fill="#e98560" stroke="none" stroke-width="1" />
<circle cx="645.6" cy="162.6" r="1.90" fill="#e98560" stroke="none" stroke-width="1" />
<circle cx="605.4" cy="199.4" r="1.90" fill="#e98560" stroke="none" stroke-width="1" />
<path d="M632.4,171.5 L634.7,175.7 L630.1,175.7 Z" fill="#e98560" stroke="none" stroke-width="1" />
<circle cx="639.4" cy="147.3" r="1.90" fill="#e98560" stroke="none" stroke-width="1" />
<circle cx="621.2" cy="184.2" r="1.90" fill="#e98560" stroke="none" stroke-width="1" />
<path d="M592.2,213.3 L594.5,217.5 L589.9,217.5 Z" fill="#e98560" stroke="none" stroke-width="1" />
<path d="M614.3,199.7 L616.6,203.9 L612.0,203.9 Z" fill="#e98560" stroke="none" stroke-width="1" />
<circle cx="654.3" cy="153.6" r="1.90" fill="#b8163c" stroke="none" stroke-width="1" />
<circle cx="650.7" cy="171.4" r="1.90" fill="#b8163c" stroke="none" stroke-width="1" />
<circle cx="665.8" cy="142.9" r="1.90" fill="#b8163c" stroke="none" stroke-width="1" />
<path d="M661.0,142.0 L663.4,146.2 L658.7,146.2 Z" fill="#b8163c" stroke="none" stroke-width="1" />
<rect x="661.0" y="146.1" width="3.4" height="3.4" fill="#b8163c" stroke="none" stroke-width="1" />
<circle cx="665.7" cy="166.4" r="1.90" fill="#b8163c" stroke="none" stroke-width="1" />
<rect x="653.3" y="148.4" width="3.4" height="3.4" fill="#b8163c" stroke="none" stroke-width="1" />
<circle cx="656.3" cy="149.5" r="1.90" fill="#b8163c" stroke="none" stroke-width="1" />
<rect x="657.4" y="149.9" width="3.4" height="3.4" fill="#b8163c" stroke="none" stroke-width="1" />
<rect x="667.0" y="141.6" width="3.4" height="3.4" fill="#b8163c" stroke="none" stroke-width="1" />
<circle cx="660.7" cy="142.6" r="1.90" fill="#b8163c" stroke="none" stroke-width="1" />
<circle cx="663.3" cy="147.5" r="1.90" fill="#b8163c" stroke="none" stroke-width="1" />
<rect x="667.5" y="139.7" width="3.4" height="3.4" fill="#b8163c" stroke="none" stroke-width="1" />
<rect x="650.3" y="156.9" width="3.4" height="3.4" fill="#b8163c" stroke="none" stroke-width="1" />
<path d="M671.5,144.2 L673.8,148.4 L669.2,148.4 Z" fill="#b8163c" stroke="none" stroke-width="1" />
<circle cx="672.6" cy="138.1" r="1.90" fill="#b8163c" stroke="none" stroke-width="1" />
<rect x="652.3" y="154.1" width="3.4" height="3.4" fill="#b8163c" stroke="none" stroke-width="1" />
<circle cx="659.3" cy="148.7" r="1.90" fill="#b8163c" stroke="none" stroke-width="1" />
<circle cx="656.1" cy="147.8" r="1.90" fill="#b8163c" stroke="none" stroke-width="1" />
<path d="M649.3,156.4 L651.6,160.6 L646.9,160.6 Z" fill="#b8163c" stroke="none" stroke-width="1" />
<circle cx="660.2" cy="162.1" r="1.90" fill="#b8163c" stroke="none" stroke-width="1" />
<rect x="644.2" y="155.5" width="3.4" height="3.4" fill="#b8163c" stroke="none" stroke-width="1" />
<path d="M662.7,148.5 L665.1,152.7 L660.4,152.7 Z" fill="#b8163c" stroke="none" stroke-width="1" />
<path d="M640.7,184.7 L643.0,188.9 L638.4,188.9 Z" fill="#b8163c" stroke="none" stroke-width="1" />
<circle cx="656.2" cy="158.8" r="1.90" fill="#b8163c" stroke="none" stroke-width="1" />
<rect x="663.6" y="142.8" width="3.4" height="3.4" fill="#b8163c" stroke="none" stroke-width="1" />
<circle cx="653.3" cy="171.4" r="1.90" fill="#b8163c" stroke="none" stroke-width="1" />
<circle cx="660.1" cy="141.4" r="1.90" fill="#b8163c" stroke="none" stroke-width="1" />
<rect x="670.0" y="157.4" width="3.4" height="3.4" fill="#b8163c" stroke="none" stroke-width="1" />
<path d="M656.8,147.0 L659.2,151.2 L654.5,151.2 Z" fill="#b8163c" stroke="none" stroke-width="1" />
<circle cx="657.9" cy="169.4" r="1.90" fill="#b8163c" stroke="none" stroke-width="1" />
<rect x="664.2" y="141.4" width="3.4" height="3.4" fill="#b8163c" stroke="none" stroke-width="1" />
<path d="M657.6,146.5 L659.9,150.7 L655.3,150.7 Z" fill="#b8163c" stroke="none" stroke-width="1" />
<path d="M663.3,142.5 L665.7,146.7 L661.0,146.7 Z" fill="#b8163c" stroke="none" stroke-width="1" />
<rect x="656.0" y="153.3" width="3.4" height="3.4" fill="#b8163c" stroke="none" stroke-width="1" />
<rect x="665.5" y="141.8" width="3.4" height="3.4" fill="#b8163c" stroke="none" stroke-width="1" />
<circle cx="642.8" cy="163.2" r="1.90" fill="#b8163c" stroke="none" stroke-width="1" />
<circle cx="668.2" cy="129.1" r="1.90" fill="#b8163c" stroke="none" stroke-width="1" />
<rect x="655.5" y="148.1" width="3.4" height="3.4" fill="#b8163c" stroke="none" stroke-width="1" />
<circle cx="665.4" cy="143.9" r="1.90" fill="#b8163c" stroke="none" stroke-width="1" />
<circle cx="659.7" cy="151.4" r="1.90" fill="#b8163c" stroke="none" stroke-width="1" />
<circle cx="664.9" cy="143.8" r="1.90" fill="#b8163c" stroke="none" stroke-width="1" />
<rect x="659.3" y="144.2" width="3.4" height="3.4" fill="#b8163c" stroke="none" stroke-width="1" />
<rect x="657.0" y="145.1" width="3.4" height="3.4" fill="#b8163c" stroke="none" stroke-width="1" />
<circle cx="662.3" cy="148.0" r="1.90" fill="#b8163c" stroke="none" stroke-width="1" />
<rect x="649.2" y="191.2" width="3.4" height="3.4" fill="#b8163c" stroke="none" stroke-width="1" />
<path d="M657.5,147.2 L659.8,151.4 L655.2,151.4 Z" fill="#b8163c" stroke="none" stroke-width="1" />
<path d="M663.5,141.3 L665.9,145.5 L661.2,145.5 Z" fill="#b8163c" stroke="none" stroke-width="1" />
<rect x="656.9" y="148.0" width="3.4" height="3.4" fill="#b8163c" stroke="none" stroke-width="1" />
<rect x="652.3" y="148.9" width="3.4" height="3.4" fill="#b8163c" stroke="none" stroke-width="1" />
<rect x="663.1" y="138.8" width="3.4" height="3.4" fill="#b8163c" stroke="none" stroke-width="1" />
<circle cx="655.7" cy="150.1" r="1.90" fill="#b8163c" stroke="none" stroke-width="1" />
<path d="M660.9,135.9 L663.2,140.1 L658.6,140.1 Z" fill="#b8163c" stroke="none" stroke-width="1" />
<path d="M663.6,135.4 L665.9,139.6 L661.3,139.6 Z" fill="#b8163c" stroke="none" stroke-width="1" />
<path d="M658.3,139.9 L660.6,144.1 L656.0,144.1 Z" fill="#b8163c" stroke="none" stroke-width="1" />
<rect x="657.9" y="146.5" width="3.4" height="3.4" fill="#b8163c" stroke="none" stroke-width="1" />
<rect x="664.2" y="143.8" width="3.4" height="3.4" fill="#b8163c" stroke="none" stroke-width="1" />
<rect x="669.4" y="137.7" width="3.4" height="3.4" fill="#b8163c" stroke="none" stroke-width="1" />
<rect x="663.3" y="139.8" width="3.4" height="3.4" fill="#b8163c" stroke="none" stroke-width="1" />
<path d="M669.1,139.2 L671.4,143.4 L666.8,143.4 Z" fill="#b8163c" stroke="none" stroke-width="1" />
<circle cx="662.5" cy="141.3" r="1.90" fill="#b8163c" stroke="none" stroke-width="1" />
<rect x="644.6" y="158.1" width="3.4" height="3.4" fill="#b8163c" stroke="none" stroke-width="1" />
<path d="M653.1,144.1 L655.4,148.3 L650.8,148.3 Z" fill="#b8163c" stroke="none" stroke-width="1" />
<path d="M660.9,137.5 L663.2,141.7 L658.6,141.7 Z" fill="#b8163c" stroke="none" stroke-width="1" />
<path d="M657.1,136.1 L659.4,140.3 L654.8,140.3 Z" fill="#b8163c" stroke="none" stroke-width="1" />
<rect x="666.5" y="136.7" width="3.4" height="3.4" fill="#b8163c" stroke="none" stroke-width="1" />
<path d="M655.6,143.8 L657.9,148.0 L653.3,148.0 Z" fill="#b8163c" stroke="none" stroke-width="1" />
<rect x="659.5" y="149.6" width="3.4" height="3.4" fill="#b8163c" stroke="none" stroke-width="1" />
<circle cx="659.0" cy="151.3" r="1.90" fill="#b8163c" stroke="none" stroke-width="1" />
<rect x="666.0" y="133.5" width="3.4" height="3.4" fill="#b8163c" stroke="none" stroke-width="1" />
<path d="M660.2,144.0 L662.5,148.2 L657.9,148.2 Z" fill="#b8163c" stroke="none" stroke-width="1" />
<rect x="653.3" y="149.6" width="3.4" height="3.4" fill="#b8163c" stroke="none" stroke-width="1" />
<path d="M663.1,146.5 L665.4,150.7 L660.8,150.7 Z" fill="#b8163c" stroke="none" stroke-width="1" />
<path d="M655.1,180.0 L657.4,184.2 L652.8,184.2 Z" fill="#b8163c" stroke="none" stroke-width="1" />
<path d="M644.5,158.1 L646.8,162.3 L642.2,162.3 Z" fill="#b8163c" stroke="none" stroke-width="1" />
<path d="M646.1,171.8 L648.4,176.0 L643.8,176.0 Z" fill="#b8163c" stroke="none" stroke-width="1" />
<circle cx="658.1" cy="148.7" r="1.90" fill="#b8163c" stroke="none" stroke-width="1" />
<rect x="656.4" y="144.0" width="3.4" height="3.4" fill="#b8163c" stroke="none" stroke-width="1" />
<path d="M654.5,148.7 L656.8,152.9 L652.2,152.9 Z" fill="#b8163c" stroke="none" stroke-width="1" />
<rect x="662.5" y="138.8" width="3.4" height="3.4" fill="#b8163c" stroke="none" stroke-width="1" />
<circle cx="661.4" cy="142.9" r="1.90" fill="#b8163c" stroke="none" stroke-width="1" />
<circle cx="660.5" cy="147.0" r="1.90" fill="#b8163c" stroke="none" stroke-width="1" />
<path d="M640.2,186.8 L642.5,191.0 L637.9,191.0 Z" fill="#b8163c" stroke="none" stroke-width="1" />
<rect x="662.1" y="144.3" width="3.4" height="3.4" fill="#b8163c" stroke="none" stroke-width="1" />
<path d="M657.0,139.4 L659.3,143.6 L654.6,143.6 Z" fill="#b8163c" stroke="none" stroke-width="1" />
<rect x="659.3" y="145.1" width="3.4" height="3.4" fill="#b8163c" stroke="none" stroke-width="1" />
<rect x="658.4" y="139.9" width="3.4" height="3.4" fill="#b8163c" stroke="none" stroke-width="1" />
<path d="M662.7,136.2 L665.0,140.4 L660.4,140.4 Z" fill="#b8163c" stroke="none" stroke-width="1" />
<circle cx="664.1" cy="152.2" r="1.90" fill="#b8163c" stroke="none" stroke-width="1" />
<path d="M668.6,140.9 L670.9,145.1 L666.3,145.1 Z" fill="#b8163c" stroke="none" stroke-width="1" />
<path d="M657.3,148.5 L659.6,152.7 L655.0,152.7 Z" fill="#b8163c" stroke="none" stroke-width="1" />
<circle cx="664.2" cy="145.7" r="1.90" fill="#b8163c" stroke="none" stroke-width="1" />
<rect x="651.4" y="149.8" width="3.4" height="3.4" fill="#b8163c" stroke="none" stroke-width="1" />
<rect x="669.6" y="133.4" width="3.4" height="3.4" fill="#b8163c" stroke="none" stroke-width="1" />
<path d="M666.3,138.8 L668.6,143.0 L664.0,143.0 Z" fill="#b8163c" stroke="none" stroke-width="1" />
<circle cx="639.4" cy="200.8" r="1.90" fill="#b8163c" stroke="none" stroke-width="1" />
<rect x="649.1" y="147.2" width="3.4" height="3.4" fill="#b8163c" stroke="none" stroke-width="1" />
<path d="M660.2,137.7 L662.5,141.9 L657.9,141.9 Z" fill="#b8163c" stroke="none" stroke-width="1" />
<circle cx="670.5" cy="136.3" r="1.90" fill="#b8163c" stroke="none" stroke-width="1" />
<path d="M658.1,142.3 L660.4,146.5 L655.8,146.5 Z" fill="#b8163c" stroke="none" stroke-width="1" />
<path d="M661.1,142.6 L663.4,146.8 L658.8,146.8 Z" fill="#b8163c" stroke="none" stroke-width="1" />
<circle cx="657.7" cy="150.2" r="1.90" fill="#b8163c" stroke="none" stroke-width="1" />
<rect x="653.1" y="147.8" width="3.4" height="3.4" fill="#b8163c" stroke="none" stroke-width="1" />
<circle cx="663.2" cy="148.6" r="1.90" fill="#b8163c" stroke="none" stroke-width="1" />
<path d="M656.6,144.4 L659.0,148.6 L654.3,148.6 Z" fill="#b8163c" stroke="none" stroke-width="1" />
<circle cx="654.5" cy="148.8" r="1.90" fill="#b8163c" stroke="none" stroke-width="1" />
<rect x="658.7" y="141.2" width="3.4" height="3.4" fill="#b8163c" stroke="none" stroke-width="1" />
<circle cx="663.6" cy="149.6" r="1.90" fill="#b8163c" stroke="none" stroke-width="1" />
<path d="M652.9,142.3 L655.2,146.5 L650.6,146.5 Z" fill="#b8163c" stroke="none" stroke-width="1" />
<path d="M658.1,152.1 L660.4,156.3 L655.8,156.3 Z" fill="#b8163c" stroke="none" stroke-width="1" />
<rect x="655.7" y="146.9" width="3.4" height="3.4" fill="#b8163c" stroke="none" stroke-width="1" />
<circle cx="675.8" cy="171.7" r="1.90" fill="#b8163c" stroke="none" stroke-width="1" />
<rect x="654.8" y="148.4" width="3.4" height="3.4" fill="#b8163c" stroke="none" stroke-width="1" />
<circle cx="657.3" cy="140.8" r="1.90" fill="#b8163c" stroke="none" stroke-width="1" />
<path d="M658.7,145.5 L661.0,149.7 L656.4,149.7 Z" fill="#b8163c" stroke="none" stroke-width="1" />
<path d="M659.3,151.5 L661.7,155.7 L657.0,155.7 Z" fill="#b8163c" stroke="none" stroke-width="1" />
<rect x="643.9" y="190.3" width="3.4" height="3.4" fill="#b8163c" stroke="none" stroke-width="1" />
<rect x="662.6" y="137.5" width="3.4" height="3.4" fill="#b8163c" stroke="none" stroke-width="1" />
<path d="M648.3,152.8 L650.6,157.0 L646.0,157.0 Z" fill="#b8163c" stroke="none" stroke-width="1" />
<circle cx="673.9" cy="136.8" r="1.90" fill="#b8163c" stroke="none" stroke-width="1" />
<circle cx="662.9" cy="138.3" r="1.90" fill="#b8163c" stroke="none" stroke-width="1" />
<rect x="659.9" y="140.0" width="3.4" height="3.4" fill="#b8163c" stroke="none" stroke-width="1" />
<circle cx="646.3" cy="158.6" r="1.90" fill="#b8163c" stroke="none" stroke-width="1" />
<circle cx="664.9" cy="149.2" r="1.90" fill="#b8163c" stroke="none" stroke-width="1" />
<circle cx="656.4" cy="143.6" r="1.90" fill="#b8163c" stroke="none" stroke-width="1" />
<rect x="653.6" y="153.7" width="3.4" height="3.4" fill="#b8163c" stroke="none" stroke-width="1" />
<rect x="664.4" y="141.3" width="3.4" height="3.4" fill="#b8163c" stroke="none" stroke-width="1" />
<rect x="662.9" y="136.0" width="3.4" height="3.4" fill="#b8163c" stroke="none" stroke-width="1" />
<rect x="666.6" y="137.2" width="3.4" height="3.4" fill="#b8163c" stroke="none" stroke-width="1" />
<path d="M661.3,136.4 L663.6,140.6 L658.9,140.6 Z" fill="#b8163c" stroke="none" stroke-width="1" />
<path d="M660.5,144.6 L662.9,148.8 L658.2,148.8 Z" fill="#b8163c" stroke="none" stroke-width="1" />
<circle cx="671.9" cy="172.8" r="1.90" fill="#b8163c" stroke="none" stroke-width="1" />
<rect x="657.8" y="149.2" width="3.4" height="3.4" fill="#b8163c" stroke="none" stroke-width="1" />
<rect x="654.9" y="158.8" width="3.4" height="3.4" fill="#b8163c" stroke="none" stroke-width="1" />
<circle cx="656.7" cy="158.4" r="1.90" fill="#b8163c" stroke="none" stroke-width="1" />
<rect x="665.7" y="137.6" width="3.4" height="3.4" fill="#b8163c" stroke="none" stroke-width="1" />
<rect x="659.6" y="141.8" width="3.4" height="3.4" fill="#b8163c" stroke="none" stroke-width="1" />
<rect x="656.2" y="143.7" width="3.4" height="3.4" fill="#b8163c" stroke="none" stroke-width="1" />
<circle cx="656.6" cy="153.7" r="1.90" fill="#b8163c" stroke="none" stroke-width="1" />
<circle cx="651.9" cy="152.7" r="1.90" fill="#b8163c" stroke="none" stroke-width="1" />
<rect x="643.5" y="181.7" width="3.4" height="3.4" fill="#b8163c" stroke="none" stroke-width="1" />
<path d="M662.3,143.2 L664.7,147.4 L660.0,147.4 Z" fill="#b8163c" stroke="none" stroke-width="1" />
<circle cx="662.3" cy="140.4" r="1.90" fill="#b8163c" stroke="none" stroke-width="1" />
<circle cx="658.6" cy="190.1" r="1.90" fill="#b8163c" stroke="none" stroke-width="1" />
<circle cx="661.4" cy="170.4" r="1.90" fill="#b8163c" stroke="none" stroke-width="1" />
<rect x="660.1" y="137.4" width="3.4" height="3.4" fill="#b8163c" stroke="none" stroke-width="1" />
<circle cx="671.7" cy="135.5" r="1.90" fill="#b8163c" stroke="none" stroke-width="1" />
<path d="M658.0,147.3 L660.3,151.5 L655.7,151.5 Z" fill="#b8163c" stroke="none" stroke-width="1" />
<circle cx="664.2" cy="141.6" r="1.90" fill="#b8163c" stroke="none" stroke-width="1" />
<path d="M670.8,132.6 L673.1,136.8 L668.5,136.8 Z" fill="#b8163c" stroke="none" stroke-width="1" />
<path d="M665.6,135.4 L668.0,139.6 L663.3,139.6 Z" fill="#b8163c" stroke="none" stroke-width="1" />
<line x1="449.0" y1="362.8" x2="686.0" y2="121.5" stroke="#222" stroke-width="1.9" stroke-dasharray="5,3.2" stroke-linecap="butt"/>
<text x="541.0" y="337.2" font-size="12" fill="#3b3b3b"><tspan font-style="italic">R</tspan><tspan font-size="8" dy="-4.5">2</tspan><tspan dy="4.5"> = 0.92</tspan></text>
<text x="681.7" y="205.4" font-size="12.5" fill="#3b3b3b" textLength="49.0" lengthAdjust="spacingAndGlyphs">Promoter</text>
<text x="658.0" y="223.1" font-size="12" fill="#1f6db4" textLength="71.3" lengthAdjust="spacingAndGlyphs">None (<tspan font-style="italic">n</tspan> = 117)</text>
<text x="658.0" y="238.1" font-size="12" fill="#5fb2e2" textLength="90.4" lengthAdjust="spacingAndGlyphs">Minimal (<tspan font-style="italic">n</tspan> = 103)</text>
<text x="658.0" y="253.0" font-size="12" fill="#f6c7ab" textLength="75.4" lengthAdjust="spacingAndGlyphs">UBCp (<tspan font-style="italic">n</tspan> = 191)</text>
<text x="658.0" y="268.8" font-size="12" fill="#e98560" textLength="80.3" lengthAdjust="spacingAndGlyphs">Pgk1p (<tspan font-style="italic">n</tspan> = 234)</text>
<text x="658.0" y="284.3" font-size="12" fill="#b8163c" textLength="87.6" lengthAdjust="spacingAndGlyphs">EEF1A1p (<tspan font-style="italic">n</tspan> = 151)</text>
<text x="645.0" y="347.0" font-size="12" fill="#3b3b3b" textLength="44.4" lengthAdjust="spacingAndGlyphs" transform="rotate(-90 645.0 347.0)">Cell line</text>
<circle cx="654.5" cy="308.8" r="2.40" fill="#222" stroke="none" stroke-width="1" />
<path d="M654.5,322.5 L657.4,327.7 L651.6,327.7 Z" fill="#222" stroke="none" stroke-width="1" />
<rect x="652.5" y="340.3" width="4.0" height="4.0" fill="#222" stroke="none" stroke-width="1" />
<text x="663.2" y="313.4" font-size="12" fill="#3b3b3b" textLength="47.9" lengthAdjust="spacingAndGlyphs">HEK293T</text>
<text x="663.2" y="329.8" font-size="12" fill="#3b3b3b" textLength="36.2" lengthAdjust="spacingAndGlyphs">HepG2</text>
<text x="663.2" y="346.9" font-size="12" fill="#3b3b3b" textLength="26.1" lengthAdjust="spacingAndGlyphs">K562</text>
<text x="375.3" y="452.0" font-size="19.5" font-weight="bold" fill="#111" stroke="#111" stroke-width="0.9" stroke-linejoin="round">h</text>
<line x1="463.0" y1="463.1" x2="660.0" y2="463.1" stroke="#e2e2e2" stroke-width="1" stroke-linecap="butt"/>
<rect x="502.0" y="460.5" width="37.3" height="5.2" fill="#ebebeb" stroke="#dcdcdc" stroke-width="0.6" />
<rect x="545.0" y="460.5" width="79.0" height="5.2" fill="#ebebeb" stroke="#dcdcdc" stroke-width="0.6" />
<path d="M539.3,460.5 L543,463.1 L539.3,465.7" fill="none" stroke="#dcdcdc" stroke-width="0.6" />
<line x1="583.0" y1="463.0" x2="583.0" y2="476.0" stroke="#dddddd" stroke-width="0.8" stroke-linecap="butt"/>
<path d="M540,481.5 L542,482.3 L544,480.7 L546,482.3 L548,480.7 L550,482.3 L552,480.7 L554,482.3 L556,480.7 L558,482.3 L560,480.7 L562,482.3 L564,480.7 L566,482.3 L568,480.7 L570,482.3 L572,480.7 L574,482.3 L576,480.7 L578,482.3 L580,480.7 L582,482.3 L584,480.7 L586,482.3 L588,480.7 L590,482.3 L592,480.7 L594,482.3 L596,480.7 L598,482.3 L600,480.7 L602,482.3 L604,480.7 L606,482.3 L608,480.7 L610,482.3 L612,480.7 L614,482.3 L616,480.7 L618,482.3 L620,480.7 L622,482.3 L624,480.7 L626,482.3 L628,480.7 L630,482.3 L632,480.7 L634,482.3 L636,480.7 L638,482.3 L640,480.7 L642,482.3 L644,480.7 L646,482.3 L648,480.7 L650,482.3 L652,480.7 L654,482.3 L656,480.7 L658,482.3 L660,480.7" fill="none" stroke="#d6d6d6" stroke-width="0.8" />
<text x="434.5" y="467.5" font-size="12.5" fill="#3b3b3b" textLength="23.2" lengthAdjust="spacingAndGlyphs">oBC</text>
<text x="417.0" y="480.8" font-size="12.5" fill="#3b3b3b" textLength="40.7" lengthAdjust="spacingAndGlyphs">capture</text>
<rect x="473.6" y="453.2" width="21.0" height="36.2" fill="#fff" stroke="#4d6482" stroke-width="1.2" />
<line x1="474.0" y1="463.1" x2="494.0" y2="463.1" stroke="#333" stroke-width="0.9" stroke-linecap="butt"/>
<rect x="476.2" y="460.4" width="5.5" height="5.4" fill="#fff" stroke="#333" stroke-width="0.8" />
<path d="M481.7,460.4 L484,463.1 L481.7,465.8" fill="#fff" stroke="#333" stroke-width="0.8" />
<rect x="486.5" y="460.0" width="2.6" height="6.2" fill="#2a7fd0" stroke="#333" stroke-width="0.6" />
<line x1="487.5" y1="468.0" x2="487.5" y2="476.0" stroke="#888" stroke-width="0.8" stroke-linecap="butt"/>
<path d="M485.8,475 L487.5,478 L489.2,475 Z" fill="#888" stroke="none" stroke-width="1" />
<circle cx="487.8" cy="482.2" r="3.00" fill="#fff" stroke="#222" stroke-width="1.0" />
<circle cx="487.8" cy="482.2" r="2.00" fill="none" stroke="#3a90d8" stroke-width="1.0" />
<line x1="484.0" y1="489.4" x2="484.0" y2="504.0" stroke="#3d5a80" stroke-width="1.2" stroke-linecap="butt"/>
<path d="M481.2,502 L484,507.5 L486.8,502 Z" fill="#3d5a80" stroke="none" stroke-width="1" />
<line x1="432.0" y1="496.5" x2="432.0" y2="584.6" stroke="#999" stroke-width="1.4" stroke-linecap="butt"/>
<line x1="430.9" y1="584.1" x2="519.5" y2="584.1" stroke="#555" stroke-width="1.1" stroke-linecap="butt"/>
<line x1="427.4" y1="580.4" x2="431.4" y2="580.4" stroke="#555" stroke-width="1" stroke-linecap="butt"/>
<line x1="435.3" y1="584.1" x2="435.3" y2="588.1" stroke="#555" stroke-width="1" stroke-linecap="butt"/>
<line x1="427.4" y1="560.4" x2="431.4" y2="560.4" stroke="#555" stroke-width="1" stroke-linecap="butt"/>
<line x1="455.3" y1="584.1" x2="455.3" y2="588.1" stroke="#555" stroke-width="1" stroke-linecap="butt"/>
<line x1="427.4" y1="540.4" x2="431.4" y2="540.4" stroke="#555" stroke-width="1" stroke-linecap="butt"/>
<line x1="475.3" y1="584.1" x2="475.3" y2="588.1" stroke="#555" stroke-width="1" stroke-linecap="butt"/>
<line x1="427.4" y1="520.4" x2="431.4" y2="520.4" stroke="#555" stroke-width="1" stroke-linecap="butt"/>
<line x1="495.3" y1="584.1" x2="495.3" y2="588.1" stroke="#555" stroke-width="1" stroke-linecap="butt"/>
<line x1="427.4" y1="500.4" x2="431.4" y2="500.4" stroke="#555" stroke-width="1" stroke-linecap="butt"/>
<line x1="515.3" y1="584.1" x2="515.3" y2="588.1" stroke="#555" stroke-width="1" stroke-linecap="butt"/>
<text x="398.0" y="504.6" font-size="13" fill="#3b3b3b" textLength="24.5" lengthAdjust="spacingAndGlyphs">1.00</text>
<text x="398.0" y="544.6" font-size="13" fill="#3b3b3b" textLength="24.5" lengthAdjust="spacingAndGlyphs">0.98</text>
<text x="398.0" y="584.6" font-size="13" fill="#3b3b3b" textLength="24.5" lengthAdjust="spacingAndGlyphs">0.96</text>
<text x="422.8" y="602.5" font-size="13" fill="#3b3b3b" textLength="26.0" lengthAdjust="spacingAndGlyphs">0.96</text>
<text x="462.8" y="602.5" font-size="13" fill="#3b3b3b" textLength="26.0" lengthAdjust="spacingAndGlyphs">0.98</text>
<text x="502.8" y="602.5" font-size="13" fill="#3b3b3b" textLength="26.0" lengthAdjust="spacingAndGlyphs">1.00</text>
<text x="447.0" y="622.8" font-size="13" fill="#3b3b3b" textLength="56.2" lengthAdjust="spacingAndGlyphs">Precision</text>
<text x="385.7" y="561.5" font-size="13.5" fill="#3b3b3b" textLength="39.5" lengthAdjust="spacingAndGlyphs" transform="rotate(-90 385.7 561.5)">Recall</text>
<line x1="495.2" y1="496.5" x2="495.2" y2="584.1" stroke="#666" stroke-width="1.3" stroke-dasharray="5,3" stroke-linecap="butt"/>
<line x1="431.4" y1="540.5" x2="519.5" y2="540.5" stroke="#666" stroke-width="1.3" stroke-dasharray="5,3" stroke-linecap="butt"/>
<path d="M431.4,509.2 L449.9,509.2 L449.9,510.7 L505.4,510.7 L505.4,512 L514.1,512 L514.1,513 L515,513 L515,541" fill="none" stroke="#e47cc0" stroke-width="1.3" />
<path d="M431.4,522.2 L449.9,522.2 L449.9,527.4 L478.2,527.4 L478.2,531.8 L495.2,531.8 L495.2,535.3 L503.2,535.3 L503.2,539.6 L509.7,539.6 L509.7,546.2 L513,546.2 L513,550.5 L515,550.5 L515,584" fill="none" stroke="#f4c514" stroke-width="1.3" />
<path d="M431.4,530.9 L466.2,530.9 L466.2,533.5 L488,533.5 L488,536.2 L503.2,536.2 L503.2,538.5 L510,538.5 L510,540.5 L515,540.5 L515,549.2" fill="none" stroke="#6db64c" stroke-width="1.3" />
<text x="558.3" y="452.8" font-size="19.5" font-weight="bold" fill="#111" stroke="#111" stroke-width="0.9" stroke-linejoin="round">i</text>
<rect x="621.1" y="453.2" width="19.9" height="36.2" fill="#fff" stroke="#4d6482" stroke-width="1.2" />
<line x1="621.5" y1="463.1" x2="640.6" y2="463.1" stroke="#333" stroke-width="0.9" stroke-linecap="butt"/>
<rect x="622.5" y="460.2" width="5.5" height="5.8" fill="#999" stroke="#555" stroke-width="0.6" />
<rect x="629.5" y="459.8" width="3.2" height="6.6" fill="#e02020" stroke="#333" stroke-width="0.6" />
<path d="M622,481.5 L623.5,482.2 L625.0,480.8 L626.5,482.2 L628.0,480.8 L629.5,482.2 L631.0,480.8 L632.5,482.2 L634.0,480.8 L635.5,482.2 L637.0,480.8 L638.5,482.2 L640.0,480.8" fill="none" stroke="#333" stroke-width="0.8" />
<path d="M628,481.5 L629.5,480.8 L631,482.2 L632.5,480.8 L634,481.5" fill="none" stroke="#e02020" stroke-width="1" />
<text x="654.0" y="467.5" font-size="12" fill="#3b3b3b" textLength="25.0" lengthAdjust="spacingAndGlyphs">mBC</text>
<text x="654.0" y="481.3" font-size="12.5" fill="#3b3b3b" textLength="49.0" lengthAdjust="spacingAndGlyphs">precision</text>
<line x1="631.0" y1="489.4" x2="631.0" y2="504.0" stroke="#3d5a80" stroke-width="1.2" stroke-linecap="butt"/>
<path d="M628.2,502 L631,507.5 L633.8,502 Z" fill="#3d5a80" stroke="none" stroke-width="1" />
<line x1="600.5" y1="497.7" x2="600.5" y2="584.8" stroke="#a0a0a0" stroke-width="1.4" stroke-linecap="butt"/>
<line x1="600.0" y1="584.3" x2="744.5" y2="584.3" stroke="#444" stroke-width="1.1" stroke-linecap="butt"/>
<line x1="596.5" y1="584.3" x2="600.5" y2="584.3" stroke="#777" stroke-width="1" stroke-linecap="butt"/>
<line x1="596.5" y1="557.9" x2="600.5" y2="557.9" stroke="#777" stroke-width="1" stroke-linecap="butt"/>
<line x1="596.5" y1="531.5" x2="600.5" y2="531.5" stroke="#777" stroke-width="1" stroke-linecap="butt"/>
<line x1="596.5" y1="505.1" x2="600.5" y2="505.1" stroke="#777" stroke-width="1" stroke-linecap="butt"/>
<line x1="610.8" y1="581.3" x2="610.8" y2="588.3" stroke="#444" stroke-width="1" stroke-linecap="butt"/>
<line x1="630.8" y1="584.3" x2="630.8" y2="586.3" stroke="#555" stroke-width="0.7" stroke-linecap="butt"/>
<line x1="642.6" y1="584.3" x2="642.6" y2="586.3" stroke="#555" stroke-width="0.7" stroke-linecap="butt"/>
<line x1="650.9" y1="584.3" x2="650.9" y2="586.3" stroke="#555" stroke-width="0.7" stroke-linecap="butt"/>
<line x1="657.4" y1="584.3" x2="657.4" y2="586.3" stroke="#555" stroke-width="0.7" stroke-linecap="butt"/>
<line x1="662.6" y1="584.3" x2="662.6" y2="586.3" stroke="#555" stroke-width="0.7" stroke-linecap="butt"/>
<line x1="667.1" y1="584.3" x2="667.1" y2="586.3" stroke="#555" stroke-width="0.7" stroke-linecap="butt"/>
<line x1="670.9" y1="584.3" x2="670.9" y2="586.3" stroke="#555" stroke-width="0.7" stroke-linecap="butt"/>
<line x1="674.4" y1="584.3" x2="674.4" y2="586.3" stroke="#555" stroke-width="0.7" stroke-linecap="butt"/>
<line x1="677.4" y1="581.3" x2="677.4" y2="588.3" stroke="#444" stroke-width="1" stroke-linecap="butt"/>
<line x1="697.4" y1="584.3" x2="697.4" y2="586.3" stroke="#555" stroke-width="0.7" stroke-linecap="butt"/>
<line x1="709.2" y1="584.3" x2="709.2" y2="586.3" stroke="#555" stroke-width="0.7" stroke-linecap="butt"/>
<line x1="717.5" y1="584.3" x2="717.5" y2="586.3" stroke="#555" stroke-width="0.7" stroke-linecap="butt"/>
<line x1="724.0" y1="584.3" x2="724.0" y2="586.3" stroke="#555" stroke-width="0.7" stroke-linecap="butt"/>
<line x1="729.2" y1="584.3" x2="729.2" y2="586.3" stroke="#555" stroke-width="0.7" stroke-linecap="butt"/>
<line x1="733.7" y1="584.3" x2="733.7" y2="586.3" stroke="#555" stroke-width="0.7" stroke-linecap="butt"/>
<line x1="737.5" y1="584.3" x2="737.5" y2="586.3" stroke="#555" stroke-width="0.7" stroke-linecap="butt"/>
<line x1="741.0" y1="584.3" x2="741.0" y2="586.3" stroke="#555" stroke-width="0.7" stroke-linecap="butt"/>
<line x1="744.0" y1="581.3" x2="744.0" y2="588.3" stroke="#444" stroke-width="1" stroke-linecap="butt"/>
<line x1="600.5" y1="584.3" x2="600.5" y2="586.3" stroke="#555" stroke-width="0.7" stroke-linecap="butt"/>
<line x1="604.3" y1="584.3" x2="604.3" y2="586.3" stroke="#555" stroke-width="0.7" stroke-linecap="butt"/>
<line x1="607.8" y1="584.3" x2="607.8" y2="586.3" stroke="#555" stroke-width="0.7" stroke-linecap="butt"/>
<text x="576.5" y="509.0" font-size="13" fill="#3b3b3b" textLength="15.5" lengthAdjust="spacingAndGlyphs">60</text>
<text x="576.5" y="535.7" font-size="13" fill="#3b3b3b" textLength="15.5" lengthAdjust="spacingAndGlyphs">40</text>
<text x="576.5" y="562.2" font-size="13" fill="#3b3b3b" textLength="15.5" lengthAdjust="spacingAndGlyphs">20</text>
<text x="584.5" y="588.7" font-size="13" fill="#3b3b3b" textLength="7.5" lengthAdjust="spacingAndGlyphs">0</text>
<text x="601.0" y="605.0" font-size="12.5" fill="#3b3b3b">10<tspan font-size="9" dy="-4.8">−1</tspan></text>
<text x="668.0" y="605.0" font-size="12.5" fill="#3b3b3b">10<tspan font-size="9" dy="-4.8">0</tspan></text>
<text x="734.5" y="605.0" font-size="12.5" fill="#3b3b3b">10<tspan font-size="9" dy="-4.8">1</tspan></text>
<text x="600.5" y="623.3" font-size="13.5" fill="#3b3b3b" textLength="143.5" lengthAdjust="spacingAndGlyphs">Coefficient of variation</text>
<text x="593.3" y="639.2" font-size="13.5" fill="#3b3b3b" textLength="163.7" lengthAdjust="spacingAndGlyphs">(mBC UMI) within a clone</text>
<text x="568.3" y="562.5" font-size="14" fill="#3b3b3b" textLength="44.0" lengthAdjust="spacingAndGlyphs" transform="rotate(-90 568.3 562.5)">Counts</text>
<path d="M638.4,584.3 L638.4,583.6 L642.8,583.6 L642.8,583.0 L647.3,583.0 L647.3,583.6 L651.7,583.6 L651.7,583.0 L656.2,583.0 L656.2,582.3 L660.6,582.3 L660.6,583.0 L665.1,583.0 L665.1,581.7 L669.5,581.7 L669.5,582.3 L674.0,582.3 L674.0,581.7 L678.4,581.7 L678.4,583.0 L682.9,583.0 L682.9,581.7 L687.3,581.7 L687.3,583.0 L691.8,583.0 L691.8,581.7 L696.2,581.7 L696.2,569.8 L700.7,569.8 L700.7,561.9 L705.1,561.9 L705.1,544.7 L709.6,544.7 L709.6,556.6 L714.0,556.6 L714.0,564.5 L718.5,564.5 L718.5,564.5 L722.9,564.5 L722.9,568.5 L727.4,568.5 L727.4,576.6 L731.8,576.6 L731.8,581.7 L736.3,581.7 L736.3,581.7 L740.7,581.7 L740.7,581.7 L745.2,581.7 L745.2,584.3" fill="none" stroke="#5fb2e2" stroke-width="1.5" stroke-linejoin="miter"/>
<path d="M638.4,584.3 L638.4,583.0 L642.8,583.0 L642.8,583.6 L647.3,583.6 L647.3,583.0 L651.7,583.0 L651.7,583.0 L656.2,583.0 L656.2,581.7 L660.6,581.7 L660.6,583.0 L665.1,583.0 L665.1,583.0 L669.5,583.0 L669.5,583.0 L674.0,583.0 L674.0,581.7 L678.4,581.7 L678.4,583.0 L682.9,583.0 L682.9,583.0 L687.3,583.0 L687.3,571.4 L691.8,571.4 L691.8,576.6 L696.2,576.6 L696.2,576.6 L700.7,576.6 L700.7,563.2 L705.1,563.2 L705.1,542.5 L709.6,542.5 L709.6,552.6 L714.0,552.6 L714.0,552.6 L718.5,552.6 L718.5,552.6 L722.9,552.6 L722.9,567.4 L727.4,567.4 L727.4,576.6 L731.8,576.6 L731.8,579.4 L736.3,579.4 L736.3,580.5 L740.7,580.5 L740.7,580.5 L745.2,580.5 L745.2,584.3" fill="none" stroke="#1f6db4" stroke-width="1.6" stroke-linejoin="miter"/>
<path d="M616.1,584.3 L616.1,581.7 L620.6,581.7 L620.6,576.4 L625.0,576.4 L625.0,571.1 L629.5,571.1 L629.5,565.8 L633.9,565.8 L633.9,553.9 L638.4,553.9 L638.4,535.5 L642.8,535.5 L642.8,527.5 L647.3,527.5 L647.3,502.5 L651.7,502.5 L651.7,523.6 L656.2,523.6 L656.2,542.1 L660.6,542.1 L660.6,557.9 L665.1,557.9 L665.1,564.5 L669.5,564.5 L669.5,556.6 L674.0,556.6 L674.0,575.1 L678.4,575.1 L678.4,581.7 L682.9,581.7 L682.9,584.3" fill="none" stroke="#f6c7ab" stroke-width="1.5" stroke-linejoin="miter"/>
<path d="M638.4,584.3 L638.4,580.3 L642.8,580.3 L642.8,575.5 L647.3,575.5 L647.3,571.8 L651.7,571.8 L651.7,565.8 L656.2,565.8 L656.2,552.6 L660.6,552.6 L660.6,536.8 L665.1,536.8 L665.1,518.3 L669.5,518.3 L669.5,511.7 L674.0,511.7 L674.0,522.3 L678.4,522.3 L678.4,528.3 L682.9,528.3 L682.9,544.7 L687.3,544.7 L687.3,540.7 L691.8,540.7 L691.8,544.7 L696.2,544.7 L696.2,544.7 L700.7,544.7 L700.7,556.6 L705.1,556.6 L705.1,560.9 L709.6,560.9 L709.6,576.6 L714.0,576.6 L714.0,577.2 L718.5,577.2 L718.5,577.2 L722.9,577.2 L722.9,584.3" fill="none" stroke="#e98560" stroke-width="1.5" stroke-linejoin="miter"/>
<path d="M602.8,584.3 L602.8,583.0 L607.2,583.0 L607.2,583.0 L611.7,583.0 L611.7,580.3 L616.1,580.3 L616.1,580.3 L620.6,580.3 L620.6,572.4 L625.0,572.4 L625.0,557.9 L629.5,557.9 L629.5,546.7 L633.9,546.7 L633.9,545.4 L638.4,545.4 L638.4,542.9 L642.8,542.9 L642.8,545.4 L647.3,545.4 L647.3,552.6 L651.7,552.6 L651.7,558.7 L656.2,558.7 L656.2,567.1 L660.6,567.1 L660.6,575.5 L665.1,575.5 L665.1,573.2 L669.5,573.2 L669.5,577.7 L674.0,577.7 L674.0,577.7 L678.4,577.7 L678.4,577.7 L682.9,577.7 L682.9,577.7 L687.3,577.7 L687.3,577.7 L691.8,577.7 L691.8,581.7 L696.2,581.7 L696.2,579.7 L700.7,579.7 L700.7,577.2 L705.1,577.2 L705.1,580.5 L709.6,580.5 L709.6,579.4 L714.0,579.4 L714.0,583.6 L718.5,583.6 L718.5,582.6 L722.9,582.6 L722.9,584.3" fill="none" stroke="#b8163c" stroke-width="1.7" stroke-linejoin="miter"/>
</svg></body></html>
